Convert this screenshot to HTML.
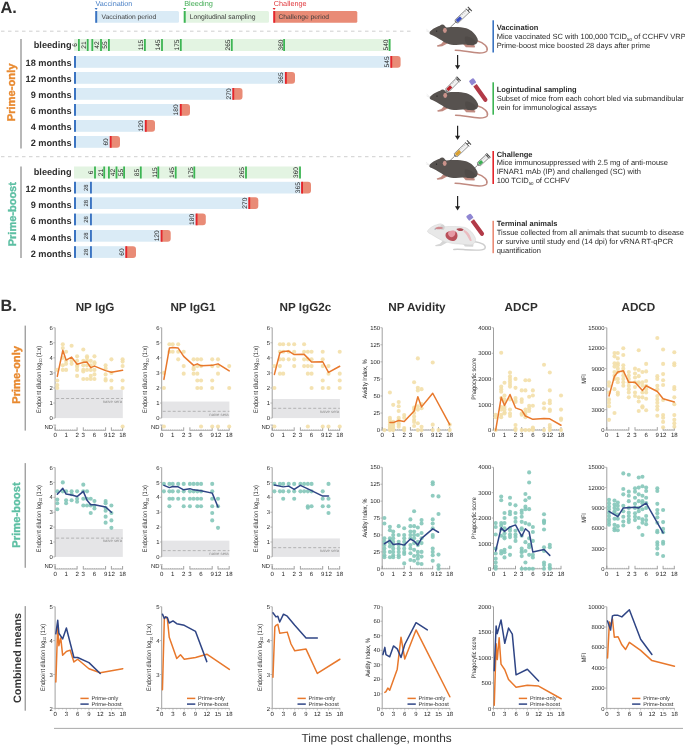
<!DOCTYPE html>
<html><head><meta charset="utf-8"><style>
html,body{margin:0;padding:0;background:#fff;}
svg{display:block;will-change:transform;}
text{font-family:"Liberation Sans",sans-serif;}
</style></head><body>
<svg width="685" height="745" viewBox="0 0 685 745" font-family="Liberation Sans, sans-serif" text-rendering="geometricPrecision">
<rect width="685" height="745" fill="#fff"/>
<text x="0.4" y="12.6" font-size="16.4" font-weight="bold" fill="#2e2e2e" text-anchor="start" >A.</text>
<text x="95.6" y="6.4" font-size="7.2" font-weight="normal" fill="#4a80c6" text-anchor="start" >Vaccination</text>
<path d="M94.6,8 L97.6,8 L96.1,10 Z" fill="#3b74c2"/>
<rect x="96" y="11" width="83" height="11.8" rx="1.5" fill="#daebf6"/>
<rect x="95.2" y="11" width="2" height="11.8" fill="#3b74c2"/>
<text x="101.6" y="19.2" font-size="6.7" font-weight="normal" fill="#3a3a3a" text-anchor="start" >Vaccination period</text>
<text x="184.2" y="6.4" font-size="7.4" font-weight="normal" fill="#45ad57" text-anchor="start" >Bleeding</text>
<path d="M183.2,8 L186.2,8 L184.7,10 Z" fill="#3db554"/>
<rect x="184.5" y="11" width="84.5" height="11.8" rx="1.5" fill="#e3f4e2"/>
<rect x="183.7" y="11" width="2" height="11.8" fill="#3db554"/>
<text x="189.7" y="19.2" font-size="6.8" font-weight="normal" fill="#3a3a3a" text-anchor="start" >Longitudinal sampling</text>
<text x="273.8" y="6.4" font-size="7.3" font-weight="normal" fill="#e0393e" text-anchor="start" >Challenge</text>
<path d="M272.6,8 L275.6,8 L274.1,10 Z" fill="#e4262c"/>
<rect x="274" y="11" width="83.3" height="11.8" rx="1.5" fill="#e98b76"/>
<rect x="273.2" y="11" width="2" height="11.8" fill="#e4262c"/>
<text x="278.5" y="19.2" font-size="6.7" font-weight="normal" fill="#3a3a3a" text-anchor="start" >Challenge period</text>
<line x1="1" y1="31.2" x2="412" y2="31.2" stroke="#cfcfcf" stroke-width="1" stroke-dasharray="3.5,3.5"/>
<line x1="1" y1="156.7" x2="412" y2="156.7" stroke="#cfcfcf" stroke-width="1" stroke-dasharray="3.5,3.5"/>
<rect x="20.3" y="39" width="1.4" height="109.5" fill="#9a9a9a"/>
<rect x="20.3" y="166.5" width="1.4" height="91.5" fill="#9a9a9a"/>
<text transform="translate(15.4,92.4) rotate(-90)" font-size="11.2" font-weight="bold" fill="#e8892f" text-anchor="middle" stroke="#e8892f" stroke-width="0.35">Prime-only</text>
<text transform="translate(16.2,214.2) rotate(-90)" font-size="11.0" font-weight="bold" fill="#5dbfa3" text-anchor="middle" stroke="#5dbfa3" stroke-width="0.35">Prime-boost</text>
<text x="71.5" y="47.6" font-size="9.2" font-weight="bold" fill="#2e2e2e" text-anchor="end" >bleeding</text>
<rect x="74" y="39" width="316.8" height="12" fill="#e3f4e2"/>
<rect x="78.0" y="39" width="1.8" height="12" fill="#3db554"/>
<text transform="translate(77.30000000000001,45.0) rotate(-90)" font-size="6.6" font-weight="normal" fill="#262626" text-anchor="middle" >6</text>
<rect x="86.8" y="39" width="1.8" height="12" fill="#3db554"/>
<text transform="translate(86.10000000000001,45.0) rotate(-90)" font-size="6.6" font-weight="normal" fill="#262626" text-anchor="middle" >21</text>
<rect x="91.39999999999999" y="39" width="1.8" height="12" fill="#3db554"/>
<rect x="100.1" y="39" width="1.8" height="12" fill="#3db554"/>
<text transform="translate(99.4,45.0) rotate(-90)" font-size="6.6" font-weight="normal" fill="#262626" text-anchor="middle" >42</text>
<rect x="108.0" y="39" width="1.8" height="12" fill="#3db554"/>
<text transform="translate(107.30000000000001,45.0) rotate(-90)" font-size="6.6" font-weight="normal" fill="#262626" text-anchor="middle" >55</text>
<rect x="144.0" y="39" width="1.8" height="12" fill="#3db554"/>
<text transform="translate(143.3,45.0) rotate(-90)" font-size="6.6" font-weight="normal" fill="#262626" text-anchor="middle" >115</text>
<rect x="161.1" y="39" width="1.8" height="12" fill="#3db554"/>
<text transform="translate(160.4,45.0) rotate(-90)" font-size="6.6" font-weight="normal" fill="#262626" text-anchor="middle" >145</text>
<rect x="179.9" y="39" width="1.8" height="12" fill="#3db554"/>
<text transform="translate(179.20000000000002,45.0) rotate(-90)" font-size="6.6" font-weight="normal" fill="#262626" text-anchor="middle" >175</text>
<rect x="230.9" y="39" width="1.8" height="12" fill="#3db554"/>
<text transform="translate(230.20000000000002,45.0) rotate(-90)" font-size="6.6" font-weight="normal" fill="#262626" text-anchor="middle" >265</text>
<rect x="283.20000000000005" y="39" width="1.8" height="12" fill="#3db554"/>
<text transform="translate(282.5,45.0) rotate(-90)" font-size="6.6" font-weight="normal" fill="#262626" text-anchor="middle" >360</text>
<rect x="388.70000000000005" y="39" width="1.8" height="12" fill="#3db554"/>
<text transform="translate(388.0,45.0) rotate(-90)" font-size="6.6" font-weight="normal" fill="#262626" text-anchor="middle" >540</text>
<text x="71.5" y="65.7" font-size="9.2" font-weight="bold" fill="#2e2e2e" text-anchor="end" >18 months</text>
<rect x="74" y="56" width="316.8" height="11.8" fill="#daebf6"/>
<rect x="74" y="56" width="2" height="11.8" fill="#3b74c2"/>
<path d="M390.8,56 H397.6 Q400.6,56 400.6,59 V64.8 Q400.6,67.8 397.6,67.8 H390.8 Z" fill="#e98b76"/>
<rect x="390.3" y="56" width="1.9" height="11.8" fill="#e4262c"/>
<text transform="translate(388.7,61.9) rotate(-90)" font-size="6.6" font-weight="normal" fill="#262626" text-anchor="middle" >545</text>
<text x="71.5" y="81.7" font-size="9.2" font-weight="bold" fill="#2e2e2e" text-anchor="end" >12 months</text>
<rect x="74" y="72" width="211.39999999999998" height="11.8" fill="#daebf6"/>
<rect x="74" y="72" width="2" height="11.8" fill="#3b74c2"/>
<path d="M285.4,72 H292 Q295,72 295,75 V80.8 Q295,83.8 292,83.8 H285.4 Z" fill="#e98b76"/>
<rect x="284.9" y="72" width="1.9" height="11.8" fill="#e4262c"/>
<text transform="translate(283.29999999999995,77.9) rotate(-90)" font-size="6.6" font-weight="normal" fill="#262626" text-anchor="middle" >365</text>
<text x="71.5" y="97.7" font-size="9.2" font-weight="bold" fill="#2e2e2e" text-anchor="end" >9 months</text>
<rect x="74" y="88" width="158.8" height="11.8" fill="#daebf6"/>
<rect x="74" y="88" width="2" height="11.8" fill="#3b74c2"/>
<path d="M232.8,88 H239.5 Q242.5,88 242.5,91 V96.8 Q242.5,99.8 239.5,99.8 H232.8 Z" fill="#e98b76"/>
<rect x="232.3" y="88" width="1.9" height="11.8" fill="#e4262c"/>
<text transform="translate(230.70000000000002,93.9) rotate(-90)" font-size="6.6" font-weight="normal" fill="#262626" text-anchor="middle" >270</text>
<text x="71.5" y="113.7" font-size="9.2" font-weight="bold" fill="#2e2e2e" text-anchor="end" >6 months</text>
<rect x="74" y="104" width="106.30000000000001" height="11.8" fill="#daebf6"/>
<rect x="74" y="104" width="2" height="11.8" fill="#3b74c2"/>
<path d="M180.3,104 H187 Q190,104 190,107 V112.8 Q190,115.8 187,115.8 H180.3 Z" fill="#e98b76"/>
<rect x="179.8" y="104" width="1.9" height="11.8" fill="#e4262c"/>
<text transform="translate(178.20000000000002,109.9) rotate(-90)" font-size="6.6" font-weight="normal" fill="#262626" text-anchor="middle" >180</text>
<text x="71.5" y="129.7" font-size="9.2" font-weight="bold" fill="#2e2e2e" text-anchor="end" >4 months</text>
<rect x="74" y="120" width="71.30000000000001" height="11.8" fill="#daebf6"/>
<rect x="74" y="120" width="2" height="11.8" fill="#3b74c2"/>
<path d="M145.3,120 H152 Q155,120 155,123 V128.8 Q155,131.8 152,131.8 H145.3 Z" fill="#e98b76"/>
<rect x="144.8" y="120" width="1.9" height="11.8" fill="#e4262c"/>
<text transform="translate(143.20000000000002,125.9) rotate(-90)" font-size="6.6" font-weight="normal" fill="#262626" text-anchor="middle" >120</text>
<text x="71.5" y="145.7" font-size="9.2" font-weight="bold" fill="#2e2e2e" text-anchor="end" >2 months</text>
<rect x="74" y="136" width="36.2" height="11.8" fill="#daebf6"/>
<rect x="74" y="136" width="2" height="11.8" fill="#3b74c2"/>
<path d="M110.2,136 H117 Q120,136 120,139 V144.8 Q120,147.8 117,147.8 H110.2 Z" fill="#e98b76"/>
<rect x="109.7" y="136" width="1.9" height="11.8" fill="#e4262c"/>
<text transform="translate(108.10000000000001,141.9) rotate(-90)" font-size="6.6" font-weight="normal" fill="#262626" text-anchor="middle" >60</text>
<text x="71.5" y="175.2" font-size="9.2" font-weight="bold" fill="#2e2e2e" text-anchor="end" >bleeding</text>
<rect x="74" y="166.5" width="226.6" height="12" fill="#e3f4e2"/>
<rect x="94.1" y="166.5" width="1.8" height="12" fill="#3db554"/>
<text transform="translate(93.4,172.5) rotate(-90)" font-size="6.6" font-weight="normal" fill="#262626" text-anchor="middle" >6</text>
<rect x="103.3" y="166.5" width="1.8" height="12" fill="#3db554"/>
<text transform="translate(102.60000000000001,172.5) rotate(-90)" font-size="6.6" font-weight="normal" fill="#262626" text-anchor="middle" >21</text>
<rect x="108.0" y="166.5" width="1.8" height="12" fill="#3db554"/>
<rect x="115.6" y="166.5" width="1.8" height="12" fill="#3db554"/>
<text transform="translate(114.9,172.5) rotate(-90)" font-size="6.6" font-weight="normal" fill="#262626" text-anchor="middle" >42</text>
<rect x="123.19999999999999" y="166.5" width="1.8" height="12" fill="#3db554"/>
<text transform="translate(122.5,172.5) rotate(-90)" font-size="6.6" font-weight="normal" fill="#262626" text-anchor="middle" >55</text>
<rect x="139.9" y="166.5" width="1.8" height="12" fill="#3db554"/>
<text transform="translate(139.20000000000002,172.5) rotate(-90)" font-size="6.6" font-weight="normal" fill="#262626" text-anchor="middle" >85</text>
<rect x="157.4" y="166.5" width="1.8" height="12" fill="#3db554"/>
<text transform="translate(156.70000000000002,172.5) rotate(-90)" font-size="6.6" font-weight="normal" fill="#262626" text-anchor="middle" >115</text>
<rect x="174.79999999999998" y="166.5" width="1.8" height="12" fill="#3db554"/>
<text transform="translate(174.1,172.5) rotate(-90)" font-size="6.6" font-weight="normal" fill="#262626" text-anchor="middle" >145</text>
<rect x="193.4" y="166.5" width="1.8" height="12" fill="#3db554"/>
<text transform="translate(192.70000000000002,172.5) rotate(-90)" font-size="6.6" font-weight="normal" fill="#262626" text-anchor="middle" >175</text>
<rect x="245.1" y="166.5" width="1.8" height="12" fill="#3db554"/>
<text transform="translate(244.4,172.5) rotate(-90)" font-size="6.6" font-weight="normal" fill="#262626" text-anchor="middle" >265</text>
<rect x="299.1" y="166.5" width="1.8" height="12" fill="#3db554"/>
<text transform="translate(298.4,172.5) rotate(-90)" font-size="6.6" font-weight="normal" fill="#262626" text-anchor="middle" >360</text>
<text x="71.5" y="192.3" font-size="9.2" font-weight="bold" fill="#2e2e2e" text-anchor="end" >12 months</text>
<rect x="74" y="181.8" width="227.60000000000002" height="11.7" fill="#daebf6"/>
<rect x="74" y="181.8" width="2" height="11.7" fill="#3b74c2"/>
<rect x="90" y="181.8" width="1.9" height="11.7" fill="#3b74c2"/>
<text transform="translate(88.3,187.65) rotate(-90)" font-size="6.0" font-weight="normal" fill="#262626" text-anchor="middle" >28</text>
<path d="M301.6,181.8 H308 Q311,181.8 311,184.8 V190.5 Q311,193.5 308,193.5 H301.6 Z" fill="#e98b76"/>
<rect x="301.1" y="181.8" width="1.9" height="11.7" fill="#e4262c"/>
<text transform="translate(299.5,187.65) rotate(-90)" font-size="6.6" font-weight="normal" fill="#262626" text-anchor="middle" >365</text>
<text x="71.5" y="207.8" font-size="9.2" font-weight="bold" fill="#2e2e2e" text-anchor="end" >9 months</text>
<rect x="74" y="197.3" width="174.8" height="11.7" fill="#daebf6"/>
<rect x="74" y="197.3" width="2" height="11.7" fill="#3b74c2"/>
<rect x="90" y="197.3" width="1.9" height="11.7" fill="#3b74c2"/>
<text transform="translate(88.3,203.15) rotate(-90)" font-size="6.0" font-weight="normal" fill="#262626" text-anchor="middle" >28</text>
<path d="M248.8,197.3 H255.3 Q258.3,197.3 258.3,200.3 V206.0 Q258.3,209.0 255.3,209.0 H248.8 Z" fill="#e98b76"/>
<rect x="248.3" y="197.3" width="1.9" height="11.7" fill="#e4262c"/>
<text transform="translate(246.70000000000002,203.15) rotate(-90)" font-size="6.6" font-weight="normal" fill="#262626" text-anchor="middle" >270</text>
<text x="71.5" y="224.1" font-size="9.2" font-weight="bold" fill="#2e2e2e" text-anchor="end" >6 months</text>
<rect x="74" y="213.6" width="122.1" height="11.7" fill="#daebf6"/>
<rect x="74" y="213.6" width="2" height="11.7" fill="#3b74c2"/>
<rect x="90" y="213.6" width="1.9" height="11.7" fill="#3b74c2"/>
<text transform="translate(88.3,219.45) rotate(-90)" font-size="6.0" font-weight="normal" fill="#262626" text-anchor="middle" >28</text>
<path d="M196.1,213.6 H202.8 Q205.8,213.6 205.8,216.6 V222.29999999999998 Q205.8,225.29999999999998 202.8,225.29999999999998 H196.1 Z" fill="#e98b76"/>
<rect x="195.6" y="213.6" width="1.9" height="11.7" fill="#e4262c"/>
<text transform="translate(194.0,219.45) rotate(-90)" font-size="6.6" font-weight="normal" fill="#262626" text-anchor="middle" >180</text>
<text x="71.5" y="240.5" font-size="9.2" font-weight="bold" fill="#2e2e2e" text-anchor="end" >4 months</text>
<rect x="74" y="230.0" width="87.1" height="11.7" fill="#daebf6"/>
<rect x="74" y="230.0" width="2" height="11.7" fill="#3b74c2"/>
<rect x="90" y="230.0" width="1.9" height="11.7" fill="#3b74c2"/>
<text transform="translate(88.3,235.85) rotate(-90)" font-size="6.0" font-weight="normal" fill="#262626" text-anchor="middle" >28</text>
<path d="M161.1,230.0 H167.7 Q170.7,230.0 170.7,233.0 V238.7 Q170.7,241.7 167.7,241.7 H161.1 Z" fill="#e98b76"/>
<rect x="160.6" y="230.0" width="1.9" height="11.7" fill="#e4262c"/>
<text transform="translate(159.0,235.85) rotate(-90)" font-size="6.6" font-weight="normal" fill="#262626" text-anchor="middle" >120</text>
<text x="71.5" y="256.7" font-size="9.2" font-weight="bold" fill="#2e2e2e" text-anchor="end" >2 months</text>
<rect x="74" y="246.2" width="51.8" height="11.7" fill="#daebf6"/>
<rect x="74" y="246.2" width="2" height="11.7" fill="#3b74c2"/>
<rect x="90" y="246.2" width="1.9" height="11.7" fill="#3b74c2"/>
<text transform="translate(88.3,252.04999999999998) rotate(-90)" font-size="6.0" font-weight="normal" fill="#262626" text-anchor="middle" >28</text>
<path d="M125.8,246.2 H133 Q136,246.2 136,249.2 V254.89999999999998 Q136,257.9 133,257.9 H125.8 Z" fill="#e98b76"/>
<rect x="125.3" y="246.2" width="1.9" height="11.7" fill="#e4262c"/>
<text transform="translate(123.7,252.04999999999998) rotate(-90)" font-size="6.6" font-weight="normal" fill="#262626" text-anchor="middle" >60</text>
<g transform="translate(429.3,32.6)">
<path d="M47.6,8.2 C55,10.2 59.2,14.6 57.6,18.2 C55.4,21.6 46,20.4 38,19 C33,18.2 29,17.6 26,17.6" fill="none" stroke="#c08a80" stroke-width="1.5" stroke-linecap="round"/>
<path d="M14.2,8.6 L11.8,11.4 L7.6,13 L8.2,14.1 L13,13.7 L16.6,11.6 L18.6,10.6 Z" fill="#c08a80"/>
<path d="M33.6,11.2 L36.6,14.6 L45.4,14.8 L45.8,13.2 L42.6,11.6 Z" fill="#c08a80"/>
<path d="M0,0 C1.8,-2.8 6.5,-5.6 10.5,-6.8 C12,-8.4 14,-8.6 15.2,-7.2 C16,-6.2 16.4,-5.6 17.5,-5.2 C23,-5.8 31,-6 37,-4.4 C42,-2.8 46.6,1.6 48.3,6.2 C49.2,9.4 47.4,12 44,12.6 C40,12.9 36.5,11.8 33,12 C28,12.6 22,12.8 18,10.8 L15,9.6 C12,7.6 8,5.2 4.2,3.2 C2,2.2 -0.2,1.8 0,0 Z" fill="#57524f"/>
<path d="M36,4 C41,4 45,6.5 46.5,10 C45.5,12 42,12.8 38,12.2 C35.5,10 35,6 36,4 Z" fill="#504b48"/>
<ellipse cx="15.6" cy="-2.3" rx="1.9" ry="2.6" fill="#c9928a"/>
<circle cx="7.4" cy="-1.5" r="0.6" fill="#1a1a1a"/>
<path d="M0.5,-0.5 L-3,-3.5 M0.5,-0.2 L-3.2,-1.8" stroke="#dddddd" stroke-width="0.5"/>
</g>
<g transform="translate(450.4,27.2) rotate(-43.17)">
<line x1="0" y1="0" x2="6.92" y2="0" stroke="#4a4a4a" stroke-width="0.6"/>
<path d="M6.92,-0.8 L8.12,-2.1 L8.12,2.1 L6.92,0.8 Z" fill="#6a6a6a"/>
<rect x="8.12" y="-2.2" width="15.96" height="4.4" rx="0.5" fill="#f2f2f2" stroke="#5e5e5e" stroke-width="0.6"/>
<rect x="8.72" y="-1.6" width="5.75" height="3.2" fill="#3a4fc0"/>
<line x1="15.30" y1="-2.2" x2="15.30" y2="-0.5" stroke="#888" stroke-width="0.45"/>
<line x1="17.37" y1="-2.2" x2="17.37" y2="-0.5" stroke="#888" stroke-width="0.45"/>
<line x1="19.45" y1="-2.2" x2="19.45" y2="-0.5" stroke="#888" stroke-width="0.45"/>
<line x1="21.52" y1="-2.2" x2="21.52" y2="-0.5" stroke="#888" stroke-width="0.45"/>
<line x1="24.08" y1="-2.8" x2="24.08" y2="2.8" stroke="#4a4a4a" stroke-width="0.8"/>
<line x1="24.08" y1="0" x2="26.60" y2="0" stroke="#4a4a4a" stroke-width="1.0"/>
<line x1="26.60" y1="-2.9" x2="26.60" y2="2.9" stroke="#4a4a4a" stroke-width="1.1"/>
</g>
<line x1="457.6" y1="55" x2="457.6" y2="66.5" stroke="#222" stroke-width="1.2"/><path d="M455.0,65.3 L460.20000000000005,65.3 L457.6,69.5 Z" fill="#222"/>
<g transform="translate(429.6,97.6)">
<path d="M47.6,8.2 C55,10.2 59.2,14.6 57.6,18.2 C55.4,21.6 46,20.4 38,19 C33,18.2 29,17.6 26,17.6" fill="none" stroke="#c08a80" stroke-width="1.5" stroke-linecap="round"/>
<path d="M14.2,8.6 L11.8,11.4 L7.6,13 L8.2,14.1 L13,13.7 L16.6,11.6 L18.6,10.6 Z" fill="#c08a80"/>
<path d="M33.6,11.2 L36.6,14.6 L45.4,14.8 L45.8,13.2 L42.6,11.6 Z" fill="#c08a80"/>
<path d="M0,0 C1.8,-2.8 6.5,-5.6 10.5,-6.8 C12,-8.4 14,-8.6 15.2,-7.2 C16,-6.2 16.4,-5.6 17.5,-5.2 C23,-5.8 31,-6 37,-4.4 C42,-2.8 46.6,1.6 48.3,6.2 C49.2,9.4 47.4,12 44,12.6 C40,12.9 36.5,11.8 33,12 C28,12.6 22,12.8 18,10.8 L15,9.6 C12,7.6 8,5.2 4.2,3.2 C2,2.2 -0.2,1.8 0,0 Z" fill="#57524f"/>
<path d="M36,4 C41,4 45,6.5 46.5,10 C45.5,12 42,12.8 38,12.2 C35.5,10 35,6 36,4 Z" fill="#504b48"/>
<ellipse cx="15.6" cy="-2.3" rx="1.9" ry="2.6" fill="#c9928a"/>
<circle cx="7.4" cy="-1.5" r="0.6" fill="#1a1a1a"/>
<path d="M0.5,-0.5 L-3,-3.5 M0.5,-0.2 L-3.2,-1.8" stroke="#dddddd" stroke-width="0.5"/>
</g>
<g transform="translate(444.4,93.2) rotate(-45.40)">
<line x1="0" y1="0" x2="2.43" y2="0" stroke="#4a4a4a" stroke-width="0.6"/>
<path d="M2.43,-0.8 L3.63,-2.1 L3.63,2.1 L2.43,0.8 Z" fill="#6a6a6a"/>
<rect x="3.63" y="-2.2" width="14.97" height="4.4" rx="0.5" fill="#f2f2f2" stroke="#5e5e5e" stroke-width="0.6"/>
<rect x="4.23" y="-1.6" width="5.39" height="3.2" fill="#b8232c"/>
<line x1="10.36" y1="-2.2" x2="10.36" y2="-0.5" stroke="#888" stroke-width="0.45"/>
<line x1="12.31" y1="-2.2" x2="12.31" y2="-0.5" stroke="#888" stroke-width="0.45"/>
<line x1="14.25" y1="-2.2" x2="14.25" y2="-0.5" stroke="#888" stroke-width="0.45"/>
<line x1="16.20" y1="-2.2" x2="16.20" y2="-0.5" stroke="#888" stroke-width="0.45"/>
<line x1="18.59" y1="-2.8" x2="18.59" y2="2.8" stroke="#4a4a4a" stroke-width="0.8"/>
<line x1="18.59" y1="0" x2="20.22" y2="0" stroke="#4a4a4a" stroke-width="1.0"/>
<line x1="20.22" y1="-2.9" x2="20.22" y2="2.9" stroke="#4a4a4a" stroke-width="1.1"/>
</g>
<g transform="translate(471.2,79.8) rotate(54.51)">
<rect x="-0.4" y="-2.8" width="5.6" height="5.6" rx="1.2" fill="#8f86d2"/>
<rect x="5" y="-2" width="1.8" height="4" fill="#f2f2f2"/>
<path d="M6.6,-2.1 H24.43 A2.1,2.1 0 0 1 24.43,2.1 H6.6 Z" fill="#b23a48"/>
</g>
<line x1="457.6" y1="125.8" x2="457.6" y2="137" stroke="#222" stroke-width="1.2"/><path d="M455.0,135.8 L460.20000000000005,135.8 L457.6,140 Z" fill="#222"/>
<g transform="translate(429.1,165.6)">
<path d="M47.6,8.2 C55,10.2 59.2,14.6 57.6,18.2 C55.4,21.6 46,20.4 38,19 C33,18.2 29,17.6 26,17.6" fill="none" stroke="#c08a80" stroke-width="1.5" stroke-linecap="round"/>
<path d="M14.2,8.6 L11.8,11.4 L7.6,13 L8.2,14.1 L13,13.7 L16.6,11.6 L18.6,10.6 Z" fill="#c08a80"/>
<path d="M33.6,11.2 L36.6,14.6 L45.4,14.8 L45.8,13.2 L42.6,11.6 Z" fill="#c08a80"/>
<path d="M0,0 C1.8,-2.8 6.5,-5.6 10.5,-6.8 C12,-8.4 14,-8.6 15.2,-7.2 C16,-6.2 16.4,-5.6 17.5,-5.2 C23,-5.8 31,-6 37,-4.4 C42,-2.8 46.6,1.6 48.3,6.2 C49.2,9.4 47.4,12 44,12.6 C40,12.9 36.5,11.8 33,12 C28,12.6 22,12.8 18,10.8 L15,9.6 C12,7.6 8,5.2 4.2,3.2 C2,2.2 -0.2,1.8 0,0 Z" fill="#57524f"/>
<path d="M36,4 C41,4 45,6.5 46.5,10 C45.5,12 42,12.8 38,12.2 C35.5,10 35,6 36,4 Z" fill="#504b48"/>
<ellipse cx="15.6" cy="-2.3" rx="1.9" ry="2.6" fill="#c9928a"/>
<circle cx="7.4" cy="-1.5" r="0.6" fill="#1a1a1a"/>
<path d="M0.5,-0.5 L-3,-3.5 M0.5,-0.2 L-3.2,-1.8" stroke="#dddddd" stroke-width="0.5"/>
</g>
<g transform="translate(449.6,161.0) rotate(-43.48)">
<line x1="0" y1="0" x2="6.95" y2="0" stroke="#4a4a4a" stroke-width="0.6"/>
<path d="M6.95,-0.8 L8.15,-2.1 L8.15,2.1 L6.95,0.8 Z" fill="#6a6a6a"/>
<rect x="8.15" y="-2.2" width="16.04" height="4.4" rx="0.5" fill="#f2f2f2" stroke="#5e5e5e" stroke-width="0.6"/>
<rect x="8.75" y="-1.6" width="5.78" height="3.2" fill="#d9a030"/>
<line x1="15.37" y1="-2.2" x2="15.37" y2="-0.5" stroke="#888" stroke-width="0.45"/>
<line x1="17.46" y1="-2.2" x2="17.46" y2="-0.5" stroke="#888" stroke-width="0.45"/>
<line x1="19.54" y1="-2.2" x2="19.54" y2="-0.5" stroke="#888" stroke-width="0.45"/>
<line x1="21.63" y1="-2.2" x2="21.63" y2="-0.5" stroke="#888" stroke-width="0.45"/>
<line x1="24.19" y1="-2.8" x2="24.19" y2="2.8" stroke="#4a4a4a" stroke-width="0.8"/>
<line x1="24.19" y1="0" x2="26.74" y2="0" stroke="#4a4a4a" stroke-width="1.0"/>
<line x1="26.74" y1="-2.9" x2="26.74" y2="2.9" stroke="#4a4a4a" stroke-width="1.1"/>
</g>
<g transform="translate(473.9,168.7) rotate(-42.53)">
<line x1="0" y1="0" x2="5.12" y2="0" stroke="#4a4a4a" stroke-width="0.6"/>
<path d="M5.12,-0.8 L6.32,-2.1 L6.32,2.1 L5.12,0.8 Z" fill="#6a6a6a"/>
<rect x="6.32" y="-2.2" width="11.81" height="4.4" rx="0.5" fill="#f2f2f2" stroke="#5e5e5e" stroke-width="0.6"/>
<rect x="6.92" y="-1.6" width="4.25" height="3.2" fill="#3cae54"/>
<line x1="11.63" y1="-2.2" x2="11.63" y2="-0.5" stroke="#888" stroke-width="0.45"/>
<line x1="13.16" y1="-2.2" x2="13.16" y2="-0.5" stroke="#888" stroke-width="0.45"/>
<line x1="14.70" y1="-2.2" x2="14.70" y2="-0.5" stroke="#888" stroke-width="0.45"/>
<line x1="16.23" y1="-2.2" x2="16.23" y2="-0.5" stroke="#888" stroke-width="0.45"/>
<line x1="18.12" y1="-2.8" x2="18.12" y2="2.8" stroke="#4a4a4a" stroke-width="0.8"/>
<line x1="18.12" y1="0" x2="19.68" y2="0" stroke="#4a4a4a" stroke-width="1.0"/>
<line x1="19.68" y1="-2.9" x2="19.68" y2="2.9" stroke="#4a4a4a" stroke-width="1.1"/>
</g>
<line x1="457.6" y1="196" x2="457.6" y2="207.5" stroke="#222" stroke-width="1.2"/><path d="M455.0,206.3 L460.20000000000005,206.3 L457.6,210.5 Z" fill="#222"/>
<g transform="translate(427.5,230.9)">
<path d="M46.5,10.5 C54,11.5 59.5,14.5 57.2,17.8 C54.5,20.2 44,19.2 36,18.6 C31,18.3 28,18.4 26.3,18.5" fill="none" stroke="#cdcdcd" stroke-width="1.5" stroke-linecap="round"/>
<path d="M15.5,9.5 L12.5,12.8 L7.6,14.4 L8.2,15.4 L13.4,15 L17.8,12.6 L19.6,11.4 Z" fill="#d6d6d6"/>
<path d="M35,12.2 L37.4,15.6 L45.6,15.8 L46,13.6 L43,12.4 Z" fill="#d6d6d6"/>
<path d="M0,0 C2,-3 6,-5.5 9.4,-6.2 C11,-6.8 12.5,-7.2 13.5,-7 C15,-6.6 16.5,-5 17.3,-4.2 C24,-4.6 31,-4.6 37,-3.6 C42,-2 46,2.5 48,7.5 C48.8,10.5 46.5,13.5 43.5,14 C39,14.2 35,13 31,13 C27,13 24,12.5 21,11.6 L17.5,11 C13,9 8,6 4,3.5 C2,2.5 -0.3,1.5 0,0 Z" fill="#e8e8e8" stroke="#d2d2d2" stroke-width="0.5"/>
<ellipse cx="15" cy="-3.6" rx="2.2" ry="2.8" fill="#d3d3d3"/>
<path d="M7.5,-2.5 C9.5,-4.5 13.5,-4.5 16,-3 C14,-1.5 10,-1 7.5,-2.5 Z" fill="#cf8b90"/>
<circle cx="7.6" cy="-1.8" r="0.55" fill="#6a7c90"/>
<path d="M18,4 C18,1.5 21,0 24,0.5 C27,-0.5 30,1 30,4.5 C30,8 28,10 25,10 C23,10 21,9 19.5,7.5 C18.5,6.5 18,5.5 18,4 Z" fill="#b9505a"/>
<path d="M20.5,2 C21.5,-0.5 25,-1 27.5,0 C28.5,2 27.5,5 25,6.2 C22.5,6.5 20.5,4.5 20.5,2 Z" fill="#e69aa5"/>
<path d="M28.8,-2 C31,-3 34.5,-2.8 36.2,-1.5 C35,0.5 31.5,1 28.8,-2 Z" fill="#b04a53"/>
<path d="M36.5,-1 C40,0 43,4 44.3,9.9 L42.5,10.2 C40.5,6 38.5,2.5 36,0.5 Z" fill="#ebbcc0"/>
</g>
<g transform="translate(468.4,215.2) rotate(53.77)">
<rect x="-0.4" y="-2.8" width="5.6" height="5.6" rx="1.2" fill="#8f86d2"/>
<rect x="5" y="-2" width="1.8" height="4" fill="#f2f2f2"/>
<path d="M6.6,-2.1 H22.94 A2.1,2.1 0 0 1 22.94,2.1 H6.6 Z" fill="#b23a48"/>
</g>
<rect x="492.4" y="20.3" width="1.6" height="32.2" fill="#3b74c2"/>
<text x="496.7" y="30.20" font-size="7.5" fill="#2a2a2a"><tspan font-weight="bold">Vaccination</tspan></text>
<text x="496.7" y="39.00" font-size="7.5" fill="#2a2a2a">Mice vaccinated SC with 100,000 TCID<tspan font-size="4.4" dy="1.9">50</tspan><tspan dy="-1.9"> of CCHFV VRP</tspan></text>
<text x="496.7" y="47.80" font-size="7.5" fill="#2a2a2a">Prime-boost mice boosted 28 days after prime</text>
<rect x="492.4" y="82.3" width="1.6" height="32.4" fill="#3db554"/>
<text x="496.7" y="91.90" font-size="7.5" fill="#2a2a2a"><tspan font-weight="bold">Logintudinal sampling</tspan></text>
<text x="496.7" y="100.70" font-size="7.5" fill="#2a2a2a">Subset of mice from each cohort bled via submandibular</text>
<text x="496.7" y="109.50" font-size="7.5" fill="#2a2a2a">vein for immunological assays</text>
<rect x="492.4" y="151.0" width="1.6" height="33.0" fill="#e4262c"/>
<text x="496.7" y="156.60" font-size="7.5" fill="#2a2a2a"><tspan font-weight="bold">Challenge</tspan></text>
<text x="496.7" y="165.40" font-size="7.5" fill="#2a2a2a">Mice immunosuppressed with 2.5 mg of anti-mouse</text>
<text x="496.7" y="174.20" font-size="7.5" fill="#2a2a2a">IFNAR1 mAb (IP) and challenged (SC) with</text>
<text x="496.7" y="183.00" font-size="7.5" fill="#2a2a2a">100 TCID<tspan font-size="4.4" dy="1.9">50</tspan><tspan dy="-1.9"> of CCHFV</tspan></text>
<rect x="492.4" y="220.8" width="1.6" height="32.4" fill="#e98b76"/>
<text x="496.7" y="226.10" font-size="7.5" fill="#2a2a2a"><tspan font-weight="bold">Terminal animals</tspan></text>
<text x="496.7" y="234.90" font-size="7.5" fill="#2a2a2a">Tissue collected from all animals that sucumb to disease</text>
<text x="496.7" y="243.70" font-size="7.5" fill="#2a2a2a">or survive until study end (14 dpi) for vRNA RT-qPCR</text>
<text x="496.7" y="252.50" font-size="7.5" fill="#2a2a2a">quantification</text>
<text x="0.6" y="311.0" font-size="16.2" font-weight="bold" fill="#2e2e2e" text-anchor="start" >B.</text>
<text x="95.05" y="311.0" font-size="11.7" font-weight="bold" fill="#2e2e2e" text-anchor="middle" >NP IgG</text>
<text x="193.0" y="311.0" font-size="11.7" font-weight="bold" fill="#2e2e2e" text-anchor="middle" >NP IgG1</text>
<text x="305.45" y="311.0" font-size="11.7" font-weight="bold" fill="#2e2e2e" text-anchor="middle" >NP IgG2c</text>
<text x="416.9" y="311.0" font-size="11.7" font-weight="bold" fill="#2e2e2e" text-anchor="middle" >NP Avidity</text>
<text x="521.15" y="311.0" font-size="11.7" font-weight="bold" fill="#2e2e2e" text-anchor="middle" >ADCP</text>
<text x="638.35" y="311.0" font-size="11.7" font-weight="bold" fill="#2e2e2e" text-anchor="middle" >ADCD</text>
<rect x="24.6" y="325.6" width="1.3" height="105" fill="#9a9a9a"/>
<rect x="24.6" y="463.1" width="1.3" height="104.7" fill="#9a9a9a"/>
<rect x="24.6" y="606.1" width="1.3" height="104.6" fill="#9a9a9a"/>
<text transform="translate(19.8,374.9) rotate(-90)" font-size="11.2" font-weight="bold" fill="#e8892f" text-anchor="middle" stroke="#e8892f" stroke-width="0.35">Prime-only</text>
<text transform="translate(20.2,515.0) rotate(-90)" font-size="11.2" font-weight="bold" fill="#5dbfa3" text-anchor="middle" stroke="#5dbfa3" stroke-width="0.35">Prime-boost</text>
<text transform="translate(20.8,658.0) rotate(-90)" font-size="10.8" font-weight="bold" fill="#333" text-anchor="middle" >Combined means</text>
<line x1="54" y1="728.4" x2="683" y2="728.4" stroke="#a0a0a0" stroke-width="0.9"/>
<text x="376.6" y="742.3" font-size="11.8" font-weight="normal" fill="#333" text-anchor="middle" >Time post challenge, months</text>
<rect x="55.1" y="389.77" width="67.7" height="28.33" fill="#e5e5e7"/>
<line x1="56.1" y1="398.51" x2="122.80000000000001" y2="398.51" stroke="#9e9e9e" stroke-width="0.7" stroke-dasharray="3,2"/>
<text x="122.1" y="402.71" font-size="4.2" fill="#8c8c8c" text-anchor="end">naive sera</text>
<line x1="55.1" y1="327.7" x2="55.1" y2="418.1" stroke="#a0a0a0" stroke-width="1.0"/>
<line x1="53.300000000000004" y1="418.10" x2="55.1" y2="418.10" stroke="#a0a0a0" stroke-width="0.7"/>
<text x="52.9" y="420.20" font-size="5.9" fill="#1e1e1e" text-anchor="end">0</text>
<line x1="53.300000000000004" y1="403.03" x2="55.1" y2="403.03" stroke="#a0a0a0" stroke-width="0.7"/>
<text x="52.9" y="405.13" font-size="5.9" fill="#1e1e1e" text-anchor="end">1</text>
<line x1="53.300000000000004" y1="387.97" x2="55.1" y2="387.97" stroke="#a0a0a0" stroke-width="0.7"/>
<text x="52.9" y="390.07" font-size="5.9" fill="#1e1e1e" text-anchor="end">2</text>
<line x1="53.300000000000004" y1="372.90" x2="55.1" y2="372.90" stroke="#a0a0a0" stroke-width="0.7"/>
<text x="52.9" y="375.00" font-size="5.9" fill="#1e1e1e" text-anchor="end">3</text>
<line x1="53.300000000000004" y1="357.83" x2="55.1" y2="357.83" stroke="#a0a0a0" stroke-width="0.7"/>
<text x="52.9" y="359.93" font-size="5.9" fill="#1e1e1e" text-anchor="end">4</text>
<line x1="53.300000000000004" y1="342.77" x2="55.1" y2="342.77" stroke="#a0a0a0" stroke-width="0.7"/>
<text x="52.9" y="344.87" font-size="5.9" fill="#1e1e1e" text-anchor="end">5</text>
<line x1="53.300000000000004" y1="327.70" x2="55.1" y2="327.70" stroke="#a0a0a0" stroke-width="0.7"/>
<text x="52.9" y="329.80" font-size="5.9" fill="#1e1e1e" text-anchor="end">6</text>
<line x1="55.1" y1="425.0" x2="55.1" y2="430.3" stroke="#a0a0a0" stroke-width="0.9"/>
<line x1="53.300000000000004" y1="425.00" x2="56.1" y2="425.00" stroke="#a0a0a0" stroke-width="0.7"/>
<text x="52.9" y="428.60" font-size="5.9" fill="#1e1e1e" text-anchor="end">ND</text>
<line x1="55.1" y1="430.3" x2="77.1" y2="430.3" stroke="#a0a0a0" stroke-width="0.9"/>
<line x1="55.1" y1="427.3" x2="55.1" y2="430.7" stroke="#8a8a8a" stroke-width="0.8"/>
<line x1="77.1" y1="427.3" x2="77.1" y2="430.7" stroke="#8a8a8a" stroke-width="0.8"/>
<line x1="57.30" y1="429.3" x2="57.30" y2="430.3" stroke="#a0a0a0" stroke-width="0.6"/>
<line x1="59.50" y1="429.3" x2="59.50" y2="430.3" stroke="#a0a0a0" stroke-width="0.6"/>
<line x1="61.70" y1="429.3" x2="61.70" y2="430.3" stroke="#a0a0a0" stroke-width="0.6"/>
<line x1="63.90" y1="429.3" x2="63.90" y2="430.3" stroke="#a0a0a0" stroke-width="0.6"/>
<line x1="66.10" y1="429.3" x2="66.10" y2="430.3" stroke="#a0a0a0" stroke-width="0.6"/>
<line x1="68.30" y1="429.3" x2="68.30" y2="430.3" stroke="#a0a0a0" stroke-width="0.6"/>
<line x1="70.50" y1="429.3" x2="70.50" y2="430.3" stroke="#a0a0a0" stroke-width="0.6"/>
<line x1="72.70" y1="429.3" x2="72.70" y2="430.3" stroke="#a0a0a0" stroke-width="0.6"/>
<line x1="74.90" y1="429.3" x2="74.90" y2="430.3" stroke="#a0a0a0" stroke-width="0.6"/>
<line x1="83.3" y1="430.3" x2="105.6" y2="430.3" stroke="#a0a0a0" stroke-width="0.9"/>
<line x1="83.3" y1="427.3" x2="83.3" y2="430.7" stroke="#8a8a8a" stroke-width="0.8"/>
<line x1="105.6" y1="427.3" x2="105.6" y2="430.7" stroke="#8a8a8a" stroke-width="0.8"/>
<line x1="85.53" y1="429.3" x2="85.53" y2="430.3" stroke="#a0a0a0" stroke-width="0.6"/>
<line x1="87.76" y1="429.3" x2="87.76" y2="430.3" stroke="#a0a0a0" stroke-width="0.6"/>
<line x1="89.99" y1="429.3" x2="89.99" y2="430.3" stroke="#a0a0a0" stroke-width="0.6"/>
<line x1="92.22" y1="429.3" x2="92.22" y2="430.3" stroke="#a0a0a0" stroke-width="0.6"/>
<line x1="94.45" y1="429.3" x2="94.45" y2="430.3" stroke="#a0a0a0" stroke-width="0.6"/>
<line x1="96.68" y1="429.3" x2="96.68" y2="430.3" stroke="#a0a0a0" stroke-width="0.6"/>
<line x1="98.91" y1="429.3" x2="98.91" y2="430.3" stroke="#a0a0a0" stroke-width="0.6"/>
<line x1="101.14" y1="429.3" x2="101.14" y2="430.3" stroke="#a0a0a0" stroke-width="0.6"/>
<line x1="103.37" y1="429.3" x2="103.37" y2="430.3" stroke="#a0a0a0" stroke-width="0.6"/>
<line x1="111.4" y1="430.3" x2="122.6" y2="430.3" stroke="#a0a0a0" stroke-width="0.9"/>
<line x1="111.4" y1="427.3" x2="111.4" y2="430.7" stroke="#8a8a8a" stroke-width="0.8"/>
<line x1="122.6" y1="427.3" x2="122.6" y2="430.7" stroke="#8a8a8a" stroke-width="0.8"/>
<line x1="113.64" y1="429.3" x2="113.64" y2="430.3" stroke="#a0a0a0" stroke-width="0.6"/>
<line x1="115.88" y1="429.3" x2="115.88" y2="430.3" stroke="#a0a0a0" stroke-width="0.6"/>
<line x1="118.12" y1="429.3" x2="118.12" y2="430.3" stroke="#a0a0a0" stroke-width="0.6"/>
<line x1="120.36" y1="429.3" x2="120.36" y2="430.3" stroke="#a0a0a0" stroke-width="0.6"/>
<text x="55.10" y="437.1" font-size="6.1" fill="#1e1e1e" text-anchor="middle">0</text>
<text x="66.10" y="437.1" font-size="6.1" fill="#1e1e1e" text-anchor="middle">1</text>
<text x="77.10" y="437.1" font-size="6.1" fill="#1e1e1e" text-anchor="middle">2</text>
<text x="83.30" y="437.1" font-size="6.1" fill="#1e1e1e" text-anchor="middle">3</text>
<text x="94.46" y="437.1" font-size="6.1" fill="#1e1e1e" text-anchor="middle">6</text>
<text x="105.62" y="437.1" font-size="6.1" fill="#1e1e1e" text-anchor="middle">9</text>
<text x="111.40" y="437.1" font-size="6.1" fill="#1e1e1e" text-anchor="middle">12</text>
<text x="122.62" y="437.1" font-size="6.1" fill="#1e1e1e" text-anchor="middle">18</text>
<text transform="translate(40.70,379.40) rotate(-90) scale(0.86,1)" font-size="6.5" fill="#2a2a2a" text-anchor="middle">Endpoint dilution log<tspan font-size="4.2" dy="1.4">10</tspan><tspan dy="-1.4"> (1:x)</tspan></text>
<g fill="#f3dfa8" fill-opacity="0.9"><circle cx="57.30" cy="369.89" r="2.05"/><circle cx="57.30" cy="380.43" r="2.05"/><circle cx="57.30" cy="384.95" r="2.05"/><circle cx="57.30" cy="387.97" r="2.05"/><circle cx="62.80" cy="344.27" r="2.05"/><circle cx="62.80" cy="348.04" r="2.05"/><circle cx="62.80" cy="357.83" r="2.05"/><circle cx="62.80" cy="365.37" r="2.05"/><circle cx="62.80" cy="369.89" r="2.05"/><circle cx="66.10" cy="351.81" r="2.05"/><circle cx="66.10" cy="360.85" r="2.05"/><circle cx="66.10" cy="363.86" r="2.05"/><circle cx="66.10" cy="369.89" r="2.05"/><circle cx="71.60" cy="345.78" r="2.05"/><circle cx="71.60" cy="360.85" r="2.05"/><circle cx="71.60" cy="363.86" r="2.05"/><circle cx="77.10" cy="356.33" r="2.05"/><circle cx="77.10" cy="360.85" r="2.05"/><circle cx="77.10" cy="365.37" r="2.05"/><circle cx="77.10" cy="366.87" r="2.05"/><circle cx="77.10" cy="369.89" r="2.05"/><circle cx="77.10" cy="375.91" r="2.05"/><circle cx="83.30" cy="349.55" r="2.05"/><circle cx="83.30" cy="360.85" r="2.05"/><circle cx="83.30" cy="365.37" r="2.05"/><circle cx="83.30" cy="369.89" r="2.05"/><circle cx="83.30" cy="371.39" r="2.05"/><circle cx="83.30" cy="378.93" r="2.05"/><circle cx="87.02" cy="356.33" r="2.05"/><circle cx="87.02" cy="357.83" r="2.05"/><circle cx="87.02" cy="360.85" r="2.05"/><circle cx="87.02" cy="365.37" r="2.05"/><circle cx="87.02" cy="369.89" r="2.05"/><circle cx="87.02" cy="378.93" r="2.05"/><circle cx="90.74" cy="360.85" r="2.05"/><circle cx="90.74" cy="365.37" r="2.05"/><circle cx="90.74" cy="369.89" r="2.05"/><circle cx="90.74" cy="375.91" r="2.05"/><circle cx="90.74" cy="378.93" r="2.05"/><circle cx="94.46" cy="356.33" r="2.05"/><circle cx="94.46" cy="362.35" r="2.05"/><circle cx="94.46" cy="363.86" r="2.05"/><circle cx="94.46" cy="369.89" r="2.05"/><circle cx="94.46" cy="374.41" r="2.05"/><circle cx="94.46" cy="378.93" r="2.05"/><circle cx="105.62" cy="365.37" r="2.05"/><circle cx="105.62" cy="368.38" r="2.05"/><circle cx="105.62" cy="374.41" r="2.05"/><circle cx="105.62" cy="378.93" r="2.05"/><circle cx="105.62" cy="380.43" r="2.05"/><circle cx="111.40" cy="359.34" r="2.05"/><circle cx="111.40" cy="372.90" r="2.05"/><circle cx="111.40" cy="380.43" r="2.05"/><circle cx="111.40" cy="387.97" r="2.05"/><circle cx="122.62" cy="359.34" r="2.05"/><circle cx="122.62" cy="361.60" r="2.05"/><circle cx="122.62" cy="366.12" r="2.05"/><circle cx="122.62" cy="380.43" r="2.05"/><circle cx="122.62" cy="387.97" r="2.05"/></g>
<circle cx="122.62" cy="426.5" r="2.05" fill="#f3dfa8" fill-opacity="0.9"/>
<polyline points="57.30,376.37 62.80,350.30 66.10,360.09 71.60,357.08 77.10,364.31 83.30,362.35 87.02,362.05 90.74,367.63 94.46,366.12 105.62,370.64 111.40,372.15 122.62,370.34" fill="none" stroke="#e8782c" stroke-width="1.5" stroke-linejoin="round" stroke-linecap="round"/>
<rect x="161.7" y="401.53" width="67.7" height="16.57" fill="#e5e5e7"/>
<line x1="162.7" y1="411.32" x2="229.39999999999998" y2="411.32" stroke="#9e9e9e" stroke-width="0.7" stroke-dasharray="3,2"/>
<text x="228.7" y="415.52" font-size="4.2" fill="#8c8c8c" text-anchor="end">naive sera</text>
<line x1="161.7" y1="327.7" x2="161.7" y2="418.1" stroke="#a0a0a0" stroke-width="1.0"/>
<line x1="159.89999999999998" y1="418.10" x2="161.7" y2="418.10" stroke="#a0a0a0" stroke-width="0.7"/>
<text x="159.5" y="420.20" font-size="5.9" fill="#1e1e1e" text-anchor="end">0</text>
<line x1="159.89999999999998" y1="403.03" x2="161.7" y2="403.03" stroke="#a0a0a0" stroke-width="0.7"/>
<text x="159.5" y="405.13" font-size="5.9" fill="#1e1e1e" text-anchor="end">1</text>
<line x1="159.89999999999998" y1="387.97" x2="161.7" y2="387.97" stroke="#a0a0a0" stroke-width="0.7"/>
<text x="159.5" y="390.07" font-size="5.9" fill="#1e1e1e" text-anchor="end">2</text>
<line x1="159.89999999999998" y1="372.90" x2="161.7" y2="372.90" stroke="#a0a0a0" stroke-width="0.7"/>
<text x="159.5" y="375.00" font-size="5.9" fill="#1e1e1e" text-anchor="end">3</text>
<line x1="159.89999999999998" y1="357.83" x2="161.7" y2="357.83" stroke="#a0a0a0" stroke-width="0.7"/>
<text x="159.5" y="359.93" font-size="5.9" fill="#1e1e1e" text-anchor="end">4</text>
<line x1="159.89999999999998" y1="342.77" x2="161.7" y2="342.77" stroke="#a0a0a0" stroke-width="0.7"/>
<text x="159.5" y="344.87" font-size="5.9" fill="#1e1e1e" text-anchor="end">5</text>
<line x1="159.89999999999998" y1="327.70" x2="161.7" y2="327.70" stroke="#a0a0a0" stroke-width="0.7"/>
<text x="159.5" y="329.80" font-size="5.9" fill="#1e1e1e" text-anchor="end">6</text>
<line x1="161.7" y1="425.0" x2="161.7" y2="430.3" stroke="#a0a0a0" stroke-width="0.9"/>
<line x1="159.89999999999998" y1="425.00" x2="162.7" y2="425.00" stroke="#a0a0a0" stroke-width="0.7"/>
<text x="159.5" y="428.60" font-size="5.9" fill="#1e1e1e" text-anchor="end">ND</text>
<line x1="161.7" y1="430.3" x2="183.7" y2="430.3" stroke="#a0a0a0" stroke-width="0.9"/>
<line x1="161.7" y1="427.3" x2="161.7" y2="430.7" stroke="#8a8a8a" stroke-width="0.8"/>
<line x1="183.7" y1="427.3" x2="183.7" y2="430.7" stroke="#8a8a8a" stroke-width="0.8"/>
<line x1="163.90" y1="429.3" x2="163.90" y2="430.3" stroke="#a0a0a0" stroke-width="0.6"/>
<line x1="166.10" y1="429.3" x2="166.10" y2="430.3" stroke="#a0a0a0" stroke-width="0.6"/>
<line x1="168.30" y1="429.3" x2="168.30" y2="430.3" stroke="#a0a0a0" stroke-width="0.6"/>
<line x1="170.50" y1="429.3" x2="170.50" y2="430.3" stroke="#a0a0a0" stroke-width="0.6"/>
<line x1="172.70" y1="429.3" x2="172.70" y2="430.3" stroke="#a0a0a0" stroke-width="0.6"/>
<line x1="174.90" y1="429.3" x2="174.90" y2="430.3" stroke="#a0a0a0" stroke-width="0.6"/>
<line x1="177.10" y1="429.3" x2="177.10" y2="430.3" stroke="#a0a0a0" stroke-width="0.6"/>
<line x1="179.30" y1="429.3" x2="179.30" y2="430.3" stroke="#a0a0a0" stroke-width="0.6"/>
<line x1="181.50" y1="429.3" x2="181.50" y2="430.3" stroke="#a0a0a0" stroke-width="0.6"/>
<line x1="189.89999999999998" y1="430.3" x2="212.2" y2="430.3" stroke="#a0a0a0" stroke-width="0.9"/>
<line x1="189.89999999999998" y1="427.3" x2="189.89999999999998" y2="430.7" stroke="#8a8a8a" stroke-width="0.8"/>
<line x1="212.2" y1="427.3" x2="212.2" y2="430.7" stroke="#8a8a8a" stroke-width="0.8"/>
<line x1="192.13" y1="429.3" x2="192.13" y2="430.3" stroke="#a0a0a0" stroke-width="0.6"/>
<line x1="194.36" y1="429.3" x2="194.36" y2="430.3" stroke="#a0a0a0" stroke-width="0.6"/>
<line x1="196.59" y1="429.3" x2="196.59" y2="430.3" stroke="#a0a0a0" stroke-width="0.6"/>
<line x1="198.82" y1="429.3" x2="198.82" y2="430.3" stroke="#a0a0a0" stroke-width="0.6"/>
<line x1="201.05" y1="429.3" x2="201.05" y2="430.3" stroke="#a0a0a0" stroke-width="0.6"/>
<line x1="203.28" y1="429.3" x2="203.28" y2="430.3" stroke="#a0a0a0" stroke-width="0.6"/>
<line x1="205.51" y1="429.3" x2="205.51" y2="430.3" stroke="#a0a0a0" stroke-width="0.6"/>
<line x1="207.74" y1="429.3" x2="207.74" y2="430.3" stroke="#a0a0a0" stroke-width="0.6"/>
<line x1="209.97" y1="429.3" x2="209.97" y2="430.3" stroke="#a0a0a0" stroke-width="0.6"/>
<line x1="218.0" y1="430.3" x2="229.2" y2="430.3" stroke="#a0a0a0" stroke-width="0.9"/>
<line x1="218.0" y1="427.3" x2="218.0" y2="430.7" stroke="#8a8a8a" stroke-width="0.8"/>
<line x1="229.2" y1="427.3" x2="229.2" y2="430.7" stroke="#8a8a8a" stroke-width="0.8"/>
<line x1="220.24" y1="429.3" x2="220.24" y2="430.3" stroke="#a0a0a0" stroke-width="0.6"/>
<line x1="222.48" y1="429.3" x2="222.48" y2="430.3" stroke="#a0a0a0" stroke-width="0.6"/>
<line x1="224.72" y1="429.3" x2="224.72" y2="430.3" stroke="#a0a0a0" stroke-width="0.6"/>
<line x1="226.96" y1="429.3" x2="226.96" y2="430.3" stroke="#a0a0a0" stroke-width="0.6"/>
<text x="161.70" y="437.1" font-size="6.1" fill="#1e1e1e" text-anchor="middle">0</text>
<text x="172.70" y="437.1" font-size="6.1" fill="#1e1e1e" text-anchor="middle">1</text>
<text x="183.70" y="437.1" font-size="6.1" fill="#1e1e1e" text-anchor="middle">2</text>
<text x="189.90" y="437.1" font-size="6.1" fill="#1e1e1e" text-anchor="middle">3</text>
<text x="201.06" y="437.1" font-size="6.1" fill="#1e1e1e" text-anchor="middle">6</text>
<text x="212.22" y="437.1" font-size="6.1" fill="#1e1e1e" text-anchor="middle">9</text>
<text x="218.00" y="437.1" font-size="6.1" fill="#1e1e1e" text-anchor="middle">12</text>
<text x="229.22" y="437.1" font-size="6.1" fill="#1e1e1e" text-anchor="middle">18</text>
<text transform="translate(147.30,379.40) rotate(-90) scale(0.86,1)" font-size="6.5" fill="#2a2a2a" text-anchor="middle">Endpoint dilution log<tspan font-size="4.2" dy="1.4">10</tspan><tspan dy="-1.4"> (1:x)</tspan></text>
<g fill="#f3dfa8" fill-opacity="0.9"><circle cx="163.90" cy="372.90" r="2.05"/><circle cx="163.90" cy="387.97" r="2.05"/><circle cx="169.40" cy="344.27" r="2.05"/><circle cx="169.40" cy="351.81" r="2.05"/><circle cx="172.70" cy="344.27" r="2.05"/><circle cx="172.70" cy="351.81" r="2.05"/><circle cx="178.20" cy="344.27" r="2.05"/><circle cx="178.20" cy="351.81" r="2.05"/><circle cx="178.20" cy="359.34" r="2.05"/><circle cx="183.70" cy="351.81" r="2.05"/><circle cx="183.70" cy="366.12" r="2.05"/><circle cx="183.70" cy="373.65" r="2.05"/><circle cx="193.62" cy="359.34" r="2.05"/><circle cx="193.62" cy="367.63" r="2.05"/><circle cx="193.62" cy="369.13" r="2.05"/><circle cx="193.62" cy="373.65" r="2.05"/><circle cx="197.34" cy="359.34" r="2.05"/><circle cx="197.34" cy="366.12" r="2.05"/><circle cx="197.34" cy="373.65" r="2.05"/><circle cx="197.34" cy="380.43" r="2.05"/><circle cx="197.34" cy="387.97" r="2.05"/><circle cx="201.06" cy="359.34" r="2.05"/><circle cx="201.06" cy="366.12" r="2.05"/><circle cx="201.06" cy="380.43" r="2.05"/><circle cx="201.06" cy="387.97" r="2.05"/><circle cx="212.22" cy="359.34" r="2.05"/><circle cx="212.22" cy="366.12" r="2.05"/><circle cx="212.22" cy="380.43" r="2.05"/><circle cx="212.22" cy="387.97" r="2.05"/><circle cx="218.00" cy="359.34" r="2.05"/><circle cx="218.00" cy="366.12" r="2.05"/><circle cx="218.00" cy="373.65" r="2.05"/><circle cx="229.22" cy="366.12" r="2.05"/><circle cx="229.22" cy="387.97" r="2.05"/></g>
<circle cx="163.90" cy="426.5" r="2.05" fill="#f3dfa8" fill-opacity="0.9"/>
<circle cx="201.06" cy="426.5" r="2.05" fill="#f3dfa8" fill-opacity="0.9"/>
<circle cx="212.22" cy="426.5" r="2.05" fill="#f3dfa8" fill-opacity="0.9"/>
<circle cx="218.00" cy="426.5" r="2.05" fill="#f3dfa8" fill-opacity="0.9"/>
<circle cx="229.22" cy="426.5" r="2.05" fill="#f3dfa8" fill-opacity="0.9"/>
<polyline points="163.90,379.38 169.40,348.04 172.70,347.59 178.20,348.04 183.70,356.33 193.62,365.37 197.34,363.86 201.06,365.82 212.22,365.37 218.00,363.86 229.22,370.94" fill="none" stroke="#e8782c" stroke-width="1.5" stroke-linejoin="round" stroke-linecap="round"/>
<rect x="272.2" y="398.97" width="67.7" height="19.13" fill="#e5e5e7"/>
<line x1="273.2" y1="408.31" x2="339.9" y2="408.31" stroke="#9e9e9e" stroke-width="0.7" stroke-dasharray="3,2"/>
<text x="339.2" y="412.51" font-size="4.2" fill="#8c8c8c" text-anchor="end">naive sera</text>
<line x1="272.2" y1="327.7" x2="272.2" y2="418.1" stroke="#a0a0a0" stroke-width="1.0"/>
<line x1="270.4" y1="418.10" x2="272.2" y2="418.10" stroke="#a0a0a0" stroke-width="0.7"/>
<text x="270.0" y="420.20" font-size="5.9" fill="#1e1e1e" text-anchor="end">0</text>
<line x1="270.4" y1="403.03" x2="272.2" y2="403.03" stroke="#a0a0a0" stroke-width="0.7"/>
<text x="270.0" y="405.13" font-size="5.9" fill="#1e1e1e" text-anchor="end">1</text>
<line x1="270.4" y1="387.97" x2="272.2" y2="387.97" stroke="#a0a0a0" stroke-width="0.7"/>
<text x="270.0" y="390.07" font-size="5.9" fill="#1e1e1e" text-anchor="end">2</text>
<line x1="270.4" y1="372.90" x2="272.2" y2="372.90" stroke="#a0a0a0" stroke-width="0.7"/>
<text x="270.0" y="375.00" font-size="5.9" fill="#1e1e1e" text-anchor="end">3</text>
<line x1="270.4" y1="357.83" x2="272.2" y2="357.83" stroke="#a0a0a0" stroke-width="0.7"/>
<text x="270.0" y="359.93" font-size="5.9" fill="#1e1e1e" text-anchor="end">4</text>
<line x1="270.4" y1="342.77" x2="272.2" y2="342.77" stroke="#a0a0a0" stroke-width="0.7"/>
<text x="270.0" y="344.87" font-size="5.9" fill="#1e1e1e" text-anchor="end">5</text>
<line x1="270.4" y1="327.70" x2="272.2" y2="327.70" stroke="#a0a0a0" stroke-width="0.7"/>
<text x="270.0" y="329.80" font-size="5.9" fill="#1e1e1e" text-anchor="end">6</text>
<line x1="272.2" y1="425.0" x2="272.2" y2="430.3" stroke="#a0a0a0" stroke-width="0.9"/>
<line x1="270.4" y1="425.00" x2="273.2" y2="425.00" stroke="#a0a0a0" stroke-width="0.7"/>
<text x="270.0" y="428.60" font-size="5.9" fill="#1e1e1e" text-anchor="end">ND</text>
<line x1="272.2" y1="430.3" x2="294.2" y2="430.3" stroke="#a0a0a0" stroke-width="0.9"/>
<line x1="272.2" y1="427.3" x2="272.2" y2="430.7" stroke="#8a8a8a" stroke-width="0.8"/>
<line x1="294.2" y1="427.3" x2="294.2" y2="430.7" stroke="#8a8a8a" stroke-width="0.8"/>
<line x1="274.40" y1="429.3" x2="274.40" y2="430.3" stroke="#a0a0a0" stroke-width="0.6"/>
<line x1="276.60" y1="429.3" x2="276.60" y2="430.3" stroke="#a0a0a0" stroke-width="0.6"/>
<line x1="278.80" y1="429.3" x2="278.80" y2="430.3" stroke="#a0a0a0" stroke-width="0.6"/>
<line x1="281.00" y1="429.3" x2="281.00" y2="430.3" stroke="#a0a0a0" stroke-width="0.6"/>
<line x1="283.20" y1="429.3" x2="283.20" y2="430.3" stroke="#a0a0a0" stroke-width="0.6"/>
<line x1="285.40" y1="429.3" x2="285.40" y2="430.3" stroke="#a0a0a0" stroke-width="0.6"/>
<line x1="287.60" y1="429.3" x2="287.60" y2="430.3" stroke="#a0a0a0" stroke-width="0.6"/>
<line x1="289.80" y1="429.3" x2="289.80" y2="430.3" stroke="#a0a0a0" stroke-width="0.6"/>
<line x1="292.00" y1="429.3" x2="292.00" y2="430.3" stroke="#a0a0a0" stroke-width="0.6"/>
<line x1="300.4" y1="430.3" x2="322.7" y2="430.3" stroke="#a0a0a0" stroke-width="0.9"/>
<line x1="300.4" y1="427.3" x2="300.4" y2="430.7" stroke="#8a8a8a" stroke-width="0.8"/>
<line x1="322.7" y1="427.3" x2="322.7" y2="430.7" stroke="#8a8a8a" stroke-width="0.8"/>
<line x1="302.63" y1="429.3" x2="302.63" y2="430.3" stroke="#a0a0a0" stroke-width="0.6"/>
<line x1="304.86" y1="429.3" x2="304.86" y2="430.3" stroke="#a0a0a0" stroke-width="0.6"/>
<line x1="307.09" y1="429.3" x2="307.09" y2="430.3" stroke="#a0a0a0" stroke-width="0.6"/>
<line x1="309.32" y1="429.3" x2="309.32" y2="430.3" stroke="#a0a0a0" stroke-width="0.6"/>
<line x1="311.55" y1="429.3" x2="311.55" y2="430.3" stroke="#a0a0a0" stroke-width="0.6"/>
<line x1="313.78" y1="429.3" x2="313.78" y2="430.3" stroke="#a0a0a0" stroke-width="0.6"/>
<line x1="316.01" y1="429.3" x2="316.01" y2="430.3" stroke="#a0a0a0" stroke-width="0.6"/>
<line x1="318.24" y1="429.3" x2="318.24" y2="430.3" stroke="#a0a0a0" stroke-width="0.6"/>
<line x1="320.47" y1="429.3" x2="320.47" y2="430.3" stroke="#a0a0a0" stroke-width="0.6"/>
<line x1="328.5" y1="430.3" x2="339.7" y2="430.3" stroke="#a0a0a0" stroke-width="0.9"/>
<line x1="328.5" y1="427.3" x2="328.5" y2="430.7" stroke="#8a8a8a" stroke-width="0.8"/>
<line x1="339.7" y1="427.3" x2="339.7" y2="430.7" stroke="#8a8a8a" stroke-width="0.8"/>
<line x1="330.74" y1="429.3" x2="330.74" y2="430.3" stroke="#a0a0a0" stroke-width="0.6"/>
<line x1="332.98" y1="429.3" x2="332.98" y2="430.3" stroke="#a0a0a0" stroke-width="0.6"/>
<line x1="335.22" y1="429.3" x2="335.22" y2="430.3" stroke="#a0a0a0" stroke-width="0.6"/>
<line x1="337.46" y1="429.3" x2="337.46" y2="430.3" stroke="#a0a0a0" stroke-width="0.6"/>
<text x="272.20" y="437.1" font-size="6.1" fill="#1e1e1e" text-anchor="middle">0</text>
<text x="283.20" y="437.1" font-size="6.1" fill="#1e1e1e" text-anchor="middle">1</text>
<text x="294.20" y="437.1" font-size="6.1" fill="#1e1e1e" text-anchor="middle">2</text>
<text x="300.40" y="437.1" font-size="6.1" fill="#1e1e1e" text-anchor="middle">3</text>
<text x="311.56" y="437.1" font-size="6.1" fill="#1e1e1e" text-anchor="middle">6</text>
<text x="322.72" y="437.1" font-size="6.1" fill="#1e1e1e" text-anchor="middle">9</text>
<text x="328.50" y="437.1" font-size="6.1" fill="#1e1e1e" text-anchor="middle">12</text>
<text x="339.72" y="437.1" font-size="6.1" fill="#1e1e1e" text-anchor="middle">18</text>
<text transform="translate(257.80,379.40) rotate(-90) scale(0.86,1)" font-size="6.5" fill="#2a2a2a" text-anchor="middle">Endpoint dilution log<tspan font-size="4.2" dy="1.4">10</tspan><tspan dy="-1.4"> (1:x)</tspan></text>
<g fill="#f3dfa8" fill-opacity="0.9"><circle cx="274.40" cy="366.12" r="2.05"/><circle cx="274.40" cy="387.97" r="2.05"/><circle cx="279.90" cy="344.27" r="2.05"/><circle cx="279.90" cy="351.81" r="2.05"/><circle cx="279.90" cy="359.34" r="2.05"/><circle cx="279.90" cy="366.12" r="2.05"/><circle cx="279.90" cy="373.65" r="2.05"/><circle cx="283.20" cy="344.27" r="2.05"/><circle cx="283.20" cy="351.81" r="2.05"/><circle cx="283.20" cy="359.34" r="2.05"/><circle cx="283.20" cy="373.65" r="2.05"/><circle cx="288.70" cy="344.27" r="2.05"/><circle cx="288.70" cy="351.81" r="2.05"/><circle cx="288.70" cy="359.34" r="2.05"/><circle cx="294.20" cy="344.27" r="2.05"/><circle cx="294.20" cy="351.81" r="2.05"/><circle cx="294.20" cy="359.34" r="2.05"/><circle cx="294.20" cy="366.12" r="2.05"/><circle cx="304.12" cy="344.27" r="2.05"/><circle cx="304.12" cy="351.81" r="2.05"/><circle cx="304.12" cy="359.34" r="2.05"/><circle cx="304.12" cy="366.12" r="2.05"/><circle cx="307.84" cy="351.81" r="2.05"/><circle cx="307.84" cy="359.34" r="2.05"/><circle cx="307.84" cy="366.12" r="2.05"/><circle cx="307.84" cy="373.65" r="2.05"/><circle cx="311.56" cy="351.81" r="2.05"/><circle cx="311.56" cy="359.34" r="2.05"/><circle cx="311.56" cy="366.12" r="2.05"/><circle cx="311.56" cy="373.65" r="2.05"/><circle cx="311.56" cy="387.97" r="2.05"/><circle cx="322.72" cy="351.81" r="2.05"/><circle cx="322.72" cy="359.34" r="2.05"/><circle cx="322.72" cy="366.12" r="2.05"/><circle cx="322.72" cy="380.43" r="2.05"/><circle cx="322.72" cy="387.97" r="2.05"/><circle cx="328.50" cy="366.12" r="2.05"/><circle cx="328.50" cy="373.65" r="2.05"/><circle cx="328.50" cy="387.97" r="2.05"/><circle cx="339.72" cy="351.81" r="2.05"/><circle cx="339.72" cy="373.65" r="2.05"/><circle cx="339.72" cy="380.43" r="2.05"/><circle cx="339.72" cy="387.97" r="2.05"/></g>
<circle cx="274.40" cy="426.5" r="2.05" fill="#f3dfa8" fill-opacity="0.9"/>
<circle cx="307.84" cy="426.5" r="2.05" fill="#f3dfa8" fill-opacity="0.9"/>
<circle cx="322.72" cy="426.5" r="2.05" fill="#f3dfa8" fill-opacity="0.9"/>
<circle cx="328.50" cy="426.5" r="2.05" fill="#f3dfa8" fill-opacity="0.9"/>
<circle cx="339.72" cy="426.5" r="2.05" fill="#f3dfa8" fill-opacity="0.9"/>
<polyline points="274.40,374.41 279.90,352.71 283.20,351.51 288.70,351.05 294.20,354.52 304.12,354.37 307.84,358.13 311.56,362.05 322.72,361.75 328.50,372.45 339.72,366.27" fill="none" stroke="#e8782c" stroke-width="1.5" stroke-linejoin="round" stroke-linecap="round"/>
<line x1="382.2" y1="327.7" x2="382.2" y2="430.1" stroke="#a0a0a0" stroke-width="1.0"/>
<line x1="380.4" y1="430.10" x2="382.2" y2="430.10" stroke="#a0a0a0" stroke-width="0.7"/>
<text x="380.0" y="432.20" font-size="5.9" fill="#1e1e1e" text-anchor="end">0</text>
<line x1="380.4" y1="413.03" x2="382.2" y2="413.03" stroke="#a0a0a0" stroke-width="0.7"/>
<text x="380.0" y="415.13" font-size="5.9" fill="#1e1e1e" text-anchor="end">25</text>
<line x1="380.4" y1="395.97" x2="382.2" y2="395.97" stroke="#a0a0a0" stroke-width="0.7"/>
<text x="380.0" y="398.07" font-size="5.9" fill="#1e1e1e" text-anchor="end">50</text>
<line x1="380.4" y1="378.90" x2="382.2" y2="378.90" stroke="#a0a0a0" stroke-width="0.7"/>
<text x="380.0" y="381.00" font-size="5.9" fill="#1e1e1e" text-anchor="end">75</text>
<line x1="380.4" y1="361.83" x2="382.2" y2="361.83" stroke="#a0a0a0" stroke-width="0.7"/>
<text x="380.0" y="363.93" font-size="5.9" fill="#1e1e1e" text-anchor="end">100</text>
<line x1="380.4" y1="344.77" x2="382.2" y2="344.77" stroke="#a0a0a0" stroke-width="0.7"/>
<text x="380.0" y="346.87" font-size="5.9" fill="#1e1e1e" text-anchor="end">125</text>
<line x1="380.4" y1="327.70" x2="382.2" y2="327.70" stroke="#a0a0a0" stroke-width="0.7"/>
<text x="380.0" y="329.80" font-size="5.9" fill="#1e1e1e" text-anchor="end">150</text>
<line x1="382.2" y1="430.1" x2="404.2" y2="430.1" stroke="#a0a0a0" stroke-width="0.9"/>
<line x1="382.2" y1="427.1" x2="382.2" y2="430.5" stroke="#8a8a8a" stroke-width="0.8"/>
<line x1="404.2" y1="427.1" x2="404.2" y2="430.5" stroke="#8a8a8a" stroke-width="0.8"/>
<line x1="384.40" y1="429.1" x2="384.40" y2="430.1" stroke="#a0a0a0" stroke-width="0.6"/>
<line x1="386.60" y1="429.1" x2="386.60" y2="430.1" stroke="#a0a0a0" stroke-width="0.6"/>
<line x1="388.80" y1="429.1" x2="388.80" y2="430.1" stroke="#a0a0a0" stroke-width="0.6"/>
<line x1="391.00" y1="429.1" x2="391.00" y2="430.1" stroke="#a0a0a0" stroke-width="0.6"/>
<line x1="393.20" y1="429.1" x2="393.20" y2="430.1" stroke="#a0a0a0" stroke-width="0.6"/>
<line x1="395.40" y1="429.1" x2="395.40" y2="430.1" stroke="#a0a0a0" stroke-width="0.6"/>
<line x1="397.60" y1="429.1" x2="397.60" y2="430.1" stroke="#a0a0a0" stroke-width="0.6"/>
<line x1="399.80" y1="429.1" x2="399.80" y2="430.1" stroke="#a0a0a0" stroke-width="0.6"/>
<line x1="402.00" y1="429.1" x2="402.00" y2="430.1" stroke="#a0a0a0" stroke-width="0.6"/>
<line x1="410.4" y1="430.1" x2="432.7" y2="430.1" stroke="#a0a0a0" stroke-width="0.9"/>
<line x1="410.4" y1="427.1" x2="410.4" y2="430.5" stroke="#8a8a8a" stroke-width="0.8"/>
<line x1="432.7" y1="427.1" x2="432.7" y2="430.5" stroke="#8a8a8a" stroke-width="0.8"/>
<line x1="412.63" y1="429.1" x2="412.63" y2="430.1" stroke="#a0a0a0" stroke-width="0.6"/>
<line x1="414.86" y1="429.1" x2="414.86" y2="430.1" stroke="#a0a0a0" stroke-width="0.6"/>
<line x1="417.09" y1="429.1" x2="417.09" y2="430.1" stroke="#a0a0a0" stroke-width="0.6"/>
<line x1="419.32" y1="429.1" x2="419.32" y2="430.1" stroke="#a0a0a0" stroke-width="0.6"/>
<line x1="421.55" y1="429.1" x2="421.55" y2="430.1" stroke="#a0a0a0" stroke-width="0.6"/>
<line x1="423.78" y1="429.1" x2="423.78" y2="430.1" stroke="#a0a0a0" stroke-width="0.6"/>
<line x1="426.01" y1="429.1" x2="426.01" y2="430.1" stroke="#a0a0a0" stroke-width="0.6"/>
<line x1="428.24" y1="429.1" x2="428.24" y2="430.1" stroke="#a0a0a0" stroke-width="0.6"/>
<line x1="430.47" y1="429.1" x2="430.47" y2="430.1" stroke="#a0a0a0" stroke-width="0.6"/>
<line x1="438.5" y1="430.1" x2="449.7" y2="430.1" stroke="#a0a0a0" stroke-width="0.9"/>
<line x1="438.5" y1="427.1" x2="438.5" y2="430.5" stroke="#8a8a8a" stroke-width="0.8"/>
<line x1="449.7" y1="427.1" x2="449.7" y2="430.5" stroke="#8a8a8a" stroke-width="0.8"/>
<line x1="440.74" y1="429.1" x2="440.74" y2="430.1" stroke="#a0a0a0" stroke-width="0.6"/>
<line x1="442.98" y1="429.1" x2="442.98" y2="430.1" stroke="#a0a0a0" stroke-width="0.6"/>
<line x1="445.22" y1="429.1" x2="445.22" y2="430.1" stroke="#a0a0a0" stroke-width="0.6"/>
<line x1="447.46" y1="429.1" x2="447.46" y2="430.1" stroke="#a0a0a0" stroke-width="0.6"/>
<text x="382.20" y="436.90000000000003" font-size="6.1" fill="#1e1e1e" text-anchor="middle">0</text>
<text x="393.20" y="436.90000000000003" font-size="6.1" fill="#1e1e1e" text-anchor="middle">1</text>
<text x="404.20" y="436.90000000000003" font-size="6.1" fill="#1e1e1e" text-anchor="middle">2</text>
<text x="410.40" y="436.90000000000003" font-size="6.1" fill="#1e1e1e" text-anchor="middle">3</text>
<text x="421.56" y="436.90000000000003" font-size="6.1" fill="#1e1e1e" text-anchor="middle">6</text>
<text x="432.72" y="436.90000000000003" font-size="6.1" fill="#1e1e1e" text-anchor="middle">9</text>
<text x="438.50" y="436.90000000000003" font-size="6.1" fill="#1e1e1e" text-anchor="middle">12</text>
<text x="449.72" y="436.90000000000003" font-size="6.1" fill="#1e1e1e" text-anchor="middle">18</text>
<text transform="translate(367.20,378.90) rotate(-90) scale(0.86,1)" font-size="6.4" fill="#2a2a2a" text-anchor="middle">Avidity Index, %</text>
<g fill="#f3dfa8" fill-opacity="0.9"><circle cx="384.40" cy="430.10" r="2.05"/><circle cx="389.90" cy="392.55" r="2.05"/><circle cx="389.90" cy="417.81" r="2.05"/><circle cx="389.90" cy="419.86" r="2.05"/><circle cx="389.90" cy="421.91" r="2.05"/><circle cx="389.90" cy="424.64" r="2.05"/><circle cx="389.90" cy="426.69" r="2.05"/><circle cx="389.90" cy="428.73" r="2.05"/><circle cx="389.90" cy="430.10" r="2.05"/><circle cx="393.20" cy="404.84" r="2.05"/><circle cx="393.20" cy="421.91" r="2.05"/><circle cx="393.20" cy="423.27" r="2.05"/><circle cx="393.20" cy="424.64" r="2.05"/><circle cx="393.20" cy="426.69" r="2.05"/><circle cx="393.20" cy="428.73" r="2.05"/><circle cx="393.20" cy="430.10" r="2.05"/><circle cx="398.70" cy="402.11" r="2.05"/><circle cx="398.70" cy="406.21" r="2.05"/><circle cx="398.70" cy="410.99" r="2.05"/><circle cx="398.70" cy="417.81" r="2.05"/><circle cx="398.70" cy="419.86" r="2.05"/><circle cx="398.70" cy="423.27" r="2.05"/><circle cx="398.70" cy="424.64" r="2.05"/><circle cx="398.70" cy="426.69" r="2.05"/><circle cx="404.20" cy="415.08" r="2.05"/><circle cx="404.20" cy="417.81" r="2.05"/><circle cx="404.20" cy="428.05" r="2.05"/><circle cx="404.20" cy="430.10" r="2.05"/><circle cx="414.12" cy="382.31" r="2.05"/><circle cx="414.12" cy="407.57" r="2.05"/><circle cx="414.12" cy="409.62" r="2.05"/><circle cx="414.12" cy="413.03" r="2.05"/><circle cx="414.12" cy="416.45" r="2.05"/><circle cx="414.12" cy="419.86" r="2.05"/><circle cx="414.12" cy="421.91" r="2.05"/><circle cx="414.12" cy="426.00" r="2.05"/><circle cx="417.84" cy="358.42" r="2.05"/><circle cx="417.84" cy="387.77" r="2.05"/><circle cx="417.84" cy="390.51" r="2.05"/><circle cx="417.84" cy="406.21" r="2.05"/><circle cx="417.84" cy="409.62" r="2.05"/><circle cx="417.84" cy="423.27" r="2.05"/><circle cx="417.84" cy="430.10" r="2.05"/><circle cx="421.56" cy="389.14" r="2.05"/><circle cx="421.56" cy="404.16" r="2.05"/><circle cx="421.56" cy="408.25" r="2.05"/><circle cx="421.56" cy="426.69" r="2.05"/><circle cx="421.56" cy="430.10" r="2.05"/><circle cx="432.72" cy="362.52" r="2.05"/><circle cx="432.72" cy="424.64" r="2.05"/><circle cx="432.72" cy="430.10" r="2.05"/><circle cx="438.50" cy="430.10" r="2.05"/><circle cx="449.72" cy="424.64" r="2.05"/><circle cx="449.72" cy="430.10" r="2.05"/></g>
<polyline points="389.90,422.59 393.20,422.59 398.70,420.54 404.20,421.57 414.12,410.99 417.84,396.65 421.56,406.89 432.72,393.24 449.72,424.64" fill="none" stroke="#e8782c" stroke-width="1.5" stroke-linejoin="round" stroke-linecap="round"/>
<line x1="493.5" y1="327.7" x2="493.5" y2="430.1" stroke="#a0a0a0" stroke-width="1.0"/>
<line x1="491.7" y1="430.10" x2="493.5" y2="430.10" stroke="#a0a0a0" stroke-width="0.7"/>
<text x="491.3" y="432.20" font-size="5.9" fill="#1e1e1e" text-anchor="end">0</text>
<line x1="491.7" y1="404.50" x2="493.5" y2="404.50" stroke="#a0a0a0" stroke-width="0.7"/>
<text x="491.3" y="406.60" font-size="5.9" fill="#1e1e1e" text-anchor="end">1000</text>
<line x1="491.7" y1="378.90" x2="493.5" y2="378.90" stroke="#a0a0a0" stroke-width="0.7"/>
<text x="491.3" y="381.00" font-size="5.9" fill="#1e1e1e" text-anchor="end">2000</text>
<line x1="491.7" y1="353.30" x2="493.5" y2="353.30" stroke="#a0a0a0" stroke-width="0.7"/>
<text x="491.3" y="355.40" font-size="5.9" fill="#1e1e1e" text-anchor="end">3000</text>
<line x1="491.7" y1="327.70" x2="493.5" y2="327.70" stroke="#a0a0a0" stroke-width="0.7"/>
<text x="491.3" y="329.80" font-size="5.9" fill="#1e1e1e" text-anchor="end">4000</text>
<line x1="493.5" y1="430.1" x2="515.5" y2="430.1" stroke="#a0a0a0" stroke-width="0.9"/>
<line x1="493.5" y1="427.1" x2="493.5" y2="430.5" stroke="#8a8a8a" stroke-width="0.8"/>
<line x1="515.5" y1="427.1" x2="515.5" y2="430.5" stroke="#8a8a8a" stroke-width="0.8"/>
<line x1="495.70" y1="429.1" x2="495.70" y2="430.1" stroke="#a0a0a0" stroke-width="0.6"/>
<line x1="497.90" y1="429.1" x2="497.90" y2="430.1" stroke="#a0a0a0" stroke-width="0.6"/>
<line x1="500.10" y1="429.1" x2="500.10" y2="430.1" stroke="#a0a0a0" stroke-width="0.6"/>
<line x1="502.30" y1="429.1" x2="502.30" y2="430.1" stroke="#a0a0a0" stroke-width="0.6"/>
<line x1="504.50" y1="429.1" x2="504.50" y2="430.1" stroke="#a0a0a0" stroke-width="0.6"/>
<line x1="506.70" y1="429.1" x2="506.70" y2="430.1" stroke="#a0a0a0" stroke-width="0.6"/>
<line x1="508.90" y1="429.1" x2="508.90" y2="430.1" stroke="#a0a0a0" stroke-width="0.6"/>
<line x1="511.10" y1="429.1" x2="511.10" y2="430.1" stroke="#a0a0a0" stroke-width="0.6"/>
<line x1="513.30" y1="429.1" x2="513.30" y2="430.1" stroke="#a0a0a0" stroke-width="0.6"/>
<line x1="521.7" y1="430.1" x2="544.0" y2="430.1" stroke="#a0a0a0" stroke-width="0.9"/>
<line x1="521.7" y1="427.1" x2="521.7" y2="430.5" stroke="#8a8a8a" stroke-width="0.8"/>
<line x1="544.0" y1="427.1" x2="544.0" y2="430.5" stroke="#8a8a8a" stroke-width="0.8"/>
<line x1="523.93" y1="429.1" x2="523.93" y2="430.1" stroke="#a0a0a0" stroke-width="0.6"/>
<line x1="526.16" y1="429.1" x2="526.16" y2="430.1" stroke="#a0a0a0" stroke-width="0.6"/>
<line x1="528.39" y1="429.1" x2="528.39" y2="430.1" stroke="#a0a0a0" stroke-width="0.6"/>
<line x1="530.62" y1="429.1" x2="530.62" y2="430.1" stroke="#a0a0a0" stroke-width="0.6"/>
<line x1="532.85" y1="429.1" x2="532.85" y2="430.1" stroke="#a0a0a0" stroke-width="0.6"/>
<line x1="535.08" y1="429.1" x2="535.08" y2="430.1" stroke="#a0a0a0" stroke-width="0.6"/>
<line x1="537.31" y1="429.1" x2="537.31" y2="430.1" stroke="#a0a0a0" stroke-width="0.6"/>
<line x1="539.54" y1="429.1" x2="539.54" y2="430.1" stroke="#a0a0a0" stroke-width="0.6"/>
<line x1="541.77" y1="429.1" x2="541.77" y2="430.1" stroke="#a0a0a0" stroke-width="0.6"/>
<line x1="549.8" y1="430.1" x2="561.0" y2="430.1" stroke="#a0a0a0" stroke-width="0.9"/>
<line x1="549.8" y1="427.1" x2="549.8" y2="430.5" stroke="#8a8a8a" stroke-width="0.8"/>
<line x1="561.0" y1="427.1" x2="561.0" y2="430.5" stroke="#8a8a8a" stroke-width="0.8"/>
<line x1="552.04" y1="429.1" x2="552.04" y2="430.1" stroke="#a0a0a0" stroke-width="0.6"/>
<line x1="554.28" y1="429.1" x2="554.28" y2="430.1" stroke="#a0a0a0" stroke-width="0.6"/>
<line x1="556.52" y1="429.1" x2="556.52" y2="430.1" stroke="#a0a0a0" stroke-width="0.6"/>
<line x1="558.76" y1="429.1" x2="558.76" y2="430.1" stroke="#a0a0a0" stroke-width="0.6"/>
<text x="493.50" y="436.90000000000003" font-size="6.1" fill="#1e1e1e" text-anchor="middle">0</text>
<text x="504.50" y="436.90000000000003" font-size="6.1" fill="#1e1e1e" text-anchor="middle">1</text>
<text x="515.50" y="436.90000000000003" font-size="6.1" fill="#1e1e1e" text-anchor="middle">2</text>
<text x="521.70" y="436.90000000000003" font-size="6.1" fill="#1e1e1e" text-anchor="middle">3</text>
<text x="532.86" y="436.90000000000003" font-size="6.1" fill="#1e1e1e" text-anchor="middle">6</text>
<text x="544.02" y="436.90000000000003" font-size="6.1" fill="#1e1e1e" text-anchor="middle">9</text>
<text x="549.80" y="436.90000000000003" font-size="6.1" fill="#1e1e1e" text-anchor="middle">12</text>
<text x="561.02" y="436.90000000000003" font-size="6.1" fill="#1e1e1e" text-anchor="middle">18</text>
<text transform="translate(475.70,378.90) rotate(-90) scale(0.86,1)" font-size="6.4" fill="#2a2a2a" text-anchor="middle">Phagocytic score</text>
<g fill="#f3dfa8" fill-opacity="0.9"><circle cx="495.70" cy="414.74" r="2.05"/><circle cx="495.70" cy="417.30" r="2.05"/><circle cx="495.70" cy="430.10" r="2.05"/><circle cx="501.20" cy="352.79" r="2.05"/><circle cx="501.20" cy="386.58" r="2.05"/><circle cx="501.20" cy="389.14" r="2.05"/><circle cx="501.20" cy="391.70" r="2.05"/><circle cx="501.20" cy="398.10" r="2.05"/><circle cx="501.20" cy="407.06" r="2.05"/><circle cx="501.20" cy="409.62" r="2.05"/><circle cx="501.20" cy="414.74" r="2.05"/><circle cx="501.20" cy="417.30" r="2.05"/><circle cx="504.50" cy="382.74" r="2.05"/><circle cx="504.50" cy="395.54" r="2.05"/><circle cx="504.50" cy="399.38" r="2.05"/><circle cx="504.50" cy="401.94" r="2.05"/><circle cx="504.50" cy="407.06" r="2.05"/><circle cx="504.50" cy="409.62" r="2.05"/><circle cx="504.50" cy="412.18" r="2.05"/><circle cx="504.50" cy="413.46" r="2.05"/><circle cx="510.00" cy="372.50" r="2.05"/><circle cx="510.00" cy="376.34" r="2.05"/><circle cx="510.00" cy="378.90" r="2.05"/><circle cx="510.00" cy="381.46" r="2.05"/><circle cx="510.00" cy="384.02" r="2.05"/><circle cx="510.00" cy="386.58" r="2.05"/><circle cx="510.00" cy="399.38" r="2.05"/><circle cx="510.00" cy="409.62" r="2.05"/><circle cx="510.00" cy="413.46" r="2.05"/><circle cx="510.00" cy="416.02" r="2.05"/><circle cx="515.50" cy="378.90" r="2.05"/><circle cx="515.50" cy="387.86" r="2.05"/><circle cx="515.50" cy="398.10" r="2.05"/><circle cx="515.50" cy="400.66" r="2.05"/><circle cx="515.50" cy="401.94" r="2.05"/><circle cx="515.50" cy="424.98" r="2.05"/><circle cx="515.50" cy="428.82" r="2.05"/><circle cx="515.50" cy="430.10" r="2.05"/><circle cx="521.70" cy="390.42" r="2.05"/><circle cx="521.70" cy="399.38" r="2.05"/><circle cx="521.70" cy="401.94" r="2.05"/><circle cx="521.70" cy="413.46" r="2.05"/><circle cx="521.70" cy="414.74" r="2.05"/><circle cx="521.70" cy="430.10" r="2.05"/><circle cx="525.42" cy="380.18" r="2.05"/><circle cx="525.42" cy="390.42" r="2.05"/><circle cx="525.42" cy="409.62" r="2.05"/><circle cx="525.42" cy="412.18" r="2.05"/><circle cx="525.42" cy="414.74" r="2.05"/><circle cx="525.42" cy="417.30" r="2.05"/><circle cx="525.42" cy="430.10" r="2.05"/><circle cx="529.14" cy="380.18" r="2.05"/><circle cx="529.14" cy="396.82" r="2.05"/><circle cx="529.14" cy="405.78" r="2.05"/><circle cx="529.14" cy="408.34" r="2.05"/><circle cx="529.14" cy="410.90" r="2.05"/><circle cx="529.14" cy="430.10" r="2.05"/><circle cx="532.86" cy="390.42" r="2.05"/><circle cx="532.86" cy="395.54" r="2.05"/><circle cx="532.86" cy="405.78" r="2.05"/><circle cx="532.86" cy="427.54" r="2.05"/><circle cx="532.86" cy="428.82" r="2.05"/><circle cx="532.86" cy="430.10" r="2.05"/><circle cx="544.02" cy="364.82" r="2.05"/><circle cx="544.02" cy="403.22" r="2.05"/><circle cx="544.02" cy="408.34" r="2.05"/><circle cx="544.02" cy="430.10" r="2.05"/><circle cx="549.80" cy="372.50" r="2.05"/><circle cx="549.80" cy="390.42" r="2.05"/><circle cx="549.80" cy="400.66" r="2.05"/><circle cx="549.80" cy="403.22" r="2.05"/><circle cx="549.80" cy="409.62" r="2.05"/><circle cx="549.80" cy="410.90" r="2.05"/><circle cx="549.80" cy="424.98" r="2.05"/><circle cx="549.80" cy="427.54" r="2.05"/><circle cx="549.80" cy="430.10" r="2.05"/><circle cx="561.02" cy="395.54" r="2.05"/><circle cx="561.02" cy="409.62" r="2.05"/><circle cx="561.02" cy="418.58" r="2.05"/><circle cx="561.02" cy="419.86" r="2.05"/><circle cx="561.02" cy="430.10" r="2.05"/></g>
<polyline points="495.70,430.10 501.20,397.33 504.50,405.52 510.00,394.52 515.50,407.83 521.70,410.13 525.42,416.02 532.86,419.35 544.02,418.58 549.80,418.84 561.02,425.24" fill="none" stroke="#e8782c" stroke-width="1.5" stroke-linejoin="round" stroke-linecap="round"/>
<line x1="606.8" y1="327.7" x2="606.8" y2="430.1" stroke="#a0a0a0" stroke-width="1.0"/>
<line x1="605.0" y1="430.10" x2="606.8" y2="430.10" stroke="#a0a0a0" stroke-width="0.7"/>
<text x="604.5999999999999" y="432.20" font-size="5.9" fill="#1e1e1e" text-anchor="end">0</text>
<line x1="605.0" y1="409.62" x2="606.8" y2="409.62" stroke="#a0a0a0" stroke-width="0.7"/>
<text x="604.5999999999999" y="411.72" font-size="5.9" fill="#1e1e1e" text-anchor="end">3000</text>
<line x1="605.0" y1="389.14" x2="606.8" y2="389.14" stroke="#a0a0a0" stroke-width="0.7"/>
<text x="604.5999999999999" y="391.24" font-size="5.9" fill="#1e1e1e" text-anchor="end">6000</text>
<line x1="605.0" y1="368.66" x2="606.8" y2="368.66" stroke="#a0a0a0" stroke-width="0.7"/>
<text x="604.5999999999999" y="370.76" font-size="5.9" fill="#1e1e1e" text-anchor="end">9000</text>
<line x1="605.0" y1="348.18" x2="606.8" y2="348.18" stroke="#a0a0a0" stroke-width="0.7"/>
<text x="604.5999999999999" y="350.28" font-size="5.9" fill="#1e1e1e" text-anchor="end">12000</text>
<line x1="605.0" y1="327.70" x2="606.8" y2="327.70" stroke="#a0a0a0" stroke-width="0.7"/>
<text x="604.5999999999999" y="329.80" font-size="5.9" fill="#1e1e1e" text-anchor="end">15000</text>
<line x1="606.8" y1="430.1" x2="628.8" y2="430.1" stroke="#a0a0a0" stroke-width="0.9"/>
<line x1="606.8" y1="427.1" x2="606.8" y2="430.5" stroke="#8a8a8a" stroke-width="0.8"/>
<line x1="628.8" y1="427.1" x2="628.8" y2="430.5" stroke="#8a8a8a" stroke-width="0.8"/>
<line x1="609.00" y1="429.1" x2="609.00" y2="430.1" stroke="#a0a0a0" stroke-width="0.6"/>
<line x1="611.20" y1="429.1" x2="611.20" y2="430.1" stroke="#a0a0a0" stroke-width="0.6"/>
<line x1="613.40" y1="429.1" x2="613.40" y2="430.1" stroke="#a0a0a0" stroke-width="0.6"/>
<line x1="615.60" y1="429.1" x2="615.60" y2="430.1" stroke="#a0a0a0" stroke-width="0.6"/>
<line x1="617.80" y1="429.1" x2="617.80" y2="430.1" stroke="#a0a0a0" stroke-width="0.6"/>
<line x1="620.00" y1="429.1" x2="620.00" y2="430.1" stroke="#a0a0a0" stroke-width="0.6"/>
<line x1="622.20" y1="429.1" x2="622.20" y2="430.1" stroke="#a0a0a0" stroke-width="0.6"/>
<line x1="624.40" y1="429.1" x2="624.40" y2="430.1" stroke="#a0a0a0" stroke-width="0.6"/>
<line x1="626.60" y1="429.1" x2="626.60" y2="430.1" stroke="#a0a0a0" stroke-width="0.6"/>
<line x1="635.0" y1="430.1" x2="657.3" y2="430.1" stroke="#a0a0a0" stroke-width="0.9"/>
<line x1="635.0" y1="427.1" x2="635.0" y2="430.5" stroke="#8a8a8a" stroke-width="0.8"/>
<line x1="657.3" y1="427.1" x2="657.3" y2="430.5" stroke="#8a8a8a" stroke-width="0.8"/>
<line x1="637.23" y1="429.1" x2="637.23" y2="430.1" stroke="#a0a0a0" stroke-width="0.6"/>
<line x1="639.46" y1="429.1" x2="639.46" y2="430.1" stroke="#a0a0a0" stroke-width="0.6"/>
<line x1="641.69" y1="429.1" x2="641.69" y2="430.1" stroke="#a0a0a0" stroke-width="0.6"/>
<line x1="643.92" y1="429.1" x2="643.92" y2="430.1" stroke="#a0a0a0" stroke-width="0.6"/>
<line x1="646.15" y1="429.1" x2="646.15" y2="430.1" stroke="#a0a0a0" stroke-width="0.6"/>
<line x1="648.38" y1="429.1" x2="648.38" y2="430.1" stroke="#a0a0a0" stroke-width="0.6"/>
<line x1="650.61" y1="429.1" x2="650.61" y2="430.1" stroke="#a0a0a0" stroke-width="0.6"/>
<line x1="652.84" y1="429.1" x2="652.84" y2="430.1" stroke="#a0a0a0" stroke-width="0.6"/>
<line x1="655.07" y1="429.1" x2="655.07" y2="430.1" stroke="#a0a0a0" stroke-width="0.6"/>
<line x1="663.0999999999999" y1="430.1" x2="674.3" y2="430.1" stroke="#a0a0a0" stroke-width="0.9"/>
<line x1="663.0999999999999" y1="427.1" x2="663.0999999999999" y2="430.5" stroke="#8a8a8a" stroke-width="0.8"/>
<line x1="674.3" y1="427.1" x2="674.3" y2="430.5" stroke="#8a8a8a" stroke-width="0.8"/>
<line x1="665.34" y1="429.1" x2="665.34" y2="430.1" stroke="#a0a0a0" stroke-width="0.6"/>
<line x1="667.58" y1="429.1" x2="667.58" y2="430.1" stroke="#a0a0a0" stroke-width="0.6"/>
<line x1="669.82" y1="429.1" x2="669.82" y2="430.1" stroke="#a0a0a0" stroke-width="0.6"/>
<line x1="672.06" y1="429.1" x2="672.06" y2="430.1" stroke="#a0a0a0" stroke-width="0.6"/>
<text x="606.80" y="436.90000000000003" font-size="6.1" fill="#1e1e1e" text-anchor="middle">0</text>
<text x="617.80" y="436.90000000000003" font-size="6.1" fill="#1e1e1e" text-anchor="middle">1</text>
<text x="628.80" y="436.90000000000003" font-size="6.1" fill="#1e1e1e" text-anchor="middle">2</text>
<text x="635.00" y="436.90000000000003" font-size="6.1" fill="#1e1e1e" text-anchor="middle">3</text>
<text x="646.16" y="436.90000000000003" font-size="6.1" fill="#1e1e1e" text-anchor="middle">6</text>
<text x="657.32" y="436.90000000000003" font-size="6.1" fill="#1e1e1e" text-anchor="middle">9</text>
<text x="663.10" y="436.90000000000003" font-size="6.1" fill="#1e1e1e" text-anchor="middle">12</text>
<text x="674.32" y="436.90000000000003" font-size="6.1" fill="#1e1e1e" text-anchor="middle">18</text>
<text transform="translate(586.30,378.90) rotate(-90) scale(0.86,1)" font-size="6.4" fill="#2a2a2a" text-anchor="middle">MFI</text>
<g fill="#f3dfa8" fill-opacity="0.9"><circle cx="609.00" cy="382.31" r="2.05"/><circle cx="609.00" cy="385.73" r="2.05"/><circle cx="609.00" cy="392.55" r="2.05"/><circle cx="609.00" cy="399.38" r="2.05"/><circle cx="609.00" cy="402.79" r="2.05"/><circle cx="609.00" cy="406.21" r="2.05"/><circle cx="609.00" cy="419.86" r="2.05"/><circle cx="614.50" cy="352.96" r="2.05"/><circle cx="614.50" cy="356.37" r="2.05"/><circle cx="614.50" cy="363.20" r="2.05"/><circle cx="614.50" cy="366.61" r="2.05"/><circle cx="614.50" cy="372.07" r="2.05"/><circle cx="614.50" cy="375.49" r="2.05"/><circle cx="614.50" cy="378.90" r="2.05"/><circle cx="614.50" cy="389.14" r="2.05"/><circle cx="614.50" cy="413.03" r="2.05"/><circle cx="617.80" cy="352.96" r="2.05"/><circle cx="617.80" cy="358.42" r="2.05"/><circle cx="617.80" cy="363.20" r="2.05"/><circle cx="617.80" cy="365.25" r="2.05"/><circle cx="617.80" cy="368.66" r="2.05"/><circle cx="617.80" cy="372.07" r="2.05"/><circle cx="617.80" cy="378.90" r="2.05"/><circle cx="617.80" cy="382.31" r="2.05"/><circle cx="617.80" cy="392.55" r="2.05"/><circle cx="617.80" cy="394.60" r="2.05"/><circle cx="623.30" cy="348.18" r="2.05"/><circle cx="623.30" cy="355.01" r="2.05"/><circle cx="623.30" cy="365.25" r="2.05"/><circle cx="623.30" cy="368.66" r="2.05"/><circle cx="623.30" cy="372.07" r="2.05"/><circle cx="623.30" cy="375.49" r="2.05"/><circle cx="623.30" cy="378.90" r="2.05"/><circle cx="623.30" cy="382.31" r="2.05"/><circle cx="623.30" cy="385.73" r="2.05"/><circle cx="628.80" cy="372.07" r="2.05"/><circle cx="628.80" cy="375.49" r="2.05"/><circle cx="628.80" cy="378.90" r="2.05"/><circle cx="628.80" cy="382.31" r="2.05"/><circle cx="628.80" cy="385.73" r="2.05"/><circle cx="628.80" cy="389.14" r="2.05"/><circle cx="628.80" cy="392.55" r="2.05"/><circle cx="628.80" cy="397.33" r="2.05"/><circle cx="635.00" cy="368.66" r="2.05"/><circle cx="635.00" cy="373.44" r="2.05"/><circle cx="635.00" cy="377.53" r="2.05"/><circle cx="635.00" cy="382.31" r="2.05"/><circle cx="635.00" cy="387.09" r="2.05"/><circle cx="635.00" cy="392.55" r="2.05"/><circle cx="635.00" cy="395.97" r="2.05"/><circle cx="638.72" cy="350.23" r="2.05"/><circle cx="638.72" cy="370.03" r="2.05"/><circle cx="638.72" cy="376.17" r="2.05"/><circle cx="638.72" cy="382.31" r="2.05"/><circle cx="638.72" cy="383.68" r="2.05"/><circle cx="638.72" cy="397.33" r="2.05"/><circle cx="638.72" cy="401.43" r="2.05"/><circle cx="638.72" cy="410.99" r="2.05"/><circle cx="642.44" cy="372.07" r="2.05"/><circle cx="642.44" cy="382.31" r="2.05"/><circle cx="642.44" cy="385.73" r="2.05"/><circle cx="642.44" cy="392.55" r="2.05"/><circle cx="642.44" cy="397.33" r="2.05"/><circle cx="642.44" cy="406.21" r="2.05"/><circle cx="642.44" cy="407.57" r="2.05"/><circle cx="646.16" cy="363.88" r="2.05"/><circle cx="646.16" cy="371.39" r="2.05"/><circle cx="646.16" cy="380.95" r="2.05"/><circle cx="646.16" cy="385.73" r="2.05"/><circle cx="646.16" cy="389.14" r="2.05"/><circle cx="646.16" cy="392.55" r="2.05"/><circle cx="646.16" cy="398.70" r="2.05"/><circle cx="646.16" cy="410.30" r="2.05"/><circle cx="657.32" cy="337.94" r="2.05"/><circle cx="657.32" cy="376.17" r="2.05"/><circle cx="657.32" cy="378.90" r="2.05"/><circle cx="657.32" cy="385.73" r="2.05"/><circle cx="657.32" cy="389.14" r="2.05"/><circle cx="657.32" cy="395.97" r="2.05"/><circle cx="657.32" cy="399.38" r="2.05"/><circle cx="657.32" cy="402.79" r="2.05"/><circle cx="657.32" cy="406.21" r="2.05"/><circle cx="657.32" cy="409.62" r="2.05"/><circle cx="657.32" cy="415.76" r="2.05"/><circle cx="663.10" cy="349.55" r="2.05"/><circle cx="663.10" cy="363.88" r="2.05"/><circle cx="663.10" cy="374.12" r="2.05"/><circle cx="663.10" cy="380.27" r="2.05"/><circle cx="663.10" cy="385.04" r="2.05"/><circle cx="663.10" cy="400.06" r="2.05"/><circle cx="663.10" cy="415.08" r="2.05"/><circle cx="663.10" cy="417.81" r="2.05"/><circle cx="663.10" cy="421.91" r="2.05"/><circle cx="663.10" cy="427.37" r="2.05"/><circle cx="674.32" cy="352.28" r="2.05"/><circle cx="674.32" cy="363.20" r="2.05"/><circle cx="674.32" cy="365.25" r="2.05"/><circle cx="674.32" cy="387.09" r="2.05"/><circle cx="674.32" cy="389.14" r="2.05"/><circle cx="674.32" cy="397.33" r="2.05"/><circle cx="674.32" cy="404.16" r="2.05"/><circle cx="674.32" cy="415.08" r="2.05"/><circle cx="674.32" cy="419.86" r="2.05"/><circle cx="674.32" cy="423.27" r="2.05"/><circle cx="674.32" cy="426.69" r="2.05"/></g>
<polyline points="609.00,395.97 614.50,376.17 617.80,372.07 623.30,370.71 628.80,382.31 635.00,382.31 642.44,390.51 646.16,385.73 657.32,391.53 663.10,398.70 674.32,401.91" fill="none" stroke="#e8782c" stroke-width="1.5" stroke-linejoin="round" stroke-linecap="round"/>
<rect x="55.1" y="529.04" width="67.7" height="27.86" fill="#e5e5e7"/>
<line x1="56.1" y1="538.13" x2="122.80000000000001" y2="538.13" stroke="#9e9e9e" stroke-width="0.7" stroke-dasharray="3,2"/>
<text x="122.1" y="542.33" font-size="4.2" fill="#8c8c8c" text-anchor="end">naive sera</text>
<line x1="55.1" y1="467.5" x2="55.1" y2="556.9" stroke="#a0a0a0" stroke-width="1.0"/>
<line x1="53.300000000000004" y1="556.90" x2="55.1" y2="556.90" stroke="#a0a0a0" stroke-width="0.7"/>
<text x="52.9" y="559.00" font-size="5.9" fill="#1e1e1e" text-anchor="end">0</text>
<line x1="53.300000000000004" y1="542.00" x2="55.1" y2="542.00" stroke="#a0a0a0" stroke-width="0.7"/>
<text x="52.9" y="544.10" font-size="5.9" fill="#1e1e1e" text-anchor="end">1</text>
<line x1="53.300000000000004" y1="527.10" x2="55.1" y2="527.10" stroke="#a0a0a0" stroke-width="0.7"/>
<text x="52.9" y="529.20" font-size="5.9" fill="#1e1e1e" text-anchor="end">2</text>
<line x1="53.300000000000004" y1="512.20" x2="55.1" y2="512.20" stroke="#a0a0a0" stroke-width="0.7"/>
<text x="52.9" y="514.30" font-size="5.9" fill="#1e1e1e" text-anchor="end">3</text>
<line x1="53.300000000000004" y1="497.30" x2="55.1" y2="497.30" stroke="#a0a0a0" stroke-width="0.7"/>
<text x="52.9" y="499.40" font-size="5.9" fill="#1e1e1e" text-anchor="end">4</text>
<line x1="53.300000000000004" y1="482.40" x2="55.1" y2="482.40" stroke="#a0a0a0" stroke-width="0.7"/>
<text x="52.9" y="484.50" font-size="5.9" fill="#1e1e1e" text-anchor="end">5</text>
<line x1="53.300000000000004" y1="467.50" x2="55.1" y2="467.50" stroke="#a0a0a0" stroke-width="0.7"/>
<text x="52.9" y="469.60" font-size="5.9" fill="#1e1e1e" text-anchor="end">6</text>
<line x1="55.1" y1="564.7" x2="55.1" y2="569.0" stroke="#a0a0a0" stroke-width="0.9"/>
<line x1="53.300000000000004" y1="564.70" x2="56.1" y2="564.70" stroke="#a0a0a0" stroke-width="0.7"/>
<text x="52.9" y="568.30" font-size="5.9" fill="#1e1e1e" text-anchor="end">ND</text>
<line x1="55.1" y1="569.0" x2="77.1" y2="569.0" stroke="#a0a0a0" stroke-width="0.9"/>
<line x1="55.1" y1="566.0" x2="55.1" y2="569.4" stroke="#8a8a8a" stroke-width="0.8"/>
<line x1="77.1" y1="566.0" x2="77.1" y2="569.4" stroke="#8a8a8a" stroke-width="0.8"/>
<line x1="57.30" y1="568.0" x2="57.30" y2="569.0" stroke="#a0a0a0" stroke-width="0.6"/>
<line x1="59.50" y1="568.0" x2="59.50" y2="569.0" stroke="#a0a0a0" stroke-width="0.6"/>
<line x1="61.70" y1="568.0" x2="61.70" y2="569.0" stroke="#a0a0a0" stroke-width="0.6"/>
<line x1="63.90" y1="568.0" x2="63.90" y2="569.0" stroke="#a0a0a0" stroke-width="0.6"/>
<line x1="66.10" y1="568.0" x2="66.10" y2="569.0" stroke="#a0a0a0" stroke-width="0.6"/>
<line x1="68.30" y1="568.0" x2="68.30" y2="569.0" stroke="#a0a0a0" stroke-width="0.6"/>
<line x1="70.50" y1="568.0" x2="70.50" y2="569.0" stroke="#a0a0a0" stroke-width="0.6"/>
<line x1="72.70" y1="568.0" x2="72.70" y2="569.0" stroke="#a0a0a0" stroke-width="0.6"/>
<line x1="74.90" y1="568.0" x2="74.90" y2="569.0" stroke="#a0a0a0" stroke-width="0.6"/>
<line x1="83.3" y1="569.0" x2="105.6" y2="569.0" stroke="#a0a0a0" stroke-width="0.9"/>
<line x1="83.3" y1="566.0" x2="83.3" y2="569.4" stroke="#8a8a8a" stroke-width="0.8"/>
<line x1="105.6" y1="566.0" x2="105.6" y2="569.4" stroke="#8a8a8a" stroke-width="0.8"/>
<line x1="85.53" y1="568.0" x2="85.53" y2="569.0" stroke="#a0a0a0" stroke-width="0.6"/>
<line x1="87.76" y1="568.0" x2="87.76" y2="569.0" stroke="#a0a0a0" stroke-width="0.6"/>
<line x1="89.99" y1="568.0" x2="89.99" y2="569.0" stroke="#a0a0a0" stroke-width="0.6"/>
<line x1="92.22" y1="568.0" x2="92.22" y2="569.0" stroke="#a0a0a0" stroke-width="0.6"/>
<line x1="94.45" y1="568.0" x2="94.45" y2="569.0" stroke="#a0a0a0" stroke-width="0.6"/>
<line x1="96.68" y1="568.0" x2="96.68" y2="569.0" stroke="#a0a0a0" stroke-width="0.6"/>
<line x1="98.91" y1="568.0" x2="98.91" y2="569.0" stroke="#a0a0a0" stroke-width="0.6"/>
<line x1="101.14" y1="568.0" x2="101.14" y2="569.0" stroke="#a0a0a0" stroke-width="0.6"/>
<line x1="103.37" y1="568.0" x2="103.37" y2="569.0" stroke="#a0a0a0" stroke-width="0.6"/>
<line x1="111.4" y1="569.0" x2="122.6" y2="569.0" stroke="#a0a0a0" stroke-width="0.9"/>
<line x1="111.4" y1="566.0" x2="111.4" y2="569.4" stroke="#8a8a8a" stroke-width="0.8"/>
<line x1="122.6" y1="566.0" x2="122.6" y2="569.4" stroke="#8a8a8a" stroke-width="0.8"/>
<line x1="113.64" y1="568.0" x2="113.64" y2="569.0" stroke="#a0a0a0" stroke-width="0.6"/>
<line x1="115.88" y1="568.0" x2="115.88" y2="569.0" stroke="#a0a0a0" stroke-width="0.6"/>
<line x1="118.12" y1="568.0" x2="118.12" y2="569.0" stroke="#a0a0a0" stroke-width="0.6"/>
<line x1="120.36" y1="568.0" x2="120.36" y2="569.0" stroke="#a0a0a0" stroke-width="0.6"/>
<text x="55.10" y="575.8" font-size="6.1" fill="#1e1e1e" text-anchor="middle">0</text>
<text x="66.10" y="575.8" font-size="6.1" fill="#1e1e1e" text-anchor="middle">1</text>
<text x="77.10" y="575.8" font-size="6.1" fill="#1e1e1e" text-anchor="middle">2</text>
<text x="83.30" y="575.8" font-size="6.1" fill="#1e1e1e" text-anchor="middle">3</text>
<text x="94.46" y="575.8" font-size="6.1" fill="#1e1e1e" text-anchor="middle">6</text>
<text x="105.62" y="575.8" font-size="6.1" fill="#1e1e1e" text-anchor="middle">9</text>
<text x="111.40" y="575.8" font-size="6.1" fill="#1e1e1e" text-anchor="middle">12</text>
<text x="122.62" y="575.8" font-size="6.1" fill="#1e1e1e" text-anchor="middle">18</text>
<text transform="translate(40.70,518.65) rotate(-90) scale(0.86,1)" font-size="6.5" fill="#2a2a2a" text-anchor="middle">Endpoint dilution log<tspan font-size="4.2" dy="1.4">10</tspan><tspan dy="-1.4"> (1:x)</tspan></text>
<g fill="#84c7b9" fill-opacity="0.9"><circle cx="57.30" cy="491.34" r="2.05"/><circle cx="57.30" cy="499.53" r="2.05"/><circle cx="57.30" cy="503.26" r="2.05"/><circle cx="57.30" cy="509.22" r="2.05"/><circle cx="62.80" cy="482.40" r="2.05"/><circle cx="62.80" cy="491.34" r="2.05"/><circle cx="66.10" cy="491.34" r="2.05"/><circle cx="66.10" cy="500.28" r="2.05"/><circle cx="66.10" cy="503.26" r="2.05"/><circle cx="71.60" cy="491.34" r="2.05"/><circle cx="71.60" cy="494.32" r="2.05"/><circle cx="71.60" cy="500.28" r="2.05"/><circle cx="77.10" cy="491.34" r="2.05"/><circle cx="77.10" cy="498.79" r="2.05"/><circle cx="77.10" cy="501.77" r="2.05"/><circle cx="83.30" cy="484.63" r="2.05"/><circle cx="83.30" cy="491.34" r="2.05"/><circle cx="83.30" cy="498.79" r="2.05"/><circle cx="83.30" cy="505.50" r="2.05"/><circle cx="87.02" cy="491.34" r="2.05"/><circle cx="87.02" cy="498.79" r="2.05"/><circle cx="87.02" cy="505.50" r="2.05"/><circle cx="90.74" cy="498.79" r="2.05"/><circle cx="90.74" cy="505.50" r="2.05"/><circle cx="90.74" cy="512.94" r="2.05"/><circle cx="94.46" cy="501.02" r="2.05"/><circle cx="94.46" cy="505.50" r="2.05"/><circle cx="94.46" cy="508.47" r="2.05"/><circle cx="105.62" cy="501.02" r="2.05"/><circle cx="105.62" cy="503.26" r="2.05"/><circle cx="105.62" cy="507.73" r="2.05"/><circle cx="105.62" cy="510.71" r="2.05"/><circle cx="105.62" cy="516.67" r="2.05"/><circle cx="105.62" cy="522.63" r="2.05"/><circle cx="111.40" cy="505.50" r="2.05"/><circle cx="111.40" cy="512.94" r="2.05"/><circle cx="111.40" cy="520.39" r="2.05"/><circle cx="111.40" cy="527.85" r="2.05"/></g>
<polyline points="57.30,494.32 62.80,488.36 66.10,494.02 71.60,495.06 77.10,496.56 83.30,491.34 87.02,500.28 90.74,504.75 94.46,504.75 105.62,506.99 111.40,512.20" fill="none" stroke="#2f4585" stroke-width="1.5" stroke-linejoin="round" stroke-linecap="round"/>
<rect x="161.7" y="540.66" width="67.7" height="16.24" fill="#e5e5e7"/>
<line x1="162.7" y1="550.64" x2="229.39999999999998" y2="550.64" stroke="#9e9e9e" stroke-width="0.7" stroke-dasharray="3,2"/>
<text x="228.7" y="554.84" font-size="4.2" fill="#8c8c8c" text-anchor="end">naive sera</text>
<line x1="161.7" y1="467.5" x2="161.7" y2="556.9" stroke="#a0a0a0" stroke-width="1.0"/>
<line x1="159.89999999999998" y1="556.90" x2="161.7" y2="556.90" stroke="#a0a0a0" stroke-width="0.7"/>
<text x="159.5" y="559.00" font-size="5.9" fill="#1e1e1e" text-anchor="end">0</text>
<line x1="159.89999999999998" y1="542.00" x2="161.7" y2="542.00" stroke="#a0a0a0" stroke-width="0.7"/>
<text x="159.5" y="544.10" font-size="5.9" fill="#1e1e1e" text-anchor="end">1</text>
<line x1="159.89999999999998" y1="527.10" x2="161.7" y2="527.10" stroke="#a0a0a0" stroke-width="0.7"/>
<text x="159.5" y="529.20" font-size="5.9" fill="#1e1e1e" text-anchor="end">2</text>
<line x1="159.89999999999998" y1="512.20" x2="161.7" y2="512.20" stroke="#a0a0a0" stroke-width="0.7"/>
<text x="159.5" y="514.30" font-size="5.9" fill="#1e1e1e" text-anchor="end">3</text>
<line x1="159.89999999999998" y1="497.30" x2="161.7" y2="497.30" stroke="#a0a0a0" stroke-width="0.7"/>
<text x="159.5" y="499.40" font-size="5.9" fill="#1e1e1e" text-anchor="end">4</text>
<line x1="159.89999999999998" y1="482.40" x2="161.7" y2="482.40" stroke="#a0a0a0" stroke-width="0.7"/>
<text x="159.5" y="484.50" font-size="5.9" fill="#1e1e1e" text-anchor="end">5</text>
<line x1="159.89999999999998" y1="467.50" x2="161.7" y2="467.50" stroke="#a0a0a0" stroke-width="0.7"/>
<text x="159.5" y="469.60" font-size="5.9" fill="#1e1e1e" text-anchor="end">6</text>
<line x1="161.7" y1="564.7" x2="161.7" y2="569.0" stroke="#a0a0a0" stroke-width="0.9"/>
<line x1="159.89999999999998" y1="564.70" x2="162.7" y2="564.70" stroke="#a0a0a0" stroke-width="0.7"/>
<text x="159.5" y="568.30" font-size="5.9" fill="#1e1e1e" text-anchor="end">ND</text>
<line x1="161.7" y1="569.0" x2="183.7" y2="569.0" stroke="#a0a0a0" stroke-width="0.9"/>
<line x1="161.7" y1="566.0" x2="161.7" y2="569.4" stroke="#8a8a8a" stroke-width="0.8"/>
<line x1="183.7" y1="566.0" x2="183.7" y2="569.4" stroke="#8a8a8a" stroke-width="0.8"/>
<line x1="163.90" y1="568.0" x2="163.90" y2="569.0" stroke="#a0a0a0" stroke-width="0.6"/>
<line x1="166.10" y1="568.0" x2="166.10" y2="569.0" stroke="#a0a0a0" stroke-width="0.6"/>
<line x1="168.30" y1="568.0" x2="168.30" y2="569.0" stroke="#a0a0a0" stroke-width="0.6"/>
<line x1="170.50" y1="568.0" x2="170.50" y2="569.0" stroke="#a0a0a0" stroke-width="0.6"/>
<line x1="172.70" y1="568.0" x2="172.70" y2="569.0" stroke="#a0a0a0" stroke-width="0.6"/>
<line x1="174.90" y1="568.0" x2="174.90" y2="569.0" stroke="#a0a0a0" stroke-width="0.6"/>
<line x1="177.10" y1="568.0" x2="177.10" y2="569.0" stroke="#a0a0a0" stroke-width="0.6"/>
<line x1="179.30" y1="568.0" x2="179.30" y2="569.0" stroke="#a0a0a0" stroke-width="0.6"/>
<line x1="181.50" y1="568.0" x2="181.50" y2="569.0" stroke="#a0a0a0" stroke-width="0.6"/>
<line x1="189.89999999999998" y1="569.0" x2="212.2" y2="569.0" stroke="#a0a0a0" stroke-width="0.9"/>
<line x1="189.89999999999998" y1="566.0" x2="189.89999999999998" y2="569.4" stroke="#8a8a8a" stroke-width="0.8"/>
<line x1="212.2" y1="566.0" x2="212.2" y2="569.4" stroke="#8a8a8a" stroke-width="0.8"/>
<line x1="192.13" y1="568.0" x2="192.13" y2="569.0" stroke="#a0a0a0" stroke-width="0.6"/>
<line x1="194.36" y1="568.0" x2="194.36" y2="569.0" stroke="#a0a0a0" stroke-width="0.6"/>
<line x1="196.59" y1="568.0" x2="196.59" y2="569.0" stroke="#a0a0a0" stroke-width="0.6"/>
<line x1="198.82" y1="568.0" x2="198.82" y2="569.0" stroke="#a0a0a0" stroke-width="0.6"/>
<line x1="201.05" y1="568.0" x2="201.05" y2="569.0" stroke="#a0a0a0" stroke-width="0.6"/>
<line x1="203.28" y1="568.0" x2="203.28" y2="569.0" stroke="#a0a0a0" stroke-width="0.6"/>
<line x1="205.51" y1="568.0" x2="205.51" y2="569.0" stroke="#a0a0a0" stroke-width="0.6"/>
<line x1="207.74" y1="568.0" x2="207.74" y2="569.0" stroke="#a0a0a0" stroke-width="0.6"/>
<line x1="209.97" y1="568.0" x2="209.97" y2="569.0" stroke="#a0a0a0" stroke-width="0.6"/>
<line x1="218.0" y1="569.0" x2="229.2" y2="569.0" stroke="#a0a0a0" stroke-width="0.9"/>
<line x1="218.0" y1="566.0" x2="218.0" y2="569.4" stroke="#8a8a8a" stroke-width="0.8"/>
<line x1="229.2" y1="566.0" x2="229.2" y2="569.4" stroke="#8a8a8a" stroke-width="0.8"/>
<line x1="220.24" y1="568.0" x2="220.24" y2="569.0" stroke="#a0a0a0" stroke-width="0.6"/>
<line x1="222.48" y1="568.0" x2="222.48" y2="569.0" stroke="#a0a0a0" stroke-width="0.6"/>
<line x1="224.72" y1="568.0" x2="224.72" y2="569.0" stroke="#a0a0a0" stroke-width="0.6"/>
<line x1="226.96" y1="568.0" x2="226.96" y2="569.0" stroke="#a0a0a0" stroke-width="0.6"/>
<text x="161.70" y="575.8" font-size="6.1" fill="#1e1e1e" text-anchor="middle">0</text>
<text x="172.70" y="575.8" font-size="6.1" fill="#1e1e1e" text-anchor="middle">1</text>
<text x="183.70" y="575.8" font-size="6.1" fill="#1e1e1e" text-anchor="middle">2</text>
<text x="189.90" y="575.8" font-size="6.1" fill="#1e1e1e" text-anchor="middle">3</text>
<text x="201.06" y="575.8" font-size="6.1" fill="#1e1e1e" text-anchor="middle">6</text>
<text x="212.22" y="575.8" font-size="6.1" fill="#1e1e1e" text-anchor="middle">9</text>
<text x="218.00" y="575.8" font-size="6.1" fill="#1e1e1e" text-anchor="middle">12</text>
<text x="229.22" y="575.8" font-size="6.1" fill="#1e1e1e" text-anchor="middle">18</text>
<text transform="translate(147.30,518.65) rotate(-90) scale(0.86,1)" font-size="6.5" fill="#2a2a2a" text-anchor="middle">Endpoint dilution log<tspan font-size="4.2" dy="1.4">10</tspan><tspan dy="-1.4"> (1:x)</tspan></text>
<g fill="#84c7b9" fill-opacity="0.9"><circle cx="163.90" cy="483.89" r="2.05"/><circle cx="163.90" cy="491.34" r="2.05"/><circle cx="169.40" cy="483.89" r="2.05"/><circle cx="169.40" cy="491.34" r="2.05"/><circle cx="169.40" cy="498.79" r="2.05"/><circle cx="169.40" cy="506.24" r="2.05"/><circle cx="172.70" cy="483.89" r="2.05"/><circle cx="172.70" cy="491.34" r="2.05"/><circle cx="172.70" cy="498.79" r="2.05"/><circle cx="178.20" cy="483.89" r="2.05"/><circle cx="178.20" cy="491.34" r="2.05"/><circle cx="178.20" cy="498.79" r="2.05"/><circle cx="183.70" cy="483.89" r="2.05"/><circle cx="183.70" cy="491.34" r="2.05"/><circle cx="183.70" cy="498.79" r="2.05"/><circle cx="183.70" cy="506.24" r="2.05"/><circle cx="189.90" cy="483.89" r="2.05"/><circle cx="189.90" cy="491.34" r="2.05"/><circle cx="189.90" cy="498.79" r="2.05"/><circle cx="189.90" cy="506.24" r="2.05"/><circle cx="193.62" cy="483.89" r="2.05"/><circle cx="193.62" cy="491.34" r="2.05"/><circle cx="193.62" cy="498.79" r="2.05"/><circle cx="197.34" cy="483.89" r="2.05"/><circle cx="197.34" cy="491.34" r="2.05"/><circle cx="197.34" cy="498.79" r="2.05"/><circle cx="197.34" cy="506.24" r="2.05"/><circle cx="201.06" cy="483.89" r="2.05"/><circle cx="201.06" cy="491.34" r="2.05"/><circle cx="201.06" cy="498.79" r="2.05"/><circle cx="201.06" cy="506.24" r="2.05"/><circle cx="212.22" cy="483.89" r="2.05"/><circle cx="212.22" cy="491.34" r="2.05"/><circle cx="212.22" cy="498.79" r="2.05"/><circle cx="212.22" cy="506.24" r="2.05"/><circle cx="212.22" cy="512.94" r="2.05"/><circle cx="212.22" cy="520.39" r="2.05"/><circle cx="218.00" cy="498.79" r="2.05"/><circle cx="218.00" cy="506.24" r="2.05"/><circle cx="218.00" cy="527.85" r="2.05"/></g>
<polyline points="163.90,485.38 169.40,487.62 172.70,486.57 178.20,486.87 183.70,489.85 189.90,488.66 193.62,489.85 197.34,490.30 201.06,490.74 212.22,493.13 218.00,506.99" fill="none" stroke="#2f4585" stroke-width="1.5" stroke-linejoin="round" stroke-linecap="round"/>
<rect x="272.2" y="538.42" width="67.7" height="18.48" fill="#e5e5e7"/>
<line x1="273.2" y1="547.66" x2="339.9" y2="547.66" stroke="#9e9e9e" stroke-width="0.7" stroke-dasharray="3,2"/>
<text x="339.2" y="551.86" font-size="4.2" fill="#8c8c8c" text-anchor="end">naive sera</text>
<line x1="272.2" y1="467.5" x2="272.2" y2="556.9" stroke="#a0a0a0" stroke-width="1.0"/>
<line x1="270.4" y1="556.90" x2="272.2" y2="556.90" stroke="#a0a0a0" stroke-width="0.7"/>
<text x="270.0" y="559.00" font-size="5.9" fill="#1e1e1e" text-anchor="end">0</text>
<line x1="270.4" y1="542.00" x2="272.2" y2="542.00" stroke="#a0a0a0" stroke-width="0.7"/>
<text x="270.0" y="544.10" font-size="5.9" fill="#1e1e1e" text-anchor="end">1</text>
<line x1="270.4" y1="527.10" x2="272.2" y2="527.10" stroke="#a0a0a0" stroke-width="0.7"/>
<text x="270.0" y="529.20" font-size="5.9" fill="#1e1e1e" text-anchor="end">2</text>
<line x1="270.4" y1="512.20" x2="272.2" y2="512.20" stroke="#a0a0a0" stroke-width="0.7"/>
<text x="270.0" y="514.30" font-size="5.9" fill="#1e1e1e" text-anchor="end">3</text>
<line x1="270.4" y1="497.30" x2="272.2" y2="497.30" stroke="#a0a0a0" stroke-width="0.7"/>
<text x="270.0" y="499.40" font-size="5.9" fill="#1e1e1e" text-anchor="end">4</text>
<line x1="270.4" y1="482.40" x2="272.2" y2="482.40" stroke="#a0a0a0" stroke-width="0.7"/>
<text x="270.0" y="484.50" font-size="5.9" fill="#1e1e1e" text-anchor="end">5</text>
<line x1="270.4" y1="467.50" x2="272.2" y2="467.50" stroke="#a0a0a0" stroke-width="0.7"/>
<text x="270.0" y="469.60" font-size="5.9" fill="#1e1e1e" text-anchor="end">6</text>
<line x1="272.2" y1="564.7" x2="272.2" y2="569.0" stroke="#a0a0a0" stroke-width="0.9"/>
<line x1="270.4" y1="564.70" x2="273.2" y2="564.70" stroke="#a0a0a0" stroke-width="0.7"/>
<text x="270.0" y="568.30" font-size="5.9" fill="#1e1e1e" text-anchor="end">ND</text>
<line x1="272.2" y1="569.0" x2="294.2" y2="569.0" stroke="#a0a0a0" stroke-width="0.9"/>
<line x1="272.2" y1="566.0" x2="272.2" y2="569.4" stroke="#8a8a8a" stroke-width="0.8"/>
<line x1="294.2" y1="566.0" x2="294.2" y2="569.4" stroke="#8a8a8a" stroke-width="0.8"/>
<line x1="274.40" y1="568.0" x2="274.40" y2="569.0" stroke="#a0a0a0" stroke-width="0.6"/>
<line x1="276.60" y1="568.0" x2="276.60" y2="569.0" stroke="#a0a0a0" stroke-width="0.6"/>
<line x1="278.80" y1="568.0" x2="278.80" y2="569.0" stroke="#a0a0a0" stroke-width="0.6"/>
<line x1="281.00" y1="568.0" x2="281.00" y2="569.0" stroke="#a0a0a0" stroke-width="0.6"/>
<line x1="283.20" y1="568.0" x2="283.20" y2="569.0" stroke="#a0a0a0" stroke-width="0.6"/>
<line x1="285.40" y1="568.0" x2="285.40" y2="569.0" stroke="#a0a0a0" stroke-width="0.6"/>
<line x1="287.60" y1="568.0" x2="287.60" y2="569.0" stroke="#a0a0a0" stroke-width="0.6"/>
<line x1="289.80" y1="568.0" x2="289.80" y2="569.0" stroke="#a0a0a0" stroke-width="0.6"/>
<line x1="292.00" y1="568.0" x2="292.00" y2="569.0" stroke="#a0a0a0" stroke-width="0.6"/>
<line x1="300.4" y1="569.0" x2="322.7" y2="569.0" stroke="#a0a0a0" stroke-width="0.9"/>
<line x1="300.4" y1="566.0" x2="300.4" y2="569.4" stroke="#8a8a8a" stroke-width="0.8"/>
<line x1="322.7" y1="566.0" x2="322.7" y2="569.4" stroke="#8a8a8a" stroke-width="0.8"/>
<line x1="302.63" y1="568.0" x2="302.63" y2="569.0" stroke="#a0a0a0" stroke-width="0.6"/>
<line x1="304.86" y1="568.0" x2="304.86" y2="569.0" stroke="#a0a0a0" stroke-width="0.6"/>
<line x1="307.09" y1="568.0" x2="307.09" y2="569.0" stroke="#a0a0a0" stroke-width="0.6"/>
<line x1="309.32" y1="568.0" x2="309.32" y2="569.0" stroke="#a0a0a0" stroke-width="0.6"/>
<line x1="311.55" y1="568.0" x2="311.55" y2="569.0" stroke="#a0a0a0" stroke-width="0.6"/>
<line x1="313.78" y1="568.0" x2="313.78" y2="569.0" stroke="#a0a0a0" stroke-width="0.6"/>
<line x1="316.01" y1="568.0" x2="316.01" y2="569.0" stroke="#a0a0a0" stroke-width="0.6"/>
<line x1="318.24" y1="568.0" x2="318.24" y2="569.0" stroke="#a0a0a0" stroke-width="0.6"/>
<line x1="320.47" y1="568.0" x2="320.47" y2="569.0" stroke="#a0a0a0" stroke-width="0.6"/>
<line x1="328.5" y1="569.0" x2="339.7" y2="569.0" stroke="#a0a0a0" stroke-width="0.9"/>
<line x1="328.5" y1="566.0" x2="328.5" y2="569.4" stroke="#8a8a8a" stroke-width="0.8"/>
<line x1="339.7" y1="566.0" x2="339.7" y2="569.4" stroke="#8a8a8a" stroke-width="0.8"/>
<line x1="330.74" y1="568.0" x2="330.74" y2="569.0" stroke="#a0a0a0" stroke-width="0.6"/>
<line x1="332.98" y1="568.0" x2="332.98" y2="569.0" stroke="#a0a0a0" stroke-width="0.6"/>
<line x1="335.22" y1="568.0" x2="335.22" y2="569.0" stroke="#a0a0a0" stroke-width="0.6"/>
<line x1="337.46" y1="568.0" x2="337.46" y2="569.0" stroke="#a0a0a0" stroke-width="0.6"/>
<text x="272.20" y="575.8" font-size="6.1" fill="#1e1e1e" text-anchor="middle">0</text>
<text x="283.20" y="575.8" font-size="6.1" fill="#1e1e1e" text-anchor="middle">1</text>
<text x="294.20" y="575.8" font-size="6.1" fill="#1e1e1e" text-anchor="middle">2</text>
<text x="300.40" y="575.8" font-size="6.1" fill="#1e1e1e" text-anchor="middle">3</text>
<text x="311.56" y="575.8" font-size="6.1" fill="#1e1e1e" text-anchor="middle">6</text>
<text x="322.72" y="575.8" font-size="6.1" fill="#1e1e1e" text-anchor="middle">9</text>
<text x="328.50" y="575.8" font-size="6.1" fill="#1e1e1e" text-anchor="middle">12</text>
<text x="339.72" y="575.8" font-size="6.1" fill="#1e1e1e" text-anchor="middle">18</text>
<text transform="translate(257.80,518.65) rotate(-90) scale(0.86,1)" font-size="6.5" fill="#2a2a2a" text-anchor="middle">Endpoint dilution log<tspan font-size="4.2" dy="1.4">10</tspan><tspan dy="-1.4"> (1:x)</tspan></text>
<g fill="#84c7b9" fill-opacity="0.9"><circle cx="274.40" cy="483.89" r="2.05"/><circle cx="274.40" cy="491.34" r="2.05"/><circle cx="279.90" cy="483.89" r="2.05"/><circle cx="279.90" cy="491.34" r="2.05"/><circle cx="283.20" cy="483.89" r="2.05"/><circle cx="283.20" cy="491.34" r="2.05"/><circle cx="283.20" cy="498.79" r="2.05"/><circle cx="288.70" cy="483.89" r="2.05"/><circle cx="288.70" cy="491.34" r="2.05"/><circle cx="294.20" cy="483.89" r="2.05"/><circle cx="294.20" cy="491.34" r="2.05"/><circle cx="294.20" cy="498.79" r="2.05"/><circle cx="300.40" cy="483.89" r="2.05"/><circle cx="300.40" cy="491.34" r="2.05"/><circle cx="304.12" cy="483.89" r="2.05"/><circle cx="304.12" cy="491.34" r="2.05"/><circle cx="307.84" cy="483.89" r="2.05"/><circle cx="307.84" cy="491.34" r="2.05"/><circle cx="307.84" cy="506.24" r="2.05"/><circle cx="307.84" cy="507.73" r="2.05"/><circle cx="311.56" cy="483.89" r="2.05"/><circle cx="311.56" cy="491.34" r="2.05"/><circle cx="311.56" cy="506.24" r="2.05"/><circle cx="322.72" cy="491.34" r="2.05"/><circle cx="322.72" cy="498.79" r="2.05"/><circle cx="322.72" cy="506.24" r="2.05"/><circle cx="328.50" cy="483.89" r="2.05"/><circle cx="328.50" cy="498.79" r="2.05"/><circle cx="328.50" cy="506.24" r="2.05"/><circle cx="328.50" cy="512.94" r="2.05"/></g>
<polyline points="274.40,485.08 283.20,486.87 288.70,486.12 294.20,489.40 300.40,485.38 311.56,490.59 322.72,496.11 328.50,496.11" fill="none" stroke="#2f4585" stroke-width="1.5" stroke-linejoin="round" stroke-linecap="round"/>
<line x1="382.2" y1="467.3" x2="382.2" y2="568.8" stroke="#a0a0a0" stroke-width="1.0"/>
<line x1="380.4" y1="568.80" x2="382.2" y2="568.80" stroke="#a0a0a0" stroke-width="0.7"/>
<text x="380.0" y="570.90" font-size="5.9" fill="#1e1e1e" text-anchor="end">0</text>
<line x1="380.4" y1="551.88" x2="382.2" y2="551.88" stroke="#a0a0a0" stroke-width="0.7"/>
<text x="380.0" y="553.98" font-size="5.9" fill="#1e1e1e" text-anchor="end">25</text>
<line x1="380.4" y1="534.97" x2="382.2" y2="534.97" stroke="#a0a0a0" stroke-width="0.7"/>
<text x="380.0" y="537.07" font-size="5.9" fill="#1e1e1e" text-anchor="end">50</text>
<line x1="380.4" y1="518.05" x2="382.2" y2="518.05" stroke="#a0a0a0" stroke-width="0.7"/>
<text x="380.0" y="520.15" font-size="5.9" fill="#1e1e1e" text-anchor="end">75</text>
<line x1="380.4" y1="501.13" x2="382.2" y2="501.13" stroke="#a0a0a0" stroke-width="0.7"/>
<text x="380.0" y="503.23" font-size="5.9" fill="#1e1e1e" text-anchor="end">100</text>
<line x1="380.4" y1="484.22" x2="382.2" y2="484.22" stroke="#a0a0a0" stroke-width="0.7"/>
<text x="380.0" y="486.32" font-size="5.9" fill="#1e1e1e" text-anchor="end">125</text>
<line x1="380.4" y1="467.30" x2="382.2" y2="467.30" stroke="#a0a0a0" stroke-width="0.7"/>
<text x="380.0" y="469.40" font-size="5.9" fill="#1e1e1e" text-anchor="end">150</text>
<line x1="382.2" y1="568.8" x2="404.2" y2="568.8" stroke="#a0a0a0" stroke-width="0.9"/>
<line x1="382.2" y1="565.8" x2="382.2" y2="569.1999999999999" stroke="#8a8a8a" stroke-width="0.8"/>
<line x1="404.2" y1="565.8" x2="404.2" y2="569.1999999999999" stroke="#8a8a8a" stroke-width="0.8"/>
<line x1="384.40" y1="567.8" x2="384.40" y2="568.8" stroke="#a0a0a0" stroke-width="0.6"/>
<line x1="386.60" y1="567.8" x2="386.60" y2="568.8" stroke="#a0a0a0" stroke-width="0.6"/>
<line x1="388.80" y1="567.8" x2="388.80" y2="568.8" stroke="#a0a0a0" stroke-width="0.6"/>
<line x1="391.00" y1="567.8" x2="391.00" y2="568.8" stroke="#a0a0a0" stroke-width="0.6"/>
<line x1="393.20" y1="567.8" x2="393.20" y2="568.8" stroke="#a0a0a0" stroke-width="0.6"/>
<line x1="395.40" y1="567.8" x2="395.40" y2="568.8" stroke="#a0a0a0" stroke-width="0.6"/>
<line x1="397.60" y1="567.8" x2="397.60" y2="568.8" stroke="#a0a0a0" stroke-width="0.6"/>
<line x1="399.80" y1="567.8" x2="399.80" y2="568.8" stroke="#a0a0a0" stroke-width="0.6"/>
<line x1="402.00" y1="567.8" x2="402.00" y2="568.8" stroke="#a0a0a0" stroke-width="0.6"/>
<line x1="410.4" y1="568.8" x2="432.7" y2="568.8" stroke="#a0a0a0" stroke-width="0.9"/>
<line x1="410.4" y1="565.8" x2="410.4" y2="569.1999999999999" stroke="#8a8a8a" stroke-width="0.8"/>
<line x1="432.7" y1="565.8" x2="432.7" y2="569.1999999999999" stroke="#8a8a8a" stroke-width="0.8"/>
<line x1="412.63" y1="567.8" x2="412.63" y2="568.8" stroke="#a0a0a0" stroke-width="0.6"/>
<line x1="414.86" y1="567.8" x2="414.86" y2="568.8" stroke="#a0a0a0" stroke-width="0.6"/>
<line x1="417.09" y1="567.8" x2="417.09" y2="568.8" stroke="#a0a0a0" stroke-width="0.6"/>
<line x1="419.32" y1="567.8" x2="419.32" y2="568.8" stroke="#a0a0a0" stroke-width="0.6"/>
<line x1="421.55" y1="567.8" x2="421.55" y2="568.8" stroke="#a0a0a0" stroke-width="0.6"/>
<line x1="423.78" y1="567.8" x2="423.78" y2="568.8" stroke="#a0a0a0" stroke-width="0.6"/>
<line x1="426.01" y1="567.8" x2="426.01" y2="568.8" stroke="#a0a0a0" stroke-width="0.6"/>
<line x1="428.24" y1="567.8" x2="428.24" y2="568.8" stroke="#a0a0a0" stroke-width="0.6"/>
<line x1="430.47" y1="567.8" x2="430.47" y2="568.8" stroke="#a0a0a0" stroke-width="0.6"/>
<line x1="438.5" y1="568.8" x2="449.7" y2="568.8" stroke="#a0a0a0" stroke-width="0.9"/>
<line x1="438.5" y1="565.8" x2="438.5" y2="569.1999999999999" stroke="#8a8a8a" stroke-width="0.8"/>
<line x1="449.7" y1="565.8" x2="449.7" y2="569.1999999999999" stroke="#8a8a8a" stroke-width="0.8"/>
<line x1="440.74" y1="567.8" x2="440.74" y2="568.8" stroke="#a0a0a0" stroke-width="0.6"/>
<line x1="442.98" y1="567.8" x2="442.98" y2="568.8" stroke="#a0a0a0" stroke-width="0.6"/>
<line x1="445.22" y1="567.8" x2="445.22" y2="568.8" stroke="#a0a0a0" stroke-width="0.6"/>
<line x1="447.46" y1="567.8" x2="447.46" y2="568.8" stroke="#a0a0a0" stroke-width="0.6"/>
<text x="382.20" y="575.5999999999999" font-size="6.1" fill="#1e1e1e" text-anchor="middle">0</text>
<text x="393.20" y="575.5999999999999" font-size="6.1" fill="#1e1e1e" text-anchor="middle">1</text>
<text x="404.20" y="575.5999999999999" font-size="6.1" fill="#1e1e1e" text-anchor="middle">2</text>
<text x="410.40" y="575.5999999999999" font-size="6.1" fill="#1e1e1e" text-anchor="middle">3</text>
<text x="421.56" y="575.5999999999999" font-size="6.1" fill="#1e1e1e" text-anchor="middle">6</text>
<text x="432.72" y="575.5999999999999" font-size="6.1" fill="#1e1e1e" text-anchor="middle">9</text>
<text x="438.50" y="575.5999999999999" font-size="6.1" fill="#1e1e1e" text-anchor="middle">12</text>
<text x="449.72" y="575.5999999999999" font-size="6.1" fill="#1e1e1e" text-anchor="middle">18</text>
<text transform="translate(367.20,518.05) rotate(-90) scale(0.86,1)" font-size="6.4" fill="#2a2a2a" text-anchor="middle">Avidity Index, %</text>
<g fill="#84c7b9" fill-opacity="0.9"><circle cx="384.40" cy="518.05" r="2.05"/><circle cx="384.40" cy="523.46" r="2.05"/><circle cx="384.40" cy="538.35" r="2.05"/><circle cx="384.40" cy="541.73" r="2.05"/><circle cx="384.40" cy="545.12" r="2.05"/><circle cx="384.40" cy="548.50" r="2.05"/><circle cx="384.40" cy="551.88" r="2.05"/><circle cx="384.40" cy="555.27" r="2.05"/><circle cx="384.40" cy="557.30" r="2.05"/><circle cx="389.90" cy="526.85" r="2.05"/><circle cx="389.90" cy="530.23" r="2.05"/><circle cx="389.90" cy="538.35" r="2.05"/><circle cx="389.90" cy="540.38" r="2.05"/><circle cx="389.90" cy="543.09" r="2.05"/><circle cx="389.90" cy="546.47" r="2.05"/><circle cx="389.90" cy="551.88" r="2.05"/><circle cx="389.90" cy="557.30" r="2.05"/><circle cx="393.20" cy="531.58" r="2.05"/><circle cx="393.20" cy="534.97" r="2.05"/><circle cx="393.20" cy="538.35" r="2.05"/><circle cx="393.20" cy="541.73" r="2.05"/><circle cx="393.20" cy="545.12" r="2.05"/><circle cx="393.20" cy="548.50" r="2.05"/><circle cx="393.20" cy="551.88" r="2.05"/><circle cx="393.20" cy="555.27" r="2.05"/><circle cx="393.20" cy="557.30" r="2.05"/><circle cx="398.70" cy="526.17" r="2.05"/><circle cx="398.70" cy="534.97" r="2.05"/><circle cx="398.70" cy="541.73" r="2.05"/><circle cx="398.70" cy="545.12" r="2.05"/><circle cx="398.70" cy="548.50" r="2.05"/><circle cx="398.70" cy="551.88" r="2.05"/><circle cx="398.70" cy="555.27" r="2.05"/><circle cx="398.70" cy="557.30" r="2.05"/><circle cx="404.20" cy="528.20" r="2.05"/><circle cx="404.20" cy="534.97" r="2.05"/><circle cx="404.20" cy="538.35" r="2.05"/><circle cx="404.20" cy="541.73" r="2.05"/><circle cx="404.20" cy="545.12" r="2.05"/><circle cx="404.20" cy="548.50" r="2.05"/><circle cx="404.20" cy="551.88" r="2.05"/><circle cx="404.20" cy="553.91" r="2.05"/><circle cx="404.20" cy="563.39" r="2.05"/><circle cx="410.40" cy="519.40" r="2.05"/><circle cx="410.40" cy="526.17" r="2.05"/><circle cx="410.40" cy="531.58" r="2.05"/><circle cx="410.40" cy="534.97" r="2.05"/><circle cx="410.40" cy="538.35" r="2.05"/><circle cx="410.40" cy="545.12" r="2.05"/><circle cx="410.40" cy="548.50" r="2.05"/><circle cx="410.40" cy="553.24" r="2.05"/><circle cx="410.40" cy="560.00" r="2.05"/><circle cx="414.12" cy="511.28" r="2.05"/><circle cx="414.12" cy="526.17" r="2.05"/><circle cx="414.12" cy="531.58" r="2.05"/><circle cx="414.12" cy="534.97" r="2.05"/><circle cx="414.12" cy="538.35" r="2.05"/><circle cx="414.12" cy="543.09" r="2.05"/><circle cx="414.12" cy="549.85" r="2.05"/><circle cx="414.12" cy="555.94" r="2.05"/><circle cx="414.12" cy="560.68" r="2.05"/><circle cx="417.84" cy="527.52" r="2.05"/><circle cx="417.84" cy="534.97" r="2.05"/><circle cx="417.84" cy="541.73" r="2.05"/><circle cx="417.84" cy="545.12" r="2.05"/><circle cx="417.84" cy="551.88" r="2.05"/><circle cx="417.84" cy="555.27" r="2.05"/><circle cx="417.84" cy="558.65" r="2.05"/><circle cx="417.84" cy="563.39" r="2.05"/><circle cx="421.56" cy="520.08" r="2.05"/><circle cx="421.56" cy="523.46" r="2.05"/><circle cx="421.56" cy="532.94" r="2.05"/><circle cx="421.56" cy="538.35" r="2.05"/><circle cx="421.56" cy="543.09" r="2.05"/><circle cx="421.56" cy="551.88" r="2.05"/><circle cx="421.56" cy="556.62" r="2.05"/><circle cx="421.56" cy="564.06" r="2.05"/><circle cx="432.72" cy="482.19" r="2.05"/><circle cx="432.72" cy="484.22" r="2.05"/><circle cx="432.72" cy="495.72" r="2.05"/><circle cx="432.72" cy="519.40" r="2.05"/><circle cx="432.72" cy="523.46" r="2.05"/><circle cx="432.72" cy="528.20" r="2.05"/><circle cx="432.72" cy="534.97" r="2.05"/><circle cx="432.72" cy="537.00" r="2.05"/><circle cx="432.72" cy="548.50" r="2.05"/><circle cx="432.72" cy="551.88" r="2.05"/><circle cx="432.72" cy="555.27" r="2.05"/><circle cx="432.72" cy="560.68" r="2.05"/><circle cx="438.50" cy="496.40" r="2.05"/><circle cx="438.50" cy="513.99" r="2.05"/><circle cx="438.50" cy="554.59" r="2.05"/><circle cx="438.50" cy="565.42" r="2.05"/><circle cx="438.50" cy="568.80" r="2.05"/></g>
<polyline points="384.40,543.76 389.90,540.38 393.20,544.44 398.70,543.76 404.20,545.12 410.40,539.03 414.12,541.06 417.84,545.12 421.56,538.35 432.72,528.88 438.50,532.26" fill="none" stroke="#2f4585" stroke-width="1.5" stroke-linejoin="round" stroke-linecap="round"/>
<line x1="493.5" y1="467.3" x2="493.5" y2="568.8" stroke="#a0a0a0" stroke-width="1.0"/>
<line x1="491.7" y1="568.80" x2="493.5" y2="568.80" stroke="#a0a0a0" stroke-width="0.7"/>
<text x="491.3" y="570.90" font-size="5.9" fill="#1e1e1e" text-anchor="end">0</text>
<line x1="491.7" y1="543.42" x2="493.5" y2="543.42" stroke="#a0a0a0" stroke-width="0.7"/>
<text x="491.3" y="545.52" font-size="5.9" fill="#1e1e1e" text-anchor="end">1000</text>
<line x1="491.7" y1="518.05" x2="493.5" y2="518.05" stroke="#a0a0a0" stroke-width="0.7"/>
<text x="491.3" y="520.15" font-size="5.9" fill="#1e1e1e" text-anchor="end">2000</text>
<line x1="491.7" y1="492.68" x2="493.5" y2="492.68" stroke="#a0a0a0" stroke-width="0.7"/>
<text x="491.3" y="494.78" font-size="5.9" fill="#1e1e1e" text-anchor="end">3000</text>
<line x1="491.7" y1="467.30" x2="493.5" y2="467.30" stroke="#a0a0a0" stroke-width="0.7"/>
<text x="491.3" y="469.40" font-size="5.9" fill="#1e1e1e" text-anchor="end">4000</text>
<line x1="493.5" y1="568.8" x2="515.5" y2="568.8" stroke="#a0a0a0" stroke-width="0.9"/>
<line x1="493.5" y1="565.8" x2="493.5" y2="569.1999999999999" stroke="#8a8a8a" stroke-width="0.8"/>
<line x1="515.5" y1="565.8" x2="515.5" y2="569.1999999999999" stroke="#8a8a8a" stroke-width="0.8"/>
<line x1="495.70" y1="567.8" x2="495.70" y2="568.8" stroke="#a0a0a0" stroke-width="0.6"/>
<line x1="497.90" y1="567.8" x2="497.90" y2="568.8" stroke="#a0a0a0" stroke-width="0.6"/>
<line x1="500.10" y1="567.8" x2="500.10" y2="568.8" stroke="#a0a0a0" stroke-width="0.6"/>
<line x1="502.30" y1="567.8" x2="502.30" y2="568.8" stroke="#a0a0a0" stroke-width="0.6"/>
<line x1="504.50" y1="567.8" x2="504.50" y2="568.8" stroke="#a0a0a0" stroke-width="0.6"/>
<line x1="506.70" y1="567.8" x2="506.70" y2="568.8" stroke="#a0a0a0" stroke-width="0.6"/>
<line x1="508.90" y1="567.8" x2="508.90" y2="568.8" stroke="#a0a0a0" stroke-width="0.6"/>
<line x1="511.10" y1="567.8" x2="511.10" y2="568.8" stroke="#a0a0a0" stroke-width="0.6"/>
<line x1="513.30" y1="567.8" x2="513.30" y2="568.8" stroke="#a0a0a0" stroke-width="0.6"/>
<line x1="521.7" y1="568.8" x2="544.0" y2="568.8" stroke="#a0a0a0" stroke-width="0.9"/>
<line x1="521.7" y1="565.8" x2="521.7" y2="569.1999999999999" stroke="#8a8a8a" stroke-width="0.8"/>
<line x1="544.0" y1="565.8" x2="544.0" y2="569.1999999999999" stroke="#8a8a8a" stroke-width="0.8"/>
<line x1="523.93" y1="567.8" x2="523.93" y2="568.8" stroke="#a0a0a0" stroke-width="0.6"/>
<line x1="526.16" y1="567.8" x2="526.16" y2="568.8" stroke="#a0a0a0" stroke-width="0.6"/>
<line x1="528.39" y1="567.8" x2="528.39" y2="568.8" stroke="#a0a0a0" stroke-width="0.6"/>
<line x1="530.62" y1="567.8" x2="530.62" y2="568.8" stroke="#a0a0a0" stroke-width="0.6"/>
<line x1="532.85" y1="567.8" x2="532.85" y2="568.8" stroke="#a0a0a0" stroke-width="0.6"/>
<line x1="535.08" y1="567.8" x2="535.08" y2="568.8" stroke="#a0a0a0" stroke-width="0.6"/>
<line x1="537.31" y1="567.8" x2="537.31" y2="568.8" stroke="#a0a0a0" stroke-width="0.6"/>
<line x1="539.54" y1="567.8" x2="539.54" y2="568.8" stroke="#a0a0a0" stroke-width="0.6"/>
<line x1="541.77" y1="567.8" x2="541.77" y2="568.8" stroke="#a0a0a0" stroke-width="0.6"/>
<line x1="549.8" y1="568.8" x2="561.0" y2="568.8" stroke="#a0a0a0" stroke-width="0.9"/>
<line x1="549.8" y1="565.8" x2="549.8" y2="569.1999999999999" stroke="#8a8a8a" stroke-width="0.8"/>
<line x1="561.0" y1="565.8" x2="561.0" y2="569.1999999999999" stroke="#8a8a8a" stroke-width="0.8"/>
<line x1="552.04" y1="567.8" x2="552.04" y2="568.8" stroke="#a0a0a0" stroke-width="0.6"/>
<line x1="554.28" y1="567.8" x2="554.28" y2="568.8" stroke="#a0a0a0" stroke-width="0.6"/>
<line x1="556.52" y1="567.8" x2="556.52" y2="568.8" stroke="#a0a0a0" stroke-width="0.6"/>
<line x1="558.76" y1="567.8" x2="558.76" y2="568.8" stroke="#a0a0a0" stroke-width="0.6"/>
<text x="493.50" y="575.5999999999999" font-size="6.1" fill="#1e1e1e" text-anchor="middle">0</text>
<text x="504.50" y="575.5999999999999" font-size="6.1" fill="#1e1e1e" text-anchor="middle">1</text>
<text x="515.50" y="575.5999999999999" font-size="6.1" fill="#1e1e1e" text-anchor="middle">2</text>
<text x="521.70" y="575.5999999999999" font-size="6.1" fill="#1e1e1e" text-anchor="middle">3</text>
<text x="532.86" y="575.5999999999999" font-size="6.1" fill="#1e1e1e" text-anchor="middle">6</text>
<text x="544.02" y="575.5999999999999" font-size="6.1" fill="#1e1e1e" text-anchor="middle">9</text>
<text x="549.80" y="575.5999999999999" font-size="6.1" fill="#1e1e1e" text-anchor="middle">12</text>
<text x="561.02" y="575.5999999999999" font-size="6.1" fill="#1e1e1e" text-anchor="middle">18</text>
<text transform="translate(475.70,518.05) rotate(-90) scale(0.86,1)" font-size="6.4" fill="#2a2a2a" text-anchor="middle">Phagocytic score</text>
<g fill="#84c7b9" fill-opacity="0.9"><circle cx="495.70" cy="523.12" r="2.05"/><circle cx="495.70" cy="526.93" r="2.05"/><circle cx="495.70" cy="534.54" r="2.05"/><circle cx="495.70" cy="548.50" r="2.05"/><circle cx="495.70" cy="553.57" r="2.05"/><circle cx="495.70" cy="558.65" r="2.05"/><circle cx="495.70" cy="562.46" r="2.05"/><circle cx="495.70" cy="566.26" r="2.05"/><circle cx="495.70" cy="568.80" r="2.05"/><circle cx="501.20" cy="496.48" r="2.05"/><circle cx="501.20" cy="500.29" r="2.05"/><circle cx="501.20" cy="523.12" r="2.05"/><circle cx="501.20" cy="525.66" r="2.05"/><circle cx="501.20" cy="529.47" r="2.05"/><circle cx="501.20" cy="535.81" r="2.05"/><circle cx="501.20" cy="551.04" r="2.05"/><circle cx="501.20" cy="553.57" r="2.05"/><circle cx="504.50" cy="512.98" r="2.05"/><circle cx="504.50" cy="518.05" r="2.05"/><circle cx="504.50" cy="523.12" r="2.05"/><circle cx="504.50" cy="528.20" r="2.05"/><circle cx="504.50" cy="533.27" r="2.05"/><circle cx="504.50" cy="537.08" r="2.05"/><circle cx="504.50" cy="538.35" r="2.05"/><circle cx="504.50" cy="549.77" r="2.05"/><circle cx="504.50" cy="552.31" r="2.05"/><circle cx="504.50" cy="557.38" r="2.05"/><circle cx="510.00" cy="497.75" r="2.05"/><circle cx="510.00" cy="504.09" r="2.05"/><circle cx="510.00" cy="511.71" r="2.05"/><circle cx="510.00" cy="514.24" r="2.05"/><circle cx="510.00" cy="528.20" r="2.05"/><circle cx="510.00" cy="530.74" r="2.05"/><circle cx="510.00" cy="534.54" r="2.05"/><circle cx="510.00" cy="537.08" r="2.05"/><circle cx="510.00" cy="547.23" r="2.05"/><circle cx="510.00" cy="554.84" r="2.05"/><circle cx="515.50" cy="505.36" r="2.05"/><circle cx="515.50" cy="512.98" r="2.05"/><circle cx="515.50" cy="518.05" r="2.05"/><circle cx="515.50" cy="521.86" r="2.05"/><circle cx="515.50" cy="530.74" r="2.05"/><circle cx="515.50" cy="534.54" r="2.05"/><circle cx="515.50" cy="537.08" r="2.05"/><circle cx="515.50" cy="540.89" r="2.05"/><circle cx="521.70" cy="510.44" r="2.05"/><circle cx="521.70" cy="512.98" r="2.05"/><circle cx="521.70" cy="516.78" r="2.05"/><circle cx="521.70" cy="521.86" r="2.05"/><circle cx="521.70" cy="528.20" r="2.05"/><circle cx="521.70" cy="529.47" r="2.05"/><circle cx="521.70" cy="535.81" r="2.05"/><circle cx="521.70" cy="548.50" r="2.05"/><circle cx="521.70" cy="551.04" r="2.05"/><circle cx="521.70" cy="552.31" r="2.05"/><circle cx="521.70" cy="556.11" r="2.05"/><circle cx="521.70" cy="568.80" r="2.05"/><circle cx="525.42" cy="493.94" r="2.05"/><circle cx="525.42" cy="500.29" r="2.05"/><circle cx="525.42" cy="506.63" r="2.05"/><circle cx="525.42" cy="509.17" r="2.05"/><circle cx="525.42" cy="523.12" r="2.05"/><circle cx="525.42" cy="542.16" r="2.05"/><circle cx="525.42" cy="551.04" r="2.05"/><circle cx="525.42" cy="562.46" r="2.05"/><circle cx="525.42" cy="568.80" r="2.05"/><circle cx="529.14" cy="472.38" r="2.05"/><circle cx="529.14" cy="482.52" r="2.05"/><circle cx="529.14" cy="497.75" r="2.05"/><circle cx="529.14" cy="509.17" r="2.05"/><circle cx="529.14" cy="524.39" r="2.05"/><circle cx="529.14" cy="538.35" r="2.05"/><circle cx="529.14" cy="544.69" r="2.05"/><circle cx="529.14" cy="547.23" r="2.05"/><circle cx="529.14" cy="554.84" r="2.05"/><circle cx="529.14" cy="568.80" r="2.05"/><circle cx="532.86" cy="526.93" r="2.05"/><circle cx="532.86" cy="532.01" r="2.05"/><circle cx="532.86" cy="540.89" r="2.05"/><circle cx="532.86" cy="554.84" r="2.05"/><circle cx="532.86" cy="557.38" r="2.05"/><circle cx="532.86" cy="568.80" r="2.05"/><circle cx="544.02" cy="514.24" r="2.05"/><circle cx="544.02" cy="520.59" r="2.05"/><circle cx="544.02" cy="521.86" r="2.05"/><circle cx="544.02" cy="523.12" r="2.05"/><circle cx="544.02" cy="529.47" r="2.05"/><circle cx="544.02" cy="547.23" r="2.05"/><circle cx="544.02" cy="551.04" r="2.05"/><circle cx="544.02" cy="562.46" r="2.05"/><circle cx="544.02" cy="564.99" r="2.05"/><circle cx="544.02" cy="568.80" r="2.05"/><circle cx="549.80" cy="544.69" r="2.05"/><circle cx="549.80" cy="547.23" r="2.05"/><circle cx="549.80" cy="564.99" r="2.05"/><circle cx="549.80" cy="567.53" r="2.05"/><circle cx="549.80" cy="568.80" r="2.05"/></g>
<polyline points="495.70,551.04 501.20,527.69 504.50,531.50 510.00,526.93 515.50,524.90 521.70,536.32 525.42,528.71 529.14,532.01 532.86,552.05 544.02,549.51 549.80,555.35" fill="none" stroke="#2f4585" stroke-width="1.5" stroke-linejoin="round" stroke-linecap="round"/>
<line x1="606.8" y1="467.3" x2="606.8" y2="568.8" stroke="#a0a0a0" stroke-width="1.0"/>
<line x1="605.0" y1="568.80" x2="606.8" y2="568.80" stroke="#a0a0a0" stroke-width="0.7"/>
<text x="604.5999999999999" y="570.90" font-size="5.9" fill="#1e1e1e" text-anchor="end">0</text>
<line x1="605.0" y1="548.50" x2="606.8" y2="548.50" stroke="#a0a0a0" stroke-width="0.7"/>
<text x="604.5999999999999" y="550.60" font-size="5.9" fill="#1e1e1e" text-anchor="end">3000</text>
<line x1="605.0" y1="528.20" x2="606.8" y2="528.20" stroke="#a0a0a0" stroke-width="0.7"/>
<text x="604.5999999999999" y="530.30" font-size="5.9" fill="#1e1e1e" text-anchor="end">6000</text>
<line x1="605.0" y1="507.90" x2="606.8" y2="507.90" stroke="#a0a0a0" stroke-width="0.7"/>
<text x="604.5999999999999" y="510.00" font-size="5.9" fill="#1e1e1e" text-anchor="end">9000</text>
<line x1="605.0" y1="487.60" x2="606.8" y2="487.60" stroke="#a0a0a0" stroke-width="0.7"/>
<text x="604.5999999999999" y="489.70" font-size="5.9" fill="#1e1e1e" text-anchor="end">12000</text>
<line x1="605.0" y1="467.30" x2="606.8" y2="467.30" stroke="#a0a0a0" stroke-width="0.7"/>
<text x="604.5999999999999" y="469.40" font-size="5.9" fill="#1e1e1e" text-anchor="end">15000</text>
<line x1="606.8" y1="568.8" x2="628.8" y2="568.8" stroke="#a0a0a0" stroke-width="0.9"/>
<line x1="606.8" y1="565.8" x2="606.8" y2="569.1999999999999" stroke="#8a8a8a" stroke-width="0.8"/>
<line x1="628.8" y1="565.8" x2="628.8" y2="569.1999999999999" stroke="#8a8a8a" stroke-width="0.8"/>
<line x1="609.00" y1="567.8" x2="609.00" y2="568.8" stroke="#a0a0a0" stroke-width="0.6"/>
<line x1="611.20" y1="567.8" x2="611.20" y2="568.8" stroke="#a0a0a0" stroke-width="0.6"/>
<line x1="613.40" y1="567.8" x2="613.40" y2="568.8" stroke="#a0a0a0" stroke-width="0.6"/>
<line x1="615.60" y1="567.8" x2="615.60" y2="568.8" stroke="#a0a0a0" stroke-width="0.6"/>
<line x1="617.80" y1="567.8" x2="617.80" y2="568.8" stroke="#a0a0a0" stroke-width="0.6"/>
<line x1="620.00" y1="567.8" x2="620.00" y2="568.8" stroke="#a0a0a0" stroke-width="0.6"/>
<line x1="622.20" y1="567.8" x2="622.20" y2="568.8" stroke="#a0a0a0" stroke-width="0.6"/>
<line x1="624.40" y1="567.8" x2="624.40" y2="568.8" stroke="#a0a0a0" stroke-width="0.6"/>
<line x1="626.60" y1="567.8" x2="626.60" y2="568.8" stroke="#a0a0a0" stroke-width="0.6"/>
<line x1="635.0" y1="568.8" x2="657.3" y2="568.8" stroke="#a0a0a0" stroke-width="0.9"/>
<line x1="635.0" y1="565.8" x2="635.0" y2="569.1999999999999" stroke="#8a8a8a" stroke-width="0.8"/>
<line x1="657.3" y1="565.8" x2="657.3" y2="569.1999999999999" stroke="#8a8a8a" stroke-width="0.8"/>
<line x1="637.23" y1="567.8" x2="637.23" y2="568.8" stroke="#a0a0a0" stroke-width="0.6"/>
<line x1="639.46" y1="567.8" x2="639.46" y2="568.8" stroke="#a0a0a0" stroke-width="0.6"/>
<line x1="641.69" y1="567.8" x2="641.69" y2="568.8" stroke="#a0a0a0" stroke-width="0.6"/>
<line x1="643.92" y1="567.8" x2="643.92" y2="568.8" stroke="#a0a0a0" stroke-width="0.6"/>
<line x1="646.15" y1="567.8" x2="646.15" y2="568.8" stroke="#a0a0a0" stroke-width="0.6"/>
<line x1="648.38" y1="567.8" x2="648.38" y2="568.8" stroke="#a0a0a0" stroke-width="0.6"/>
<line x1="650.61" y1="567.8" x2="650.61" y2="568.8" stroke="#a0a0a0" stroke-width="0.6"/>
<line x1="652.84" y1="567.8" x2="652.84" y2="568.8" stroke="#a0a0a0" stroke-width="0.6"/>
<line x1="655.07" y1="567.8" x2="655.07" y2="568.8" stroke="#a0a0a0" stroke-width="0.6"/>
<line x1="663.0999999999999" y1="568.8" x2="674.3" y2="568.8" stroke="#a0a0a0" stroke-width="0.9"/>
<line x1="663.0999999999999" y1="565.8" x2="663.0999999999999" y2="569.1999999999999" stroke="#8a8a8a" stroke-width="0.8"/>
<line x1="674.3" y1="565.8" x2="674.3" y2="569.1999999999999" stroke="#8a8a8a" stroke-width="0.8"/>
<line x1="665.34" y1="567.8" x2="665.34" y2="568.8" stroke="#a0a0a0" stroke-width="0.6"/>
<line x1="667.58" y1="567.8" x2="667.58" y2="568.8" stroke="#a0a0a0" stroke-width="0.6"/>
<line x1="669.82" y1="567.8" x2="669.82" y2="568.8" stroke="#a0a0a0" stroke-width="0.6"/>
<line x1="672.06" y1="567.8" x2="672.06" y2="568.8" stroke="#a0a0a0" stroke-width="0.6"/>
<text x="606.80" y="575.5999999999999" font-size="6.1" fill="#1e1e1e" text-anchor="middle">0</text>
<text x="617.80" y="575.5999999999999" font-size="6.1" fill="#1e1e1e" text-anchor="middle">1</text>
<text x="628.80" y="575.5999999999999" font-size="6.1" fill="#1e1e1e" text-anchor="middle">2</text>
<text x="635.00" y="575.5999999999999" font-size="6.1" fill="#1e1e1e" text-anchor="middle">3</text>
<text x="646.16" y="575.5999999999999" font-size="6.1" fill="#1e1e1e" text-anchor="middle">6</text>
<text x="657.32" y="575.5999999999999" font-size="6.1" fill="#1e1e1e" text-anchor="middle">9</text>
<text x="663.10" y="575.5999999999999" font-size="6.1" fill="#1e1e1e" text-anchor="middle">12</text>
<text x="674.32" y="575.5999999999999" font-size="6.1" fill="#1e1e1e" text-anchor="middle">18</text>
<text transform="translate(586.30,518.05) rotate(-90) scale(0.86,1)" font-size="6.4" fill="#2a2a2a" text-anchor="middle">MFI</text>
<g fill="#84c7b9" fill-opacity="0.9"><circle cx="609.00" cy="499.78" r="2.05"/><circle cx="609.00" cy="503.16" r="2.05"/><circle cx="609.00" cy="506.55" r="2.05"/><circle cx="609.00" cy="509.25" r="2.05"/><circle cx="609.00" cy="512.64" r="2.05"/><circle cx="609.00" cy="516.02" r="2.05"/><circle cx="609.00" cy="519.40" r="2.05"/><circle cx="609.00" cy="522.11" r="2.05"/><circle cx="609.00" cy="524.82" r="2.05"/><circle cx="614.50" cy="500.46" r="2.05"/><circle cx="614.50" cy="504.52" r="2.05"/><circle cx="614.50" cy="507.90" r="2.05"/><circle cx="614.50" cy="511.28" r="2.05"/><circle cx="614.50" cy="513.31" r="2.05"/><circle cx="614.50" cy="518.73" r="2.05"/><circle cx="614.50" cy="524.82" r="2.05"/><circle cx="614.50" cy="528.20" r="2.05"/><circle cx="614.50" cy="530.23" r="2.05"/><circle cx="617.80" cy="502.49" r="2.05"/><circle cx="617.80" cy="505.87" r="2.05"/><circle cx="617.80" cy="509.25" r="2.05"/><circle cx="617.80" cy="514.67" r="2.05"/><circle cx="617.80" cy="518.73" r="2.05"/><circle cx="617.80" cy="526.17" r="2.05"/><circle cx="617.80" cy="530.23" r="2.05"/><circle cx="623.30" cy="473.39" r="2.05"/><circle cx="623.30" cy="488.95" r="2.05"/><circle cx="623.30" cy="494.37" r="2.05"/><circle cx="623.30" cy="505.87" r="2.05"/><circle cx="623.30" cy="511.28" r="2.05"/><circle cx="623.30" cy="516.70" r="2.05"/><circle cx="623.30" cy="521.43" r="2.05"/><circle cx="623.30" cy="525.49" r="2.05"/><circle cx="628.80" cy="474.74" r="2.05"/><circle cx="628.80" cy="491.66" r="2.05"/><circle cx="628.80" cy="495.72" r="2.05"/><circle cx="628.80" cy="501.13" r="2.05"/><circle cx="628.80" cy="507.90" r="2.05"/><circle cx="628.80" cy="512.64" r="2.05"/><circle cx="628.80" cy="516.02" r="2.05"/><circle cx="628.80" cy="519.40" r="2.05"/><circle cx="628.80" cy="522.11" r="2.05"/><circle cx="635.00" cy="488.28" r="2.05"/><circle cx="635.00" cy="491.66" r="2.05"/><circle cx="635.00" cy="497.75" r="2.05"/><circle cx="635.00" cy="503.84" r="2.05"/><circle cx="635.00" cy="507.90" r="2.05"/><circle cx="635.00" cy="513.31" r="2.05"/><circle cx="635.00" cy="516.70" r="2.05"/><circle cx="635.00" cy="520.08" r="2.05"/><circle cx="638.72" cy="477.45" r="2.05"/><circle cx="638.72" cy="487.60" r="2.05"/><circle cx="638.72" cy="494.37" r="2.05"/><circle cx="638.72" cy="501.13" r="2.05"/><circle cx="638.72" cy="507.90" r="2.05"/><circle cx="638.72" cy="511.28" r="2.05"/><circle cx="638.72" cy="518.05" r="2.05"/><circle cx="638.72" cy="527.52" r="2.05"/><circle cx="642.44" cy="476.77" r="2.05"/><circle cx="642.44" cy="486.25" r="2.05"/><circle cx="642.44" cy="495.72" r="2.05"/><circle cx="642.44" cy="501.13" r="2.05"/><circle cx="642.44" cy="503.16" r="2.05"/><circle cx="642.44" cy="509.25" r="2.05"/><circle cx="642.44" cy="519.40" r="2.05"/><circle cx="642.44" cy="522.79" r="2.05"/><circle cx="642.44" cy="534.97" r="2.05"/><circle cx="646.16" cy="487.60" r="2.05"/><circle cx="646.16" cy="490.98" r="2.05"/><circle cx="646.16" cy="497.75" r="2.05"/><circle cx="646.16" cy="503.16" r="2.05"/><circle cx="646.16" cy="507.90" r="2.05"/><circle cx="646.16" cy="516.02" r="2.05"/><circle cx="646.16" cy="520.08" r="2.05"/><circle cx="646.16" cy="524.14" r="2.05"/><circle cx="657.32" cy="488.28" r="2.05"/><circle cx="657.32" cy="490.98" r="2.05"/><circle cx="657.32" cy="503.84" r="2.05"/><circle cx="657.32" cy="509.93" r="2.05"/><circle cx="657.32" cy="513.31" r="2.05"/><circle cx="657.32" cy="517.37" r="2.05"/><circle cx="657.32" cy="522.79" r="2.05"/><circle cx="657.32" cy="530.91" r="2.05"/><circle cx="657.32" cy="532.26" r="2.05"/><circle cx="657.32" cy="542.41" r="2.05"/><circle cx="657.32" cy="545.12" r="2.05"/><circle cx="657.32" cy="548.50" r="2.05"/><circle cx="657.32" cy="553.91" r="2.05"/><circle cx="663.10" cy="509.93" r="2.05"/><circle cx="663.10" cy="522.11" r="2.05"/><circle cx="663.10" cy="528.88" r="2.05"/><circle cx="663.10" cy="532.26" r="2.05"/><circle cx="663.10" cy="541.73" r="2.05"/><circle cx="663.10" cy="543.76" r="2.05"/><circle cx="663.10" cy="555.94" r="2.05"/></g>
<polyline points="609.00,511.28 617.80,516.70 623.30,507.90 635.00,507.22 638.72,507.90 646.16,503.16 663.10,532.94" fill="none" stroke="#2f4585" stroke-width="1.5" stroke-linejoin="round" stroke-linecap="round"/>
<line x1="55.1" y1="606.7" x2="55.1" y2="708.4" stroke="#a0a0a0" stroke-width="1.0"/>
<line x1="53.300000000000004" y1="708.40" x2="55.1" y2="708.40" stroke="#a0a0a0" stroke-width="0.7"/>
<text x="52.9" y="710.50" font-size="5.9" fill="#1e1e1e" text-anchor="end">2</text>
<line x1="53.300000000000004" y1="674.50" x2="55.1" y2="674.50" stroke="#a0a0a0" stroke-width="0.7"/>
<text x="52.9" y="676.60" font-size="5.9" fill="#1e1e1e" text-anchor="end">3</text>
<line x1="53.300000000000004" y1="640.60" x2="55.1" y2="640.60" stroke="#a0a0a0" stroke-width="0.7"/>
<text x="52.9" y="642.70" font-size="5.9" fill="#1e1e1e" text-anchor="end">4</text>
<line x1="53.300000000000004" y1="606.70" x2="55.1" y2="606.70" stroke="#a0a0a0" stroke-width="0.7"/>
<text x="52.9" y="608.80" font-size="5.9" fill="#1e1e1e" text-anchor="end">5</text>
<line x1="55.1" y1="708.4" x2="123.1" y2="708.4" stroke="#a0a0a0" stroke-width="0.9"/>
<line x1="55.10" y1="708.4" x2="55.10" y2="710.4" stroke="#a0a0a0" stroke-width="0.6"/>
<line x1="58.86" y1="708.4" x2="58.86" y2="709.4" stroke="#a0a0a0" stroke-width="0.6"/>
<line x1="62.62" y1="708.4" x2="62.62" y2="709.4" stroke="#a0a0a0" stroke-width="0.6"/>
<line x1="66.38" y1="708.4" x2="66.38" y2="710.4" stroke="#a0a0a0" stroke-width="0.6"/>
<line x1="70.14" y1="708.4" x2="70.14" y2="709.4" stroke="#a0a0a0" stroke-width="0.6"/>
<line x1="73.90" y1="708.4" x2="73.90" y2="709.4" stroke="#a0a0a0" stroke-width="0.6"/>
<line x1="77.66" y1="708.4" x2="77.66" y2="710.4" stroke="#a0a0a0" stroke-width="0.6"/>
<line x1="81.42" y1="708.4" x2="81.42" y2="709.4" stroke="#a0a0a0" stroke-width="0.6"/>
<line x1="85.18" y1="708.4" x2="85.18" y2="709.4" stroke="#a0a0a0" stroke-width="0.6"/>
<line x1="88.94" y1="708.4" x2="88.94" y2="710.4" stroke="#a0a0a0" stroke-width="0.6"/>
<line x1="92.70" y1="708.4" x2="92.70" y2="709.4" stroke="#a0a0a0" stroke-width="0.6"/>
<line x1="96.46" y1="708.4" x2="96.46" y2="709.4" stroke="#a0a0a0" stroke-width="0.6"/>
<line x1="100.22" y1="708.4" x2="100.22" y2="710.4" stroke="#a0a0a0" stroke-width="0.6"/>
<line x1="103.98" y1="708.4" x2="103.98" y2="709.4" stroke="#a0a0a0" stroke-width="0.6"/>
<line x1="107.74" y1="708.4" x2="107.74" y2="709.4" stroke="#a0a0a0" stroke-width="0.6"/>
<line x1="111.50" y1="708.4" x2="111.50" y2="710.4" stroke="#a0a0a0" stroke-width="0.6"/>
<line x1="115.26" y1="708.4" x2="115.26" y2="709.4" stroke="#a0a0a0" stroke-width="0.6"/>
<line x1="119.02" y1="708.4" x2="119.02" y2="709.4" stroke="#a0a0a0" stroke-width="0.6"/>
<line x1="122.78" y1="708.4" x2="122.78" y2="710.4" stroke="#a0a0a0" stroke-width="0.6"/>
<text x="55.10" y="716.0" font-size="6.0" fill="#1e1e1e" text-anchor="middle">0</text>
<text x="66.38" y="716.0" font-size="6.0" fill="#1e1e1e" text-anchor="middle">3</text>
<text x="77.66" y="716.0" font-size="6.0" fill="#1e1e1e" text-anchor="middle">6</text>
<text x="88.94" y="716.0" font-size="6.0" fill="#1e1e1e" text-anchor="middle">9</text>
<text x="100.22" y="716.0" font-size="6.0" fill="#1e1e1e" text-anchor="middle">12</text>
<text x="111.50" y="716.0" font-size="6.0" fill="#1e1e1e" text-anchor="middle">15</text>
<text x="122.78" y="716.0" font-size="6.0" fill="#1e1e1e" text-anchor="middle">18</text>
<text transform="translate(44.70,657.55) rotate(-90) scale(0.86,1)" font-size="6.5" fill="#2a2a2a" text-anchor="middle">Endpoint dilution log<tspan font-size="4.2" dy="1.4">10</tspan><tspan dy="-1.4"> (1:x)</tspan></text>
<polyline points="55.85,681.96 57.73,625.35 58.86,645.69 60.74,637.89 62.62,655.18 66.38,651.45 70.14,650.09 73.90,661.96 77.66,659.25 88.94,668.74 100.22,672.81 122.78,668.74" fill="none" stroke="#e8782c" stroke-width="1.5" stroke-linejoin="round" stroke-linecap="round"/>
<polyline points="55.85,633.82 57.73,620.26 58.86,633.14 62.62,638.90 66.38,628.06 73.90,657.55 77.66,657.55 88.94,662.63 100.22,673.48" fill="none" stroke="#2f4585" stroke-width="1.5" stroke-linejoin="round" stroke-linecap="round"/>
<line x1="80.4" y1="698.4" x2="88.7" y2="698.4" stroke="#e8782c" stroke-width="1.5"/>
<line x1="80.4" y1="704.1" x2="88.7" y2="704.1" stroke="#2f4585" stroke-width="1.5"/>
<text x="91.5" y="700.3" font-size="5.6" fill="#333">Prime-only</text>
<text x="91.5" y="706.0" font-size="5.6" fill="#333">Prime-boost</text>
<line x1="161.7" y1="606.7" x2="161.7" y2="708.4" stroke="#a0a0a0" stroke-width="1.0"/>
<line x1="159.89999999999998" y1="708.40" x2="161.7" y2="708.40" stroke="#a0a0a0" stroke-width="0.7"/>
<text x="159.5" y="710.50" font-size="5.9" fill="#1e1e1e" text-anchor="end">2</text>
<line x1="159.89999999999998" y1="674.50" x2="161.7" y2="674.50" stroke="#a0a0a0" stroke-width="0.7"/>
<text x="159.5" y="676.60" font-size="5.9" fill="#1e1e1e" text-anchor="end">3</text>
<line x1="159.89999999999998" y1="640.60" x2="161.7" y2="640.60" stroke="#a0a0a0" stroke-width="0.7"/>
<text x="159.5" y="642.70" font-size="5.9" fill="#1e1e1e" text-anchor="end">4</text>
<line x1="159.89999999999998" y1="606.70" x2="161.7" y2="606.70" stroke="#a0a0a0" stroke-width="0.7"/>
<text x="159.5" y="608.80" font-size="5.9" fill="#1e1e1e" text-anchor="end">5</text>
<line x1="161.7" y1="708.4" x2="229.7" y2="708.4" stroke="#a0a0a0" stroke-width="0.9"/>
<line x1="161.70" y1="708.4" x2="161.70" y2="710.4" stroke="#a0a0a0" stroke-width="0.6"/>
<line x1="165.46" y1="708.4" x2="165.46" y2="709.4" stroke="#a0a0a0" stroke-width="0.6"/>
<line x1="169.22" y1="708.4" x2="169.22" y2="709.4" stroke="#a0a0a0" stroke-width="0.6"/>
<line x1="172.98" y1="708.4" x2="172.98" y2="710.4" stroke="#a0a0a0" stroke-width="0.6"/>
<line x1="176.74" y1="708.4" x2="176.74" y2="709.4" stroke="#a0a0a0" stroke-width="0.6"/>
<line x1="180.50" y1="708.4" x2="180.50" y2="709.4" stroke="#a0a0a0" stroke-width="0.6"/>
<line x1="184.26" y1="708.4" x2="184.26" y2="710.4" stroke="#a0a0a0" stroke-width="0.6"/>
<line x1="188.02" y1="708.4" x2="188.02" y2="709.4" stroke="#a0a0a0" stroke-width="0.6"/>
<line x1="191.78" y1="708.4" x2="191.78" y2="709.4" stroke="#a0a0a0" stroke-width="0.6"/>
<line x1="195.54" y1="708.4" x2="195.54" y2="710.4" stroke="#a0a0a0" stroke-width="0.6"/>
<line x1="199.30" y1="708.4" x2="199.30" y2="709.4" stroke="#a0a0a0" stroke-width="0.6"/>
<line x1="203.06" y1="708.4" x2="203.06" y2="709.4" stroke="#a0a0a0" stroke-width="0.6"/>
<line x1="206.82" y1="708.4" x2="206.82" y2="710.4" stroke="#a0a0a0" stroke-width="0.6"/>
<line x1="210.58" y1="708.4" x2="210.58" y2="709.4" stroke="#a0a0a0" stroke-width="0.6"/>
<line x1="214.34" y1="708.4" x2="214.34" y2="709.4" stroke="#a0a0a0" stroke-width="0.6"/>
<line x1="218.10" y1="708.4" x2="218.10" y2="710.4" stroke="#a0a0a0" stroke-width="0.6"/>
<line x1="221.86" y1="708.4" x2="221.86" y2="709.4" stroke="#a0a0a0" stroke-width="0.6"/>
<line x1="225.62" y1="708.4" x2="225.62" y2="709.4" stroke="#a0a0a0" stroke-width="0.6"/>
<line x1="229.38" y1="708.4" x2="229.38" y2="710.4" stroke="#a0a0a0" stroke-width="0.6"/>
<text x="161.70" y="716.0" font-size="6.0" fill="#1e1e1e" text-anchor="middle">0</text>
<text x="172.98" y="716.0" font-size="6.0" fill="#1e1e1e" text-anchor="middle">3</text>
<text x="184.26" y="716.0" font-size="6.0" fill="#1e1e1e" text-anchor="middle">6</text>
<text x="195.54" y="716.0" font-size="6.0" fill="#1e1e1e" text-anchor="middle">9</text>
<text x="206.82" y="716.0" font-size="6.0" fill="#1e1e1e" text-anchor="middle">12</text>
<text x="218.10" y="716.0" font-size="6.0" fill="#1e1e1e" text-anchor="middle">15</text>
<text x="229.38" y="716.0" font-size="6.0" fill="#1e1e1e" text-anchor="middle">18</text>
<text transform="translate(151.30,657.55) rotate(-90) scale(0.86,1)" font-size="6.5" fill="#2a2a2a" text-anchor="middle">Endpoint dilution log<tspan font-size="4.2" dy="1.4">10</tspan><tspan dy="-1.4"> (1:x)</tspan></text>
<polyline points="162.45,689.75 164.33,618.57 165.46,616.87 167.34,618.57 169.22,637.21 176.74,658.57 180.50,654.84 184.26,659.25 195.54,657.55 206.82,654.16 229.38,669.41" fill="none" stroke="#e8782c" stroke-width="1.5" stroke-linejoin="round" stroke-linecap="round"/>
<polyline points="162.45,614.16 164.33,618.57 165.46,616.87 167.34,617.55 169.22,622.97 172.98,620.94 176.74,623.65 184.26,625.35 195.54,631.45 206.82,661.62" fill="none" stroke="#2f4585" stroke-width="1.5" stroke-linejoin="round" stroke-linecap="round"/>
<line x1="187.0" y1="698.4" x2="195.29999999999998" y2="698.4" stroke="#e8782c" stroke-width="1.5"/>
<line x1="187.0" y1="704.1" x2="195.29999999999998" y2="704.1" stroke="#2f4585" stroke-width="1.5"/>
<text x="198.1" y="700.3" font-size="5.6" fill="#333">Prime-only</text>
<text x="198.1" y="706.0" font-size="5.6" fill="#333">Prime-boost</text>
<line x1="272.2" y1="606.7" x2="272.2" y2="708.4" stroke="#a0a0a0" stroke-width="1.0"/>
<line x1="270.4" y1="708.40" x2="272.2" y2="708.40" stroke="#a0a0a0" stroke-width="0.7"/>
<text x="270.0" y="710.50" font-size="5.9" fill="#1e1e1e" text-anchor="end">2</text>
<line x1="270.4" y1="674.50" x2="272.2" y2="674.50" stroke="#a0a0a0" stroke-width="0.7"/>
<text x="270.0" y="676.60" font-size="5.9" fill="#1e1e1e" text-anchor="end">3</text>
<line x1="270.4" y1="640.60" x2="272.2" y2="640.60" stroke="#a0a0a0" stroke-width="0.7"/>
<text x="270.0" y="642.70" font-size="5.9" fill="#1e1e1e" text-anchor="end">4</text>
<line x1="270.4" y1="606.70" x2="272.2" y2="606.70" stroke="#a0a0a0" stroke-width="0.7"/>
<text x="270.0" y="608.80" font-size="5.9" fill="#1e1e1e" text-anchor="end">5</text>
<line x1="272.2" y1="708.4" x2="340.2" y2="708.4" stroke="#a0a0a0" stroke-width="0.9"/>
<line x1="272.20" y1="708.4" x2="272.20" y2="710.4" stroke="#a0a0a0" stroke-width="0.6"/>
<line x1="275.96" y1="708.4" x2="275.96" y2="709.4" stroke="#a0a0a0" stroke-width="0.6"/>
<line x1="279.72" y1="708.4" x2="279.72" y2="709.4" stroke="#a0a0a0" stroke-width="0.6"/>
<line x1="283.48" y1="708.4" x2="283.48" y2="710.4" stroke="#a0a0a0" stroke-width="0.6"/>
<line x1="287.24" y1="708.4" x2="287.24" y2="709.4" stroke="#a0a0a0" stroke-width="0.6"/>
<line x1="291.00" y1="708.4" x2="291.00" y2="709.4" stroke="#a0a0a0" stroke-width="0.6"/>
<line x1="294.76" y1="708.4" x2="294.76" y2="710.4" stroke="#a0a0a0" stroke-width="0.6"/>
<line x1="298.52" y1="708.4" x2="298.52" y2="709.4" stroke="#a0a0a0" stroke-width="0.6"/>
<line x1="302.28" y1="708.4" x2="302.28" y2="709.4" stroke="#a0a0a0" stroke-width="0.6"/>
<line x1="306.04" y1="708.4" x2="306.04" y2="710.4" stroke="#a0a0a0" stroke-width="0.6"/>
<line x1="309.80" y1="708.4" x2="309.80" y2="709.4" stroke="#a0a0a0" stroke-width="0.6"/>
<line x1="313.56" y1="708.4" x2="313.56" y2="709.4" stroke="#a0a0a0" stroke-width="0.6"/>
<line x1="317.32" y1="708.4" x2="317.32" y2="710.4" stroke="#a0a0a0" stroke-width="0.6"/>
<line x1="321.08" y1="708.4" x2="321.08" y2="709.4" stroke="#a0a0a0" stroke-width="0.6"/>
<line x1="324.84" y1="708.4" x2="324.84" y2="709.4" stroke="#a0a0a0" stroke-width="0.6"/>
<line x1="328.60" y1="708.4" x2="328.60" y2="710.4" stroke="#a0a0a0" stroke-width="0.6"/>
<line x1="332.36" y1="708.4" x2="332.36" y2="709.4" stroke="#a0a0a0" stroke-width="0.6"/>
<line x1="336.12" y1="708.4" x2="336.12" y2="709.4" stroke="#a0a0a0" stroke-width="0.6"/>
<line x1="339.88" y1="708.4" x2="339.88" y2="710.4" stroke="#a0a0a0" stroke-width="0.6"/>
<text x="272.20" y="716.0" font-size="6.0" fill="#1e1e1e" text-anchor="middle">0</text>
<text x="283.48" y="716.0" font-size="6.0" fill="#1e1e1e" text-anchor="middle">3</text>
<text x="294.76" y="716.0" font-size="6.0" fill="#1e1e1e" text-anchor="middle">6</text>
<text x="306.04" y="716.0" font-size="6.0" fill="#1e1e1e" text-anchor="middle">9</text>
<text x="317.32" y="716.0" font-size="6.0" fill="#1e1e1e" text-anchor="middle">12</text>
<text x="328.60" y="716.0" font-size="6.0" fill="#1e1e1e" text-anchor="middle">15</text>
<text x="339.88" y="716.0" font-size="6.0" fill="#1e1e1e" text-anchor="middle">18</text>
<text transform="translate(261.80,657.55) rotate(-90) scale(0.86,1)" font-size="6.5" fill="#2a2a2a" text-anchor="middle">Endpoint dilution log<tspan font-size="4.2" dy="1.4">10</tspan><tspan dy="-1.4"> (1:x)</tspan></text>
<polyline points="272.95,677.21 274.83,627.04 275.96,625.35 277.84,624.33 279.72,633.14 287.24,632.12 291.00,643.99 294.76,650.77 306.04,649.08 317.32,673.48 339.88,659.25" fill="none" stroke="#e8782c" stroke-width="1.5" stroke-linejoin="round" stroke-linecap="round"/>
<polyline points="272.95,612.80 275.96,616.87 277.84,616.19 279.72,621.96 283.48,614.16 287.24,616.19 294.76,625.35 306.04,637.89 317.32,637.89" fill="none" stroke="#2f4585" stroke-width="1.5" stroke-linejoin="round" stroke-linecap="round"/>
<line x1="297.5" y1="698.4" x2="305.8" y2="698.4" stroke="#e8782c" stroke-width="1.5"/>
<line x1="297.5" y1="704.1" x2="305.8" y2="704.1" stroke="#2f4585" stroke-width="1.5"/>
<text x="308.59999999999997" y="700.3" font-size="5.6" fill="#333">Prime-only</text>
<text x="308.59999999999997" y="706.0" font-size="5.6" fill="#333">Prime-boost</text>
<line x1="382.2" y1="606.7" x2="382.2" y2="708.4" stroke="#a0a0a0" stroke-width="1.0"/>
<line x1="380.4" y1="708.40" x2="382.2" y2="708.40" stroke="#a0a0a0" stroke-width="0.7"/>
<text x="380.0" y="710.50" font-size="5.9" fill="#1e1e1e" text-anchor="end">0</text>
<line x1="380.4" y1="693.87" x2="382.2" y2="693.87" stroke="#a0a0a0" stroke-width="0.7"/>
<text x="380.0" y="695.97" font-size="5.9" fill="#1e1e1e" text-anchor="end">10</text>
<line x1="380.4" y1="679.34" x2="382.2" y2="679.34" stroke="#a0a0a0" stroke-width="0.7"/>
<text x="380.0" y="681.44" font-size="5.9" fill="#1e1e1e" text-anchor="end">20</text>
<line x1="380.4" y1="664.81" x2="382.2" y2="664.81" stroke="#a0a0a0" stroke-width="0.7"/>
<text x="380.0" y="666.91" font-size="5.9" fill="#1e1e1e" text-anchor="end">30</text>
<line x1="380.4" y1="650.29" x2="382.2" y2="650.29" stroke="#a0a0a0" stroke-width="0.7"/>
<text x="380.0" y="652.39" font-size="5.9" fill="#1e1e1e" text-anchor="end">40</text>
<line x1="380.4" y1="635.76" x2="382.2" y2="635.76" stroke="#a0a0a0" stroke-width="0.7"/>
<text x="380.0" y="637.86" font-size="5.9" fill="#1e1e1e" text-anchor="end">50</text>
<line x1="380.4" y1="621.23" x2="382.2" y2="621.23" stroke="#a0a0a0" stroke-width="0.7"/>
<text x="380.0" y="623.33" font-size="5.9" fill="#1e1e1e" text-anchor="end">60</text>
<line x1="380.4" y1="606.70" x2="382.2" y2="606.70" stroke="#a0a0a0" stroke-width="0.7"/>
<text x="380.0" y="608.80" font-size="5.9" fill="#1e1e1e" text-anchor="end">70</text>
<line x1="382.2" y1="708.4" x2="450.2" y2="708.4" stroke="#a0a0a0" stroke-width="0.9"/>
<line x1="382.20" y1="708.4" x2="382.20" y2="710.4" stroke="#a0a0a0" stroke-width="0.6"/>
<line x1="385.96" y1="708.4" x2="385.96" y2="709.4" stroke="#a0a0a0" stroke-width="0.6"/>
<line x1="389.72" y1="708.4" x2="389.72" y2="709.4" stroke="#a0a0a0" stroke-width="0.6"/>
<line x1="393.48" y1="708.4" x2="393.48" y2="710.4" stroke="#a0a0a0" stroke-width="0.6"/>
<line x1="397.24" y1="708.4" x2="397.24" y2="709.4" stroke="#a0a0a0" stroke-width="0.6"/>
<line x1="401.00" y1="708.4" x2="401.00" y2="709.4" stroke="#a0a0a0" stroke-width="0.6"/>
<line x1="404.76" y1="708.4" x2="404.76" y2="710.4" stroke="#a0a0a0" stroke-width="0.6"/>
<line x1="408.52" y1="708.4" x2="408.52" y2="709.4" stroke="#a0a0a0" stroke-width="0.6"/>
<line x1="412.28" y1="708.4" x2="412.28" y2="709.4" stroke="#a0a0a0" stroke-width="0.6"/>
<line x1="416.04" y1="708.4" x2="416.04" y2="710.4" stroke="#a0a0a0" stroke-width="0.6"/>
<line x1="419.80" y1="708.4" x2="419.80" y2="709.4" stroke="#a0a0a0" stroke-width="0.6"/>
<line x1="423.56" y1="708.4" x2="423.56" y2="709.4" stroke="#a0a0a0" stroke-width="0.6"/>
<line x1="427.32" y1="708.4" x2="427.32" y2="710.4" stroke="#a0a0a0" stroke-width="0.6"/>
<line x1="431.08" y1="708.4" x2="431.08" y2="709.4" stroke="#a0a0a0" stroke-width="0.6"/>
<line x1="434.84" y1="708.4" x2="434.84" y2="709.4" stroke="#a0a0a0" stroke-width="0.6"/>
<line x1="438.60" y1="708.4" x2="438.60" y2="710.4" stroke="#a0a0a0" stroke-width="0.6"/>
<line x1="442.36" y1="708.4" x2="442.36" y2="709.4" stroke="#a0a0a0" stroke-width="0.6"/>
<line x1="446.12" y1="708.4" x2="446.12" y2="709.4" stroke="#a0a0a0" stroke-width="0.6"/>
<line x1="449.88" y1="708.4" x2="449.88" y2="710.4" stroke="#a0a0a0" stroke-width="0.6"/>
<text x="382.20" y="716.0" font-size="6.0" fill="#1e1e1e" text-anchor="middle">0</text>
<text x="393.48" y="716.0" font-size="6.0" fill="#1e1e1e" text-anchor="middle">3</text>
<text x="404.76" y="716.0" font-size="6.0" fill="#1e1e1e" text-anchor="middle">6</text>
<text x="416.04" y="716.0" font-size="6.0" fill="#1e1e1e" text-anchor="middle">9</text>
<text x="427.32" y="716.0" font-size="6.0" fill="#1e1e1e" text-anchor="middle">12</text>
<text x="438.60" y="716.0" font-size="6.0" fill="#1e1e1e" text-anchor="middle">15</text>
<text x="449.88" y="716.0" font-size="6.0" fill="#1e1e1e" text-anchor="middle">18</text>
<text transform="translate(370.00,657.55) rotate(-90) scale(0.86,1)" font-size="6.4" fill="#2a2a2a" text-anchor="middle">Avidity Index, %</text>
<polyline points="384.83,692.42 385.96,691.69 387.84,688.06 389.72,690.24 397.24,669.17 401.00,637.21 404.76,659.00 416.04,629.95 449.88,696.78" fill="none" stroke="#e8782c" stroke-width="1.5" stroke-linejoin="round" stroke-linecap="round"/>
<polyline points="382.95,654.64 384.83,647.38 385.96,654.64 389.72,656.82 393.48,645.93 397.24,648.83 401.00,657.55 404.76,644.47 416.04,622.68 427.32,629.95" fill="none" stroke="#2f4585" stroke-width="1.5" stroke-linejoin="round" stroke-linecap="round"/>
<line x1="407.5" y1="698.4" x2="415.8" y2="698.4" stroke="#e8782c" stroke-width="1.5"/>
<line x1="407.5" y1="704.1" x2="415.8" y2="704.1" stroke="#2f4585" stroke-width="1.5"/>
<text x="418.59999999999997" y="700.3" font-size="5.6" fill="#333">Prime-only</text>
<text x="418.59999999999997" y="706.0" font-size="5.6" fill="#333">Prime-boost</text>
<line x1="493.5" y1="606.7" x2="493.5" y2="708.4" stroke="#a0a0a0" stroke-width="1.0"/>
<line x1="491.7" y1="708.40" x2="493.5" y2="708.40" stroke="#a0a0a0" stroke-width="0.7"/>
<text x="491.3" y="710.50" font-size="5.9" fill="#1e1e1e" text-anchor="end">0</text>
<line x1="491.7" y1="682.98" x2="493.5" y2="682.98" stroke="#a0a0a0" stroke-width="0.7"/>
<text x="491.3" y="685.08" font-size="5.9" fill="#1e1e1e" text-anchor="end">500</text>
<line x1="491.7" y1="657.55" x2="493.5" y2="657.55" stroke="#a0a0a0" stroke-width="0.7"/>
<text x="491.3" y="659.65" font-size="5.9" fill="#1e1e1e" text-anchor="end">1000</text>
<line x1="491.7" y1="632.12" x2="493.5" y2="632.12" stroke="#a0a0a0" stroke-width="0.7"/>
<text x="491.3" y="634.23" font-size="5.9" fill="#1e1e1e" text-anchor="end">1500</text>
<line x1="491.7" y1="606.70" x2="493.5" y2="606.70" stroke="#a0a0a0" stroke-width="0.7"/>
<text x="491.3" y="608.80" font-size="5.9" fill="#1e1e1e" text-anchor="end">2000</text>
<line x1="493.5" y1="708.4" x2="561.5" y2="708.4" stroke="#a0a0a0" stroke-width="0.9"/>
<line x1="493.50" y1="708.4" x2="493.50" y2="710.4" stroke="#a0a0a0" stroke-width="0.6"/>
<line x1="497.26" y1="708.4" x2="497.26" y2="709.4" stroke="#a0a0a0" stroke-width="0.6"/>
<line x1="501.02" y1="708.4" x2="501.02" y2="709.4" stroke="#a0a0a0" stroke-width="0.6"/>
<line x1="504.78" y1="708.4" x2="504.78" y2="710.4" stroke="#a0a0a0" stroke-width="0.6"/>
<line x1="508.54" y1="708.4" x2="508.54" y2="709.4" stroke="#a0a0a0" stroke-width="0.6"/>
<line x1="512.30" y1="708.4" x2="512.30" y2="709.4" stroke="#a0a0a0" stroke-width="0.6"/>
<line x1="516.06" y1="708.4" x2="516.06" y2="710.4" stroke="#a0a0a0" stroke-width="0.6"/>
<line x1="519.82" y1="708.4" x2="519.82" y2="709.4" stroke="#a0a0a0" stroke-width="0.6"/>
<line x1="523.58" y1="708.4" x2="523.58" y2="709.4" stroke="#a0a0a0" stroke-width="0.6"/>
<line x1="527.34" y1="708.4" x2="527.34" y2="710.4" stroke="#a0a0a0" stroke-width="0.6"/>
<line x1="531.10" y1="708.4" x2="531.10" y2="709.4" stroke="#a0a0a0" stroke-width="0.6"/>
<line x1="534.86" y1="708.4" x2="534.86" y2="709.4" stroke="#a0a0a0" stroke-width="0.6"/>
<line x1="538.62" y1="708.4" x2="538.62" y2="710.4" stroke="#a0a0a0" stroke-width="0.6"/>
<line x1="542.38" y1="708.4" x2="542.38" y2="709.4" stroke="#a0a0a0" stroke-width="0.6"/>
<line x1="546.14" y1="708.4" x2="546.14" y2="709.4" stroke="#a0a0a0" stroke-width="0.6"/>
<line x1="549.90" y1="708.4" x2="549.90" y2="710.4" stroke="#a0a0a0" stroke-width="0.6"/>
<line x1="553.66" y1="708.4" x2="553.66" y2="709.4" stroke="#a0a0a0" stroke-width="0.6"/>
<line x1="557.42" y1="708.4" x2="557.42" y2="709.4" stroke="#a0a0a0" stroke-width="0.6"/>
<line x1="561.18" y1="708.4" x2="561.18" y2="710.4" stroke="#a0a0a0" stroke-width="0.6"/>
<text x="493.50" y="716.0" font-size="6.0" fill="#1e1e1e" text-anchor="middle">0</text>
<text x="504.78" y="716.0" font-size="6.0" fill="#1e1e1e" text-anchor="middle">3</text>
<text x="516.06" y="716.0" font-size="6.0" fill="#1e1e1e" text-anchor="middle">6</text>
<text x="527.34" y="716.0" font-size="6.0" fill="#1e1e1e" text-anchor="middle">9</text>
<text x="538.62" y="716.0" font-size="6.0" fill="#1e1e1e" text-anchor="middle">12</text>
<text x="549.90" y="716.0" font-size="6.0" fill="#1e1e1e" text-anchor="middle">15</text>
<text x="561.18" y="716.0" font-size="6.0" fill="#1e1e1e" text-anchor="middle">18</text>
<text transform="translate(475.70,657.55) rotate(-90) scale(0.86,1)" font-size="6.4" fill="#2a2a2a" text-anchor="middle">Phagocytic score</text>
<polyline points="494.25,705.35 496.13,643.82 497.26,659.58 499.14,637.72 501.02,664.16 504.78,669.75 508.54,679.42 516.06,687.30 527.34,685.26 538.62,686.03 561.18,698.74" fill="none" stroke="#e8782c" stroke-width="1.5" stroke-linejoin="round" stroke-linecap="round"/>
<polyline points="494.25,670.77 496.13,626.02 497.26,633.65 501.02,619.92 504.78,643.31 508.54,628.06 512.30,634.16 516.06,674.84 527.34,669.25 538.62,680.94" fill="none" stroke="#2f4585" stroke-width="1.5" stroke-linejoin="round" stroke-linecap="round"/>
<line x1="518.8" y1="698.4" x2="527.1" y2="698.4" stroke="#e8782c" stroke-width="1.5"/>
<line x1="518.8" y1="704.1" x2="527.1" y2="704.1" stroke="#2f4585" stroke-width="1.5"/>
<text x="529.9" y="700.3" font-size="5.6" fill="#333">Prime-only</text>
<text x="529.9" y="706.0" font-size="5.6" fill="#333">Prime-boost</text>
<line x1="606.8" y1="606.7" x2="606.8" y2="708.4" stroke="#a0a0a0" stroke-width="1.0"/>
<line x1="605.0" y1="708.40" x2="606.8" y2="708.40" stroke="#a0a0a0" stroke-width="0.7"/>
<text x="604.5999999999999" y="710.50" font-size="5.9" fill="#1e1e1e" text-anchor="end">0</text>
<line x1="605.0" y1="688.06" x2="606.8" y2="688.06" stroke="#a0a0a0" stroke-width="0.7"/>
<text x="604.5999999999999" y="690.16" font-size="5.9" fill="#1e1e1e" text-anchor="end">2000</text>
<line x1="605.0" y1="667.72" x2="606.8" y2="667.72" stroke="#a0a0a0" stroke-width="0.7"/>
<text x="604.5999999999999" y="669.82" font-size="5.9" fill="#1e1e1e" text-anchor="end">4000</text>
<line x1="605.0" y1="647.38" x2="606.8" y2="647.38" stroke="#a0a0a0" stroke-width="0.7"/>
<text x="604.5999999999999" y="649.48" font-size="5.9" fill="#1e1e1e" text-anchor="end">6000</text>
<line x1="605.0" y1="627.04" x2="606.8" y2="627.04" stroke="#a0a0a0" stroke-width="0.7"/>
<text x="604.5999999999999" y="629.14" font-size="5.9" fill="#1e1e1e" text-anchor="end">8000</text>
<line x1="605.0" y1="606.70" x2="606.8" y2="606.70" stroke="#a0a0a0" stroke-width="0.7"/>
<text x="604.5999999999999" y="608.80" font-size="5.9" fill="#1e1e1e" text-anchor="end">10000</text>
<line x1="606.8" y1="708.4" x2="674.8" y2="708.4" stroke="#a0a0a0" stroke-width="0.9"/>
<line x1="606.80" y1="708.4" x2="606.80" y2="710.4" stroke="#a0a0a0" stroke-width="0.6"/>
<line x1="610.56" y1="708.4" x2="610.56" y2="709.4" stroke="#a0a0a0" stroke-width="0.6"/>
<line x1="614.32" y1="708.4" x2="614.32" y2="709.4" stroke="#a0a0a0" stroke-width="0.6"/>
<line x1="618.08" y1="708.4" x2="618.08" y2="710.4" stroke="#a0a0a0" stroke-width="0.6"/>
<line x1="621.84" y1="708.4" x2="621.84" y2="709.4" stroke="#a0a0a0" stroke-width="0.6"/>
<line x1="625.60" y1="708.4" x2="625.60" y2="709.4" stroke="#a0a0a0" stroke-width="0.6"/>
<line x1="629.36" y1="708.4" x2="629.36" y2="710.4" stroke="#a0a0a0" stroke-width="0.6"/>
<line x1="633.12" y1="708.4" x2="633.12" y2="709.4" stroke="#a0a0a0" stroke-width="0.6"/>
<line x1="636.88" y1="708.4" x2="636.88" y2="709.4" stroke="#a0a0a0" stroke-width="0.6"/>
<line x1="640.64" y1="708.4" x2="640.64" y2="710.4" stroke="#a0a0a0" stroke-width="0.6"/>
<line x1="644.40" y1="708.4" x2="644.40" y2="709.4" stroke="#a0a0a0" stroke-width="0.6"/>
<line x1="648.16" y1="708.4" x2="648.16" y2="709.4" stroke="#a0a0a0" stroke-width="0.6"/>
<line x1="651.92" y1="708.4" x2="651.92" y2="710.4" stroke="#a0a0a0" stroke-width="0.6"/>
<line x1="655.68" y1="708.4" x2="655.68" y2="709.4" stroke="#a0a0a0" stroke-width="0.6"/>
<line x1="659.44" y1="708.4" x2="659.44" y2="709.4" stroke="#a0a0a0" stroke-width="0.6"/>
<line x1="663.20" y1="708.4" x2="663.20" y2="710.4" stroke="#a0a0a0" stroke-width="0.6"/>
<line x1="666.96" y1="708.4" x2="666.96" y2="709.4" stroke="#a0a0a0" stroke-width="0.6"/>
<line x1="670.72" y1="708.4" x2="670.72" y2="709.4" stroke="#a0a0a0" stroke-width="0.6"/>
<line x1="674.48" y1="708.4" x2="674.48" y2="710.4" stroke="#a0a0a0" stroke-width="0.6"/>
<text x="606.80" y="716.0" font-size="6.0" fill="#1e1e1e" text-anchor="middle">0</text>
<text x="618.08" y="716.0" font-size="6.0" fill="#1e1e1e" text-anchor="middle">3</text>
<text x="629.36" y="716.0" font-size="6.0" fill="#1e1e1e" text-anchor="middle">6</text>
<text x="640.64" y="716.0" font-size="6.0" fill="#1e1e1e" text-anchor="middle">9</text>
<text x="651.92" y="716.0" font-size="6.0" fill="#1e1e1e" text-anchor="middle">12</text>
<text x="663.20" y="716.0" font-size="6.0" fill="#1e1e1e" text-anchor="middle">15</text>
<text x="674.48" y="716.0" font-size="6.0" fill="#1e1e1e" text-anchor="middle">18</text>
<text transform="translate(586.30,657.55) rotate(-90) scale(0.86,1)" font-size="6.4" fill="#2a2a2a" text-anchor="middle">MFI</text>
<polyline points="607.55,658.06 609.43,621.96 610.56,626.02 612.44,618.90 614.32,637.21 618.08,636.70 621.84,644.84 625.60,649.41 629.36,642.30 640.64,650.43 651.92,660.60 674.48,666.19" fill="none" stroke="#e8782c" stroke-width="1.5" stroke-linejoin="round" stroke-linecap="round"/>
<polyline points="607.55,620.94 610.56,630.09 612.44,615.85 614.32,615.34 618.08,615.34 621.84,616.87 629.36,609.75 640.64,639.24 651.92,654.50" fill="none" stroke="#2f4585" stroke-width="1.5" stroke-linejoin="round" stroke-linecap="round"/>
<line x1="632.0999999999999" y1="698.4" x2="640.4" y2="698.4" stroke="#e8782c" stroke-width="1.5"/>
<line x1="632.0999999999999" y1="704.1" x2="640.4" y2="704.1" stroke="#2f4585" stroke-width="1.5"/>
<text x="643.1999999999999" y="700.3" font-size="5.6" fill="#333">Prime-only</text>
<text x="643.1999999999999" y="706.0" font-size="5.6" fill="#333">Prime-boost</text>
</svg>
</body></html>
